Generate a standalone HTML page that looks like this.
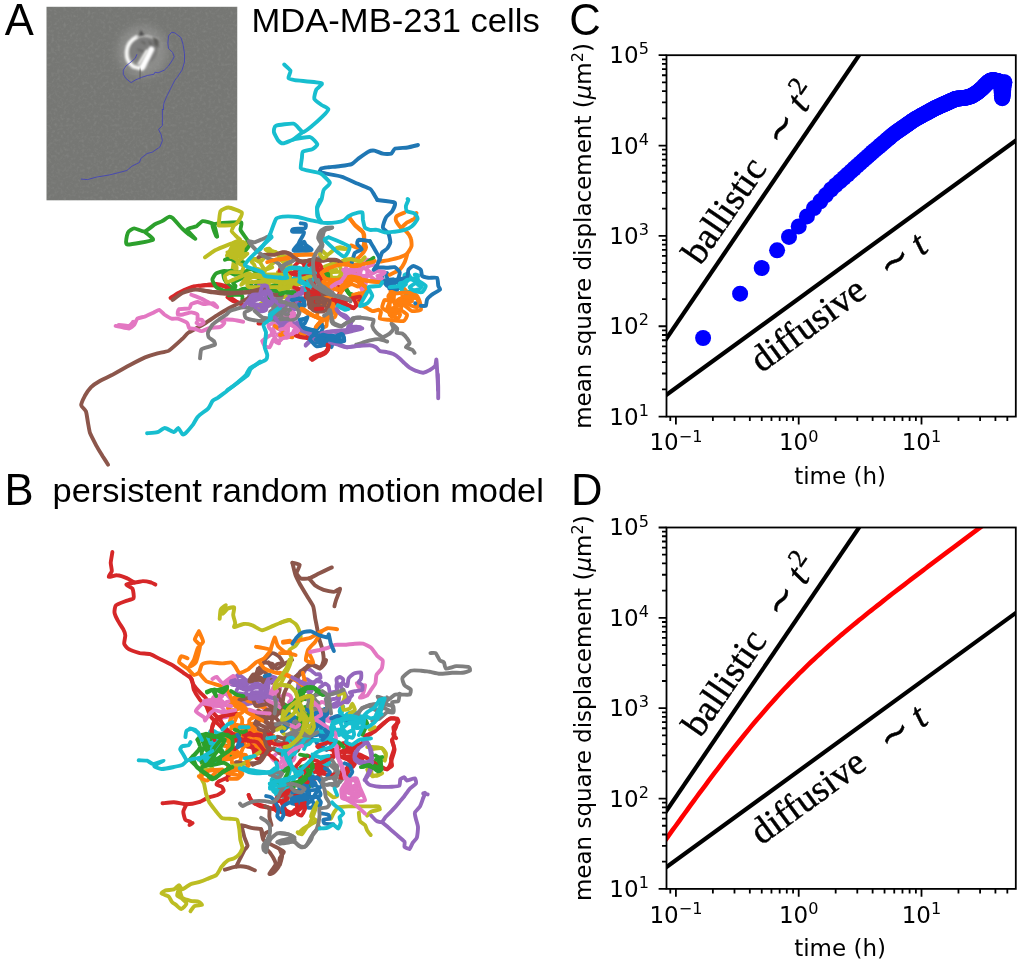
<!DOCTYPE html>
<html lang="en"><head><meta charset="utf-8"><title>Cell migration figure</title>
<style>
html,body{margin:0;padding:0;background:#fff;}
body{width:1025px;height:964px;overflow:hidden;}
svg{display:block;}
.hv{font-family:"Liberation Sans",Arial,Helvetica,sans-serif;fill:#000;}
.dj{font-family:"DejaVu Sans","Liberation Sans",sans-serif;fill:#000;font-size:23px;}
.sup{font-size:16.1px;}
.sr{font-family:"Liberation Serif","Times New Roman",serif;fill:#000;stroke:#000;stroke-width:0.45px;}
.trk{fill:none;stroke-width:3.9;stroke-linejoin:round;stroke-linecap:round;}
</style></head><body>
<svg width="1025" height="964" viewBox="0 0 1025 964">
<rect x="0" y="0" width="1025" height="964" fill="#ffffff"/>
<text class="hv" x="4.8" y="35.3" font-size="43.6">A</text>
<text class="hv" x="4.6" y="504.9" font-size="43.6">B</text>
<text class="hv" x="569.2" y="35.4" font-size="43.6">C</text>
<text class="hv" x="570.9" y="504.9" font-size="43.6">D</text>
<text class="hv" x="251.5" y="31.8" font-size="34" textLength="288.2" lengthAdjust="spacingAndGlyphs">MDA-MB-231 cells</text>
<text class="hv" x="52.6" y="501.8" font-size="34" textLength="491.3" lengthAdjust="spacingAndGlyphs">persistent random motion model</text>
<defs>
<filter id="nz" x="0" y="0" width="100%" height="100%"><feTurbulence type="fractalNoise" baseFrequency="0.33" numOctaves="2" seed="7" result="t"/><feColorMatrix in="t" type="matrix" values="0 0 0 0 0.46  0 0 0 0 0.465  0 0 0 0 0.45  0.9 0.9 0.9 0 -1.25"/></filter>
<filter id="bl1" x="-50%" y="-50%" width="200%" height="200%"><feGaussianBlur stdDeviation="0.9"/></filter>
<filter id="bl3" x="-50%" y="-50%" width="200%" height="200%"><feGaussianBlur stdDeviation="4"/></filter>
<clipPath id="mclip"><rect x="46.3" y="6.6" width="191.2" height="194"/></clipPath>
</defs>
<g id="micro" clip-path="url(#mclip)">
<rect x="46.3" y="6.6" width="191.2" height="194" fill="#767774"/>
<rect x="46.3" y="6.6" width="191.2" height="194" fill="#8c8d8a" filter="url(#nz)" opacity="0.24"/>
<ellipse cx="142.5" cy="51.5" rx="25" ry="26" fill="#a2a2a0" opacity="0.5" filter="url(#bl3)"/>
<ellipse cx="143.6" cy="49.9" rx="14" ry="14.5" fill="#7d7d7b" filter="url(#bl1)"/>
<path d="M141.5 41.1L145.6 44.2M137.3 49.4L143.6 51.5M148.8 41.1L151.9 45.3" stroke="#5c5c5a" stroke-width="1.5" fill="none" filter="url(#bl1)"/>
<path d="M136.3 37.2 C124.4 43.2 123.3 59.8 133.7 66.8 L141.5 68.6" stroke="#fbfbf9" stroke-width="3.8" fill="none" stroke-linecap="round" filter="url(#bl1)"/>
<path d="M135.8 37.5 C142.5 34.7 150.8 35.9 158.6 40.3" stroke="#cfcfcd" stroke-width="1.8" fill="none" filter="url(#bl1)"/>
<path d="M151.3 49.4 L142.5 66.8" stroke="#ffffff" stroke-width="6" fill="none" stroke-linecap="round" filter="url(#bl1)"/>
<path d="M146.7 51.0 L138.9 63.9" stroke="#ecece9" stroke-width="2.8" fill="none" stroke-linecap="round" filter="url(#bl1)"/>
<path d="M138.6 35.9 L140.7 29.9 L144.8 35.2 Z" fill="#4a4a48" filter="url(#bl1)"/>
<path d="M152.4 36.5 L158.6 39.6 L158.3 47.9 L154.5 44.8 Z" fill="#5b5b59" filter="url(#bl1)"/>
<path d="M140.7 68.6 L140.2 79.0" stroke="#5a5a58" stroke-width="1.8" fill="none" filter="url(#bl1)"/>
<polyline points="136.8,54.6 135.3,58.2 131.1,61.9 125.9,66.0 123.3,70.2 123.3,74.3 125.9,78.5 131.1,82.6 135.3,80.0 141.5,77.4 147.7,75.4 153.9,74.3 155.0,72.2 158.1,72.8 164.3,70.2 168.5,66.0 172.6,59.8 174.2,56.7 172.6,52.5 168.5,48.4 167.9,43.2 168.5,35.9 171.6,32.3 174.7,32.8 180.9,37.5 183.0,44.2 184.5,53.6 184.5,61.9 182.0,70.2 177.8,76.4 174.7,80.5 170.5,88.8 166.4,97.1 163.8,103.4 163.3,110.0 162.4,109.1 162.4,125.6 158.5,129.4 161.1,134.4 162.4,140.8 159.8,147.1 152.2,152.2 147.1,153.5 140.8,158.5 139.5,162.4 131.9,166.2 126.8,170.5 119.2,172.5 109.1,175.0 96.4,177.1 87.5,179.6 81.2,179.1" fill="none" stroke="#3b3cc0" stroke-width="1" stroke-linejoin="round" stroke-linecap="round" opacity="0.78"/>
</g>
<g id="tracksA">
<path class="trk" stroke="#bcbd22" d="M258.9 281.2C258.8 281.5 258.2 284.3 258.2 285.0C258.3 285.7 258.9 288.1 259.2 288.8C259.5 289.4 260.7 291.7 261.2 292.1C261.7 292.5 264.3 293.3 264.9 293.3C265.6 293.2 267.8 291.7 268.4 291.6C269.1 291.5 271.6 292.6 272.2 292.5C272.9 292.3 274.7 290.4 275.1 289.9C275.5 289.3 276.4 286.9 276.4 286.2C276.4 285.5 275.8 282.9 275.3 282.4C274.9 282.0 272.3 281.4 271.6 281.4C270.9 281.3 268.4 281.6 267.7 281.6C267.0 281.6 264.4 281.6 263.8 281.3C263.1 281.1 261.0 279.5 260.7 278.9C260.4 278.3 260.2 275.7 260.3 275.0C260.4 274.3 261.1 271.9 261.6 271.4C262.0 270.9 264.5 270.0 265.1 269.7C265.7 269.3 267.8 267.9 268.3 267.5C268.9 267.0 270.6 265.3 271.2 264.8C271.7 264.3 273.6 262.8 274.1 262.2C274.6 261.7 276.0 259.6 276.6 259.3C277.2 259.0 279.9 259.3 280.5 259.0C281.1 258.6 282.2 255.9 282.7 255.8C283.3 255.6 286.1 256.8 286.3 257.2C286.6 257.7 285.6 260.3 285.4 261.0C285.2 261.7 284.6 264.1 284.6 264.8C284.5 265.5 284.9 268.0 285.0 268.7C285.1 269.4 285.8 271.8 286.0 272.5C286.3 273.1 288.0 275.2 288.0 275.8C288.1 276.5 287.0 278.9 287.0 279.6C287.0 280.3 287.8 282.7 287.9 283.4C288.0 284.1 287.9 286.6 288.0 287.3C288.0 288.0 288.0 290.5 288.1 291.2C288.3 291.9 289.8 294.3 289.7 294.8C289.5 295.3 286.8 296.2 286.2 296.5C285.5 296.7 283.1 297.2 282.4 297.5C281.7 297.8 279.6 299.4 279.0 299.4C278.4 299.4 276.1 297.9 275.4 297.9C274.8 297.9 272.4 299.0 271.8 299.3C271.1 299.6 269.0 300.9 268.3 301.1C267.7 301.3 265.1 301.5 264.5 301.7C263.8 301.9 261.5 303.0 261.0 303.4C260.5 303.9 259.2 306.1 258.9 306.8C258.7 307.4 258.0 310.2 258.2 310.6C258.5 311.0 261.5 310.9 262.1 310.7C262.8 310.4 264.5 308.5 265.1 308.1C265.6 307.6 267.6 306.0 268.2 305.8C268.8 305.5 271.3 305.0 272.0 305.0C272.7 305.1 275.1 306.4 275.7 306.3C276.3 306.2 278.6 304.5 278.9 304.0C279.1 303.4 278.7 300.8 278.7 300.1C278.7 299.3 278.7 296.8 278.5 296.2C278.2 295.6 275.9 294.1 275.6 293.5C275.2 293.0 275.2 290.3 274.9 289.7C274.6 289.1 272.6 287.4 272.1 287.0C271.6 286.5 269.4 285.2 268.9 284.7C268.4 284.2 267.0 282.1 266.6 281.5C266.2 280.9 265.1 278.7 264.8 278.1C264.5 277.4 263.3 275.1 263.3 274.5C263.3 273.8 264.9 271.6 264.9 270.9C264.8 270.3 263.0 267.9 262.9 267.6"/>
<path class="trk" stroke="#bcbd22" d="M242.7 256.3C242.6 256.7 241.9 259.6 241.4 260.0C241.0 260.4 238.2 260.6 237.7 261.0C237.1 261.3 235.1 263.2 235.0 263.8C234.9 264.4 236.5 266.7 236.6 267.4C236.7 268.1 236.5 271.1 236.1 271.3C235.8 271.4 233.1 269.7 232.8 269.2C232.6 268.6 233.1 266.0 233.2 265.3C233.2 264.6 233.7 262.2 233.8 261.5C233.9 260.7 233.9 258.3 233.9 257.6C233.9 256.8 233.8 254.4 233.9 253.7C234.0 253.0 234.6 250.4 235.1 249.9C235.5 249.4 238.1 248.7 238.6 248.3C239.2 247.9 240.8 246.0 241.2 245.4C241.7 244.9 243.6 242.6 243.5 242.2C243.3 241.9 240.1 241.4 239.6 241.7C239.1 242.0 238.3 244.8 237.7 245.1C237.2 245.4 234.4 244.6 233.8 244.9C233.2 245.2 231.6 247.3 231.4 247.9C231.2 248.6 231.4 251.2 231.6 251.8C231.9 252.5 233.7 254.4 233.8 255.0C233.9 255.7 233.2 258.4 232.8 258.8C232.3 259.1 229.4 259.1 228.9 258.8C228.4 258.5 226.9 256.0 227.0 255.5C227.0 254.9 228.9 252.7 229.5 252.5C230.1 252.3 232.7 252.8 233.3 253.2C233.9 253.5 235.2 255.9 235.8 256.2C236.4 256.4 239.1 256.3 239.7 256.1C240.4 255.8 242.2 254.0 242.7 253.5C243.2 253.0 245.1 251.3 245.4 250.7C245.6 250.1 245.2 247.5 245.4 246.8C245.6 246.2 247.0 243.9 247.6 243.6C248.2 243.3 251.4 243.8 251.5 243.6C251.6 243.4 248.8 241.5 248.2 241.5C247.6 241.5 245.2 243.0 244.9 243.5C244.5 244.1 244.4 247.0 244.4 247.4"/>
<path class="trk" stroke="#bcbd22" d="M277.9 272.1C278.3 272.1 281.1 272.0 281.8 272.1C282.5 272.2 284.9 272.7 285.6 272.9C286.3 273.1 288.7 274.7 289.2 274.5C289.6 274.3 290.5 271.4 290.4 270.8C290.4 270.1 288.9 268.0 288.5 267.4C288.2 266.7 287.1 264.5 286.6 264.0C286.1 263.5 283.8 262.5 283.2 262.1C282.6 261.6 280.8 260.0 280.4 259.4C280.0 258.8 279.5 256.2 279.1 255.7C278.6 255.2 276.4 253.9 275.8 253.5C275.3 253.1 273.3 251.4 272.7 251.2C272.0 251.0 269.5 251.5 268.8 251.4C268.1 251.2 265.3 249.7 265.4 249.5C265.4 249.2 268.6 248.4 269.2 248.6C269.8 248.8 271.4 250.9 272.0 251.3C272.6 251.6 275.3 251.7 275.9 252.0C276.5 252.4 278.2 254.3 278.5 254.9C278.9 255.5 279.4 258.2 279.8 258.5C280.3 258.9 283.0 259.1 283.7 259.2C284.4 259.3 286.9 259.6 287.5 260.0C288.1 260.3 289.9 262.2 290.2 262.8C290.5 263.4 290.5 266.0 290.4 266.7C290.4 267.4 289.7 269.8 289.5 270.4C289.2 271.1 287.8 273.2 287.4 273.7C286.9 274.3 285.2 276.0 284.7 276.5C284.2 277.0 282.4 279.1 281.8 279.2C281.2 279.3 278.8 277.9 278.1 277.7C277.5 277.6 274.9 277.8 274.3 277.9C273.6 278.1 271.3 279.7 270.7 279.5C270.1 279.4 268.6 277.1 268.0 276.7C267.5 276.2 265.3 275.0 264.7 274.7C264.1 274.3 261.8 273.3 261.3 272.8C260.8 272.4 259.7 270.0 259.2 269.6C258.6 269.1 256.0 268.7 255.5 268.2C255.0 267.7 254.5 265.1 254.1 264.5C253.7 264.0 251.5 262.2 251.5 261.7C251.5 261.2 253.7 259.3 254.3 259.0C255.0 258.8 257.5 259.1 258.2 259.2C258.9 259.4 261.3 260.8 261.9 260.6C262.4 260.4 264.0 257.8 264.2 257.5"/>
<path class="trk" stroke="#2ca02c" d="M238.4 278.5C238.6 278.3 240.8 276.4 241.4 276.1C242.0 275.8 244.5 275.1 245.2 275.0C245.9 274.9 248.3 275.1 249.1 275.1C249.8 275.2 252.3 275.3 252.9 275.5C253.6 275.7 255.8 276.9 256.5 277.2C257.1 277.5 259.8 279.1 259.9 278.9C260.1 278.8 258.6 276.1 258.2 275.4C257.8 274.8 256.4 272.8 255.9 272.3C255.4 271.8 253.6 270.0 253.0 269.7C252.4 269.4 249.8 268.9 249.1 269.1C248.5 269.2 246.6 271.1 246.0 271.3C245.3 271.6 242.8 271.6 242.1 271.7C241.4 271.8 239.0 272.4 238.3 272.5C237.5 272.5 235.0 272.6 234.4 272.4C233.7 272.2 231.6 270.7 230.9 270.6C230.2 270.5 227.8 271.4 227.1 271.5C226.4 271.6 223.6 271.4 223.2 271.7C222.9 272.1 223.4 274.9 223.5 275.6C223.6 276.3 224.2 278.7 224.5 279.4C224.7 280.0 226.1 282.1 226.5 282.7C227.0 283.3 228.8 285.0 229.3 285.4C229.9 285.9 232.0 287.2 232.5 287.6C233.1 288.1 234.7 290.1 235.4 290.3C236.0 290.6 238.6 290.8 239.2 290.6C239.9 290.5 242.1 289.1 242.7 288.9C243.4 288.8 246.0 288.8 246.6 288.9C247.3 289.1 249.7 290.4 250.3 290.3C250.9 290.2 252.9 288.4 253.5 288.0C254.0 287.6 256.1 286.2 256.6 285.6C257.0 285.1 258.2 282.5 258.4 282.2"/>
<path class="trk" stroke="#2ca02c" d="M269.6 290.5C269.9 290.6 272.6 291.6 273.2 292.0C273.8 292.3 276.0 293.6 276.4 294.1C276.9 294.7 278.3 297.0 278.2 297.6C278.2 298.2 276.5 300.6 276.0 300.8C275.5 301.0 272.9 300.1 272.2 299.8C271.6 299.5 269.7 297.9 269.1 297.5C268.5 297.0 266.5 295.5 265.9 295.2C265.3 294.8 263.1 293.7 262.4 293.5C261.8 293.2 259.3 292.7 258.6 292.6C257.9 292.5 255.1 293.0 254.7 292.6C254.4 292.3 255.0 289.5 255.1 288.8C255.2 288.1 255.5 285.5 255.9 284.9C256.2 284.4 258.5 282.7 259.1 282.7C259.7 282.7 261.8 284.4 262.4 284.8C263.0 285.1 265.1 286.4 265.8 286.7C266.4 286.9 268.9 287.8 269.5 287.7C270.2 287.6 272.2 285.9 272.9 285.7C273.5 285.5 276.1 285.6 276.8 285.7C277.5 285.8 279.8 286.7 280.5 286.9C281.2 287.1 284.0 287.4 284.3 287.5"/>
<path class="trk" stroke="#d62728" d="M311.4 286.7C311.1 286.5 309.3 284.2 308.8 283.8C308.2 283.4 306.0 282.0 305.4 282.0C304.7 281.9 302.3 282.9 301.7 283.2C301.0 283.4 298.7 284.5 298.1 284.7C297.4 284.9 295.0 285.5 294.3 285.7C293.6 285.9 290.9 287.1 290.6 286.8C290.2 286.6 290.2 283.5 290.6 282.9C290.9 282.4 293.3 281.2 294.0 281.1C294.7 281.0 297.2 282.1 297.8 281.9C298.4 281.7 299.8 279.2 300.4 279.0C301.0 278.8 303.8 278.9 304.3 279.3C304.8 279.6 305.5 282.6 306.0 282.8C306.5 282.9 308.9 281.4 309.4 281.0C310.0 280.6 311.7 278.7 312.2 278.3C312.8 277.8 315.0 276.7 315.6 276.3C316.2 276.0 318.3 274.0 318.8 274.1C319.3 274.2 320.5 276.8 320.7 277.5C320.9 278.2 321.0 280.7 320.9 281.4C320.8 282.1 320.1 284.5 319.7 285.1C319.3 285.6 317.2 287.4 316.6 287.5C316.0 287.6 313.5 286.9 312.8 286.5C312.2 286.2 310.5 284.4 309.9 284.0C309.3 283.6 307.0 282.6 306.4 282.4C305.7 282.1 303.3 281.3 302.7 281.0C302.0 280.8 299.6 279.8 299.2 279.3C298.7 278.8 297.6 276.3 297.7 275.7C297.8 275.1 299.9 273.4 300.5 273.0C301.2 272.7 303.8 272.2 304.4 272.3C305.0 272.5 306.9 274.3 307.3 274.9C307.8 275.4 309.0 277.6 309.2 278.3C309.4 279.0 309.3 281.5 309.2 282.2C309.1 282.9 308.5 285.3 308.2 286.0C308.0 286.6 306.6 288.7 306.3 289.4C306.0 290.0 305.4 292.5 305.4 293.2C305.3 293.9 306.0 296.5 305.8 297.0C305.6 297.6 303.3 299.0 302.7 299.5C302.2 299.9 300.1 301.3 299.5 301.6C298.8 301.9 296.3 302.9 295.7 302.7C295.2 302.5 293.5 300.1 293.5 299.5C293.5 298.9 295.3 296.8 295.6 296.2C295.9 295.6 297.0 293.2 296.9 292.5C296.9 291.9 295.1 289.9 294.9 289.2C294.7 288.6 294.5 286.1 294.5 285.3C294.5 284.6 294.7 282.1 295.0 281.5C295.2 280.8 297.2 278.8 297.5 278.5"/>
<path class="trk" stroke="#d62728" d="M330.9 303.0C330.6 303.2 328.5 305.3 327.9 305.5C327.3 305.8 324.7 305.8 324.0 305.9C323.3 306.0 320.7 307.0 320.2 306.7C319.7 306.5 318.2 304.1 318.1 303.4C318.0 302.8 318.8 300.3 319.1 299.7C319.4 299.1 321.3 297.3 321.9 296.9C322.5 296.6 324.8 295.6 325.5 295.5C326.2 295.3 328.7 294.9 329.4 295.1C330.0 295.3 332.0 296.9 332.6 297.3C333.2 297.7 335.6 299.1 336.1 299.0C336.7 298.9 338.3 296.6 338.6 296.0C338.9 295.4 339.3 292.8 339.7 292.2C340.1 291.7 342.8 290.4 342.9 289.9C342.9 289.4 341.1 287.1 340.5 286.8C339.9 286.5 337.3 286.7 336.6 286.7C335.9 286.7 333.3 286.4 332.7 286.7C332.1 287.0 331.1 289.7 330.5 289.9C330.0 290.1 327.3 289.4 326.7 289.1C326.1 288.7 324.5 286.2 324.0 286.2C323.6 286.2 321.5 288.4 321.3 289.0C321.1 289.6 321.8 292.3 322.2 292.8C322.5 293.4 324.8 294.9 325.4 294.9C326.0 295.0 328.4 293.8 329.0 293.4C329.6 293.0 331.3 291.2 331.8 290.7C332.3 290.2 334.5 288.4 334.8 288.2"/>
<path class="trk" stroke="#d62728" d="M296.6 269.9C296.4 269.6 294.1 267.5 294.1 266.9C294.1 266.4 296.0 264.3 296.5 263.9C297.0 263.4 299.2 261.9 299.9 261.9C300.5 261.9 302.9 263.1 303.4 263.6C303.8 264.1 304.7 266.8 304.5 267.3C304.3 267.9 301.7 268.9 301.1 269.1C300.4 269.4 298.0 269.9 297.3 270.2C296.7 270.5 294.4 271.6 293.9 272.0C293.3 272.4 291.4 274.1 291.0 274.6C290.6 275.2 289.0 277.7 289.2 278.1C289.4 278.5 292.3 278.8 293.0 278.9C293.7 279.0 296.2 279.1 296.9 279.3C297.6 279.5 299.9 280.6 300.5 280.7C301.2 280.7 303.8 280.3 304.4 279.9C304.9 279.5 306.3 277.3 306.6 276.7C306.8 276.0 307.0 273.5 306.9 272.8C306.8 272.1 306.0 269.7 305.8 269.1C305.5 268.4 304.6 266.0 304.6 265.3C304.7 264.6 305.7 261.8 306.1 261.7C306.4 261.6 308.5 264.2 308.8 264.5"/>
<path class="trk" stroke="#8c564b" d="M318.7 301.2C319.0 301.4 321.1 303.5 321.7 303.7C322.3 303.9 325.0 303.8 325.6 303.5C326.2 303.2 328.0 301.1 328.0 300.5C328.1 299.9 326.6 297.6 326.1 297.1C325.6 296.6 323.3 295.5 322.6 295.2C322.0 295.0 319.5 294.8 318.8 294.7C318.1 294.7 315.5 294.3 314.9 294.5C314.3 294.8 312.3 296.8 312.2 297.4C312.2 298.0 313.7 300.3 314.0 300.9C314.4 301.5 315.4 303.8 315.9 304.3C316.4 304.7 318.8 305.7 319.5 305.9C320.2 306.0 322.7 305.8 323.4 305.6C324.1 305.4 326.5 304.4 326.9 303.9C327.2 303.4 327.4 300.7 327.3 300.0C327.1 299.3 325.9 297.1 325.5 296.5C325.1 295.9 323.6 293.8 323.0 293.5C322.5 293.2 319.7 293.3 319.2 293.0C318.6 292.7 317.2 290.2 316.7 290.0C316.1 289.8 313.5 290.4 312.8 290.7C312.2 290.9 310.0 292.3 309.5 292.7C309.0 293.2 307.0 295.0 306.9 295.6C306.8 296.2 307.7 298.8 308.0 299.4C308.4 300.0 310.2 301.9 310.8 302.1C311.4 302.3 314.0 301.9 314.7 302.0C315.4 302.1 317.7 303.1 318.4 303.3C319.1 303.4 321.6 303.6 322.3 303.7C323.0 303.8 325.7 304.5 326.1 304.2C326.6 303.9 327.5 301.1 327.4 300.5C327.3 299.9 325.3 297.9 325.2 297.3C325.1 296.6 326.1 293.8 326.2 293.5"/>
<path class="trk" stroke="#9467bd" d="M260.0 297.5C259.8 297.2 257.8 295.1 257.5 294.4C257.3 293.8 257.5 291.2 257.7 290.5C257.8 289.8 258.6 287.5 258.7 286.8C258.9 286.1 259.2 283.4 259.7 283.0C260.1 282.6 263.1 282.6 263.6 282.9C264.0 283.2 264.6 285.9 264.6 286.6C264.7 287.3 264.6 289.8 264.6 290.5C264.5 291.3 264.1 293.8 263.7 294.4C263.4 294.9 260.6 296.0 260.5 296.5C260.4 297.0 262.1 299.2 262.5 299.8C262.9 300.4 264.7 302.2 265.1 302.8C265.4 303.4 266.3 305.7 266.4 306.4C266.5 307.1 266.1 309.8 265.7 310.3C265.2 310.7 262.6 311.3 261.9 311.3C261.2 311.3 258.7 310.6 258.1 310.3C257.5 310.0 255.6 308.3 255.1 307.9C254.5 307.4 252.5 306.0 252.0 305.6C251.4 305.1 249.1 303.5 249.1 302.9C249.0 302.4 251.0 300.4 251.3 299.8C251.7 299.1 252.4 296.7 252.8 296.2C253.2 295.6 255.6 294.3 255.9 293.7C256.1 293.1 255.7 290.5 255.5 289.8C255.3 289.2 254.1 286.5 253.7 286.4C253.3 286.3 251.1 288.5 250.8 289.1C250.6 289.7 251.0 292.3 250.8 293.0C250.6 293.6 249.2 295.7 248.9 296.4C248.7 297.1 248.0 299.7 248.2 300.2C248.4 300.8 251.2 301.8 251.4 302.4C251.7 302.9 251.4 306.2 251.1 306.3C250.8 306.4 248.7 303.9 248.6 303.3C248.4 302.7 249.1 299.9 249.5 299.5C249.9 299.0 252.6 298.7 253.2 298.3C253.8 298.0 255.5 296.1 256.0 295.6C256.5 295.1 258.5 293.6 259.1 293.2C259.7 292.8 261.9 291.5 262.6 291.5C263.3 291.5 265.6 292.8 266.3 292.8C266.9 292.8 269.2 291.4 269.9 291.3C270.6 291.2 273.2 291.2 273.8 291.5C274.3 291.8 275.8 294.1 276.0 294.7C276.3 295.3 276.7 298.1 276.4 298.6C276.2 299.1 273.5 299.9 273.0 300.4C272.6 300.9 272.0 303.6 271.6 304.1C271.1 304.6 268.7 305.5 268.1 305.9C267.5 306.2 265.6 308.0 265.0 308.2C264.3 308.3 261.5 307.4 261.2 307.3"/>
<path class="trk" stroke="#9467bd" d="M289.4 303.5C289.5 303.8 290.4 306.5 290.8 307.1C291.1 307.7 292.9 309.9 293.5 309.9C294.0 310.0 296.3 308.4 296.8 308.0C297.3 307.5 299.0 305.3 299.0 304.7C298.9 304.1 296.5 302.4 296.4 301.8C296.2 301.1 297.2 298.7 297.4 298.0C297.5 297.3 298.2 294.8 298.0 294.1C297.9 293.5 296.4 291.2 295.8 290.9C295.2 290.7 292.5 291.2 291.9 291.4C291.3 291.7 289.1 293.5 289.0 294.0C288.9 294.6 291.0 297.0 290.8 297.5C290.7 297.9 287.5 298.7 287.3 299.1C287.1 299.6 288.7 302.2 288.6 302.8C288.5 303.4 286.7 305.3 286.2 305.9C285.8 306.4 284.0 308.2 283.5 308.7C283.1 309.3 281.1 311.5 281.2 311.8C281.4 312.2 284.4 312.4 285.1 312.4C285.8 312.4 288.2 311.7 288.8 311.4C289.5 311.1 291.5 309.6 292.0 309.0C292.4 308.5 293.9 306.1 294.1 305.8"/>
<path class="trk" stroke="#7f7f7f" d="M284.2 311.1C283.8 311.1 281.0 311.3 280.3 311.3C279.6 311.2 276.9 310.6 276.4 310.9C275.9 311.2 275.0 313.9 274.5 314.3C274.0 314.7 271.1 315.7 270.8 315.4C270.5 315.2 271.0 311.9 271.4 311.6C271.8 311.3 274.6 312.2 275.3 312.2C276.0 312.2 278.4 311.6 279.1 311.6C279.8 311.5 282.3 311.9 283.0 311.7C283.7 311.6 285.8 310.1 286.5 310.0C287.2 309.9 289.7 310.7 290.3 311.0C290.9 311.4 292.4 313.4 292.8 314.0C293.2 314.5 295.0 316.6 295.0 317.2C295.0 317.8 293.3 320.1 292.8 320.5C292.2 320.9 289.7 321.3 289.0 321.4C288.3 321.5 285.8 321.7 285.1 321.5C284.4 321.4 282.1 320.4 281.5 320.2C280.8 320.0 278.1 319.8 277.6 319.4C277.2 319.0 276.9 316.1 276.5 315.7C276.0 315.3 273.2 315.2 272.6 314.9C272.1 314.5 270.0 312.5 270.0 312.0C270.0 311.5 272.7 310.1 273.0 309.5C273.3 308.9 273.1 306.2 273.4 305.6C273.7 305.0 275.9 303.6 276.3 303.1C276.8 302.6 278.0 300.4 278.5 299.9C279.0 299.4 281.8 297.9 281.7 297.7C281.7 297.5 278.3 297.4 277.8 297.7C277.4 298.1 276.8 300.7 276.6 301.4C276.4 302.1 275.5 304.6 275.6 305.2C275.7 305.9 277.2 308.0 277.6 308.6C277.9 309.2 279.4 311.2 279.8 311.8C280.2 312.4 281.4 314.6 281.7 315.2C281.9 315.9 282.6 318.3 282.6 319.0C282.7 319.7 282.4 322.3 282.1 322.9C281.7 323.4 279.3 325.0 278.8 324.9C278.3 324.8 276.7 322.1 276.5 321.8"/>
<path class="trk" stroke="#7f7f7f" d="M317.7 266.2C317.4 266.4 314.7 268.0 314.5 268.5C314.4 269.0 315.8 271.6 316.3 272.0C316.8 272.3 319.5 272.4 320.2 272.4C320.9 272.4 323.4 272.4 324.1 272.3C324.8 272.2 327.5 271.9 327.9 271.5C328.3 271.1 328.3 268.3 328.5 267.7C328.8 267.0 330.1 264.9 330.5 264.3C330.9 263.7 332.5 261.0 332.8 261.1C333.0 261.2 332.9 264.3 332.8 265.0C332.6 265.7 331.3 267.8 331.0 268.5C330.6 269.1 329.9 271.7 329.4 272.0C328.9 272.4 326.2 272.6 325.5 272.6C324.8 272.6 322.3 272.3 321.7 272.0C321.0 271.8 319.2 270.0 318.6 269.7C318.0 269.4 315.5 269.0 314.8 268.7C314.1 268.5 311.4 267.7 311.2 267.2C311.0 266.7 311.8 263.9 312.2 263.5C312.6 263.1 315.4 263.1 316.1 262.8C316.7 262.6 319.0 261.5 319.5 261.0C320.0 260.6 322.0 258.2 321.9 257.9C321.7 257.7 318.3 257.8 318.0 258.2C317.7 258.5 318.6 261.3 318.6 262.0C318.5 262.7 317.6 265.1 317.4 265.7C317.1 266.4 316.0 268.7 315.5 269.2C315.0 269.6 312.1 270.2 311.8 270.3"/>
<path class="trk" stroke="#ff7f0e" d="M345.2 280.3C345.1 280.6 344.2 283.3 343.8 283.9C343.5 284.5 342.1 286.6 341.9 287.3C341.7 287.9 341.9 290.5 341.7 291.2C341.5 291.8 340.0 293.9 339.8 294.6C339.7 295.2 339.9 297.8 340.0 298.5C340.1 299.2 341.5 302.0 341.2 302.2C341.0 302.4 338.2 301.2 337.6 300.8C336.9 300.5 334.9 299.1 334.4 298.5C334.0 298.0 333.3 295.5 332.9 294.9C332.6 294.3 330.8 292.4 330.7 291.7C330.6 291.1 331.3 288.6 331.4 287.9C331.5 287.2 332.0 284.7 331.8 284.0C331.7 283.3 330.4 281.1 329.9 280.6C329.5 280.1 327.3 278.3 326.8 278.4C326.2 278.4 324.2 280.6 324.1 281.2C323.9 281.8 324.6 284.4 325.0 285.0C325.3 285.6 327.4 287.1 327.8 287.6C328.2 288.2 329.4 290.4 329.6 291.1C329.8 291.8 329.3 294.4 329.6 295.0C329.9 295.6 332.1 297.2 332.7 297.4C333.3 297.6 336.0 297.0 336.6 297.2C337.3 297.4 339.3 298.9 339.8 299.4C340.3 299.9 341.1 302.7 341.6 302.9C342.1 303.1 344.6 301.8 345.2 301.5C345.9 301.2 347.8 299.7 348.4 299.2C349.0 298.8 351.1 297.5 351.7 297.1C352.3 296.7 354.4 295.4 355.0 295.0C355.6 294.7 357.8 293.4 358.5 293.4C359.2 293.3 361.8 294.9 362.2 294.7C362.5 294.5 362.6 291.5 362.5 290.8C362.4 290.1 361.5 287.8 361.4 287.1C361.4 286.4 361.4 283.7 361.7 283.2C362.1 282.6 364.8 281.7 365.1 281.2C365.3 280.6 364.6 277.8 364.2 277.4C363.8 276.9 361.1 276.7 360.4 276.4C359.8 276.1 357.6 274.9 357.0 274.5C356.5 274.0 355.3 271.8 354.9 271.2C354.4 270.7 353.0 268.7 352.5 268.1C352.1 267.6 350.4 265.7 349.9 265.2C349.5 264.7 347.7 262.8 347.1 262.5C346.5 262.1 344.1 261.2 343.4 261.3C342.8 261.3 340.4 262.4 339.8 262.8C339.2 263.1 337.5 265.0 336.9 265.4C336.3 265.7 333.5 265.7 333.1 266.1C332.7 266.6 332.7 269.4 332.4 270.0C332.1 270.6 330.1 272.2 329.7 272.8C329.2 273.3 327.7 275.3 327.2 275.8C326.7 276.3 324.8 278.0 324.4 278.6C324.0 279.1 322.7 281.7 322.9 282.1C323.1 282.6 326.2 283.5 326.5 283.7"/>
<path class="trk" stroke="#ff7f0e" d="M328.6 315.3C328.8 315.6 330.6 318.1 331.1 318.3C331.7 318.4 334.4 317.5 334.8 317.0C335.3 316.6 336.2 313.9 336.1 313.3C336.0 312.7 334.2 310.7 333.7 310.3C333.1 309.9 330.4 309.5 329.9 309.1C329.4 308.7 328.2 306.3 328.2 305.6C328.2 305.0 329.6 302.8 329.8 302.1C330.0 301.4 330.9 298.7 330.7 298.3C330.4 297.9 327.5 297.6 326.8 297.7C326.1 297.8 323.8 299.0 323.4 299.5C323.0 300.0 322.7 302.7 322.3 303.3C322.0 303.9 319.8 305.3 319.5 305.9C319.2 306.5 319.2 309.1 319.0 309.8C318.8 310.5 317.4 312.6 317.3 313.3C317.2 314.0 317.5 316.6 317.8 317.2C318.1 317.8 320.2 319.3 320.6 319.9C320.9 320.5 321.7 322.9 321.9 323.6C322.1 324.3 322.4 327.2 322.8 327.4C323.2 327.6 326.1 326.5 326.4 326.0C326.8 325.5 326.7 322.8 326.7 322.1C326.8 321.4 327.4 319.0 327.5 318.3C327.5 317.6 327.5 315.1 327.5 314.4C327.6 313.7 327.6 311.1 327.9 310.5C328.2 309.9 330.2 308.3 330.8 307.8C331.3 307.3 333.3 305.4 333.6 305.2"/>
<path class="trk" stroke="#ff7f0e" d="M403.0 301.9C402.9 302.3 401.8 304.9 401.6 305.6C401.4 306.3 401.2 308.8 400.9 309.4C400.5 310.0 398.4 311.5 397.9 312.0C397.4 312.5 395.6 314.2 395.1 314.7C394.6 315.2 392.6 317.3 392.1 317.2C391.6 317.1 389.9 314.7 389.8 314.1C389.7 313.4 390.8 311.0 391.2 310.4C391.6 309.8 393.2 307.9 393.8 307.5C394.4 307.1 396.7 306.2 397.4 305.9C398.0 305.6 400.3 304.6 400.9 304.3C401.6 304.0 403.9 303.1 404.5 302.7C405.1 302.3 406.5 300.1 407.1 299.8C407.7 299.5 410.3 299.5 411.0 299.3C411.6 299.1 414.4 298.0 414.5 297.6C414.6 297.2 412.6 294.9 412.0 294.6C411.4 294.2 408.7 294.2 408.2 293.8C407.6 293.4 406.4 291.2 405.9 290.6C405.5 290.1 403.9 288.0 403.3 287.8C402.7 287.5 400.1 288.0 399.4 288.1C398.7 288.2 396.1 288.7 395.6 289.1C395.1 289.6 394.5 292.1 394.3 292.8C394.1 293.5 394.0 296.0 393.9 296.7C393.9 297.4 393.7 299.9 393.8 300.6C393.9 301.3 394.7 303.6 394.9 304.3C395.2 305.0 396.1 307.3 396.4 307.9C396.8 308.5 398.3 310.5 398.6 311.2C398.9 311.8 400.1 314.1 400.1 314.8C400.0 315.4 398.7 317.9 398.1 318.2C397.6 318.4 394.9 317.6 394.4 317.2C393.9 316.8 393.2 314.1 392.7 313.7C392.2 313.3 389.4 313.1 388.9 312.7C388.4 312.4 386.9 310.1 386.8 309.4C386.7 308.8 387.9 306.5 388.2 305.8C388.4 305.1 389.4 302.9 389.7 302.2C389.9 301.5 390.8 299.2 391.1 298.6C391.3 297.9 392.2 295.6 392.5 294.9C392.7 294.2 393.5 291.9 393.7 291.2C394.0 290.6 395.2 287.7 395.0 287.5C394.8 287.3 391.7 288.5 391.3 288.9C390.9 289.4 390.5 292.1 390.5 292.7C390.5 293.4 391.3 295.9 391.3 296.6C391.4 297.3 390.9 299.7 390.7 300.4C390.5 301.1 389.7 303.5 389.6 304.2C389.6 304.9 389.8 307.4 390.1 308.0C390.4 308.6 392.5 310.1 393.0 310.7C393.4 311.2 395.4 313.2 395.4 313.7C395.4 314.3 393.7 316.8 393.1 316.9C392.6 317.0 390.1 315.5 389.8 314.9C389.5 314.4 389.3 311.6 389.6 311.0C389.9 310.5 392.2 309.2 392.8 308.8C393.3 308.3 395.2 306.7 395.8 306.2C396.3 305.8 398.3 304.3 398.8 303.7C399.2 303.2 400.5 300.9 401.0 300.6C401.6 300.2 404.5 300.3 404.9 299.9C405.2 299.4 404.9 296.7 405.1 296.0C405.3 295.3 406.1 292.7 406.6 292.4C407.1 292.0 410.1 291.9 410.5 292.3C410.9 292.6 411.4 295.4 411.3 296.1C411.3 296.7 409.8 298.9 409.6 299.6C409.4 300.2 409.0 303.0 408.9 303.4"/>
<path class="trk" stroke="#e377c2" d="M288.0 331.4C288.0 331.0 288.0 328.2 288.0 327.5C287.9 326.8 287.6 324.3 287.4 323.6C287.2 323.0 285.2 320.8 285.3 320.3C285.4 319.9 288.7 318.8 288.7 318.4C288.7 318.0 286.0 316.1 285.5 316.1C285.0 316.2 283.7 319.0 283.1 319.2C282.5 319.4 279.9 318.7 279.2 318.8C278.6 319.0 276.1 320.3 275.9 320.8C275.6 321.4 276.2 324.0 276.3 324.7C276.5 325.4 276.7 328.1 277.2 328.5C277.6 328.9 280.6 328.6 281.0 329.0C281.5 329.4 281.7 332.2 282.0 332.8C282.4 333.4 284.2 335.3 284.8 335.5C285.5 335.7 288.0 335.4 288.7 335.2C289.4 335.1 291.8 334.2 292.3 333.7C292.8 333.3 293.7 330.8 294.1 330.3C294.5 329.7 296.9 328.1 296.9 327.6C296.9 327.1 294.8 325.2 294.2 324.8C293.6 324.4 291.4 323.2 290.8 322.9C290.1 322.7 287.8 321.7 287.1 321.6C286.4 321.5 283.9 321.5 283.2 321.5C282.5 321.6 280.0 321.7 279.3 322.0C278.7 322.2 276.7 323.9 276.3 324.4C275.8 324.9 274.6 327.1 274.2 327.7C273.8 328.3 272.0 330.2 271.9 330.8C271.8 331.5 272.4 334.0 272.7 334.7C272.9 335.3 274.9 337.0 275.1 337.7C275.4 338.3 275.3 341.0 275.6 341.5C276.0 342.0 279.1 343.2 279.1 343.3C279.1 343.3 275.9 342.2 275.6 341.7C275.2 341.2 275.5 338.5 275.2 337.8C275.0 337.2 273.5 335.2 273.1 334.6C272.8 333.9 271.4 331.6 271.5 331.0C271.6 330.4 273.6 328.6 273.9 328.0C274.2 327.4 274.8 324.5 274.9 324.2"/>
<path class="trk" stroke="#e377c2" d="M358.8 272.1C358.6 271.7 357.3 269.3 356.9 268.6C356.5 268.0 355.3 265.8 354.8 265.4C354.3 264.9 351.9 264.0 351.3 263.7C350.7 263.3 348.6 261.2 348.2 261.3C347.7 261.5 347.1 264.3 346.8 265.0C346.6 265.7 345.9 268.1 345.7 268.7C345.5 269.4 344.9 272.0 345.1 272.6C345.3 273.2 347.2 275.3 347.8 275.4C348.4 275.6 350.8 274.3 351.5 274.3C352.2 274.4 354.6 275.2 355.2 275.6C355.8 276.0 357.3 278.0 357.6 278.6C357.9 279.3 358.3 281.8 358.5 282.4C358.8 283.1 360.0 285.3 360.3 285.9C360.6 286.6 361.5 289.4 361.9 289.5C362.4 289.6 364.5 287.5 364.9 286.9C365.3 286.4 365.7 283.8 365.8 283.1C365.9 282.4 365.9 279.9 366.0 279.2C366.1 278.5 366.9 276.2 367.0 275.5C367.1 274.8 367.4 272.3 367.4 271.6C367.3 270.9 366.4 268.3 366.6 267.8C366.8 267.2 369.3 266.0 369.9 265.7C370.6 265.4 373.5 265.0 373.7 264.6C373.8 264.2 372.1 261.8 371.5 261.4C371.0 260.9 368.7 259.8 368.0 259.8C367.3 259.7 364.7 260.6 364.3 261.1C363.9 261.5 363.8 264.2 363.6 264.9C363.3 265.6 361.9 267.7 361.7 268.3C361.4 269.0 360.6 271.3 360.4 272.0C360.3 272.7 360.5 275.2 360.4 275.9C360.4 276.6 360.0 279.4 360.0 279.8"/>
<path class="trk" stroke="#1f77b4" d="M318.4 338.6C318.4 338.2 318.7 335.3 318.9 334.7C319.2 334.0 320.9 332.2 321.2 331.5C321.6 330.9 322.7 328.6 322.7 327.9C322.7 327.3 322.0 324.3 321.6 324.2C321.2 324.1 319.2 326.3 318.7 326.8C318.3 327.4 316.9 329.4 316.5 330.1C316.2 330.7 315.4 333.0 315.0 333.6C314.6 334.2 312.5 335.9 312.3 336.5C312.2 337.1 312.5 339.8 312.9 340.4C313.3 340.9 315.7 341.9 316.4 342.1C317.1 342.3 319.6 342.8 320.3 342.6C320.9 342.4 322.8 340.6 323.3 340.1C323.7 339.6 324.8 337.2 325.3 336.8C325.8 336.3 328.1 335.1 328.8 335.0C329.4 334.9 332.3 335.2 332.6 335.6C333.0 336.0 332.4 338.7 332.4 339.5C332.4 340.2 333.1 342.8 332.8 343.3C332.5 343.9 330.0 345.0 329.3 345.1C328.7 345.3 326.2 344.9 325.5 344.8C324.7 344.8 322.1 345.1 321.6 344.8C321.0 344.5 319.5 342.3 319.0 341.8C318.5 341.3 316.7 339.7 316.2 339.2C315.7 338.7 314.1 336.6 313.5 336.3C312.9 336.1 309.9 336.9 309.6 336.6C309.3 336.2 310.2 333.1 310.6 332.8C311.1 332.5 313.8 332.9 314.5 332.9C315.2 332.9 317.8 332.7 318.4 332.9C319.0 333.1 321.0 334.7 321.6 335.2C322.1 335.7 323.9 337.4 324.3 337.9C324.8 338.5 326.2 340.5 326.7 341.1C327.1 341.6 328.7 343.5 329.2 344.0C329.6 344.6 331.2 347.2 331.5 347.2C331.8 347.1 332.5 344.2 332.7 343.5C332.9 342.8 333.3 340.3 333.3 339.6C333.3 338.9 333.0 336.1 333.0 335.7"/>
<path class="trk" stroke="#1f77b4" d="M391.1 280.7C391.4 280.6 394.3 280.0 395.0 280.2C395.6 280.3 397.8 281.7 398.3 282.2C398.8 282.7 400.4 285.1 400.3 285.6C400.2 286.0 397.5 287.2 396.8 287.4C396.2 287.6 393.7 287.7 393.0 287.8C392.3 287.9 389.4 288.6 389.1 288.3C388.8 288.0 389.4 285.1 389.3 284.4C389.2 283.7 388.0 281.5 387.8 280.8C387.6 280.1 387.0 277.7 386.9 277.0C386.8 276.3 387.4 273.4 387.1 273.1C386.8 272.8 383.7 273.6 383.3 274.1C382.9 274.5 382.5 277.2 382.5 277.9C382.6 278.6 383.2 281.1 383.6 281.7C383.9 282.3 385.8 283.9 386.4 284.3C387.0 284.7 389.3 285.7 390.0 286.0C390.6 286.2 393.1 286.7 393.7 286.9C394.4 287.1 397.0 288.2 397.5 288.0C398.0 287.8 399.3 285.1 399.2 284.5C399.1 284.0 397.1 282.2 396.5 281.7C396.0 281.3 393.5 279.8 393.3 279.6"/>
<path class="trk" stroke="#17becf" d="M297.9 276.4C298.2 276.2 300.1 274.1 300.5 273.5C301.0 273.0 302.7 271.2 303.2 270.7C303.7 270.2 305.5 268.5 305.9 267.9C306.4 267.3 307.5 265.1 307.9 264.5C308.3 263.9 309.7 261.3 310.0 261.3C310.4 261.3 311.7 264.0 311.9 264.7C312.1 265.4 312.5 267.8 312.7 268.5C312.8 269.2 313.5 271.6 313.5 272.3C313.5 273.0 313.0 275.5 313.0 276.2C313.1 276.9 313.9 279.5 313.7 280.1C313.4 280.6 310.6 281.4 310.3 281.9C309.9 282.5 310.4 285.2 310.2 285.8C309.9 286.4 307.9 288.4 307.3 288.5C306.7 288.7 304.2 287.4 303.6 287.4C302.9 287.5 300.1 289.0 300.1 289.3C300.2 289.5 303.2 290.1 303.9 290.1C304.6 290.1 307.4 290.1 307.8 289.7C308.2 289.3 308.3 286.6 308.3 285.8C308.4 285.1 308.6 282.6 308.4 281.9C308.3 281.3 307.3 278.9 306.9 278.4C306.5 277.8 304.5 276.3 303.8 275.9C303.2 275.6 300.7 275.0 300.0 275.0C299.3 275.0 296.8 275.5 296.2 275.9C295.6 276.2 294.0 278.2 293.4 278.6C292.8 279.0 290.2 280.0 289.9 280.1"/>
<path class="trk" stroke="#17becf" d="M405.9 284.3C405.6 284.5 403.1 285.9 402.5 286.2C401.8 286.6 399.4 288.5 399.1 288.3C398.9 288.1 399.1 285.0 399.4 284.4C399.6 283.7 401.1 281.7 401.6 281.2C402.1 280.7 404.5 279.5 404.8 279.0C405.1 278.4 404.2 275.6 404.5 275.1C404.8 274.6 407.6 273.5 408.1 273.7C408.7 273.9 409.7 276.5 410.2 277.0C410.6 277.6 412.3 279.4 412.8 279.9C413.4 280.3 415.7 281.4 416.2 281.9C416.7 282.3 417.9 284.6 418.4 285.1C418.9 285.5 421.9 286.4 421.9 286.8C421.9 287.2 419.5 289.0 418.9 289.3C418.3 289.6 415.8 290.0 415.1 290.1C414.4 290.3 412.0 290.9 411.3 291.1C410.6 291.3 408.3 292.1 407.6 292.3C406.9 292.4 404.2 292.7 403.7 292.4C403.1 292.1 401.6 289.8 401.5 289.2C401.5 288.6 402.9 286.3 403.3 285.7C403.7 285.1 405.4 283.3 405.8 282.7C406.3 282.2 408.0 280.4 408.6 280.0C409.2 279.6 411.5 278.7 412.2 278.5C412.9 278.4 415.6 279.0 416.1 278.7C416.7 278.4 418.6 275.9 418.4 275.6C418.3 275.2 415.0 274.7 414.7 274.7"/>
<path class="trk" stroke="#d62728" d="M170.5 297.9C171.3 297.4 176.7 293.7 178.8 292.7C180.9 291.7 190.7 287.1 193.4 286.5C196.0 285.8 205.0 285.4 207.9 285.4C210.7 285.4 222.2 285.7 224.5 286.5C226.8 287.2 232.4 292.9 232.8 293.7C233.2 294.6 228.3 295.0 228.6 295.8C229.0 296.6 235.4 301.1 236.9 302.0C238.5 303.0 244.5 305.8 245.2 306.2"/>
<path class="trk" stroke="#d62728" d="M200.0 285.9C200.7 285.8 206.0 284.8 207.5 284.7C209.0 284.5 214.6 283.9 216.2 284.0C217.8 284.1 223.6 285.4 224.9 285.9C226.2 286.4 229.4 289.3 229.9 289.6"/>
<path class="trk" stroke="#d62728" d="M227.4 297.1C227.8 297.4 231.1 300.3 232.4 300.8C233.6 301.4 240.3 303.1 241.1 303.3"/>
<path class="trk" stroke="#d62728" d="M279.7 269.7C279.7 270.2 279.0 274.3 279.7 274.7C280.4 275.0 285.0 273.4 287.1 273.4C289.3 273.4 301.0 274.6 303.3 274.7C305.6 274.8 311.2 274.7 312.0 274.7"/>
<path class="trk" stroke="#d62728" d="M318.3 262.2C318.1 262.9 316.9 268.6 317.0 269.7C317.2 270.9 320.0 273.7 320.0 274.7C320.0 275.7 317.7 279.8 317.0 280.9C316.3 282.1 311.8 286.3 312.0 287.1C312.3 287.9 318.8 289.4 319.5 289.6"/>
<path class="trk" stroke="#d62728" d="M320.0 264.7C320.2 265.2 322.5 268.6 322.5 269.7C322.5 270.9 320.2 276.5 320.0 277.2"/>
<path class="trk" stroke="#d62728" stroke-width="5" d="M332.4 299.6C333.6 299.7 342.8 300.9 344.9 300.8C347.0 300.7 353.4 298.7 354.9 298.3C356.3 298.0 360.9 296.6 361.1 297.1C361.3 297.6 358.0 302.3 357.3 303.3C356.7 304.4 354.8 308.1 353.6 308.3C352.5 308.5 346.6 306.3 344.9 305.8C343.2 305.4 336.1 303.9 334.9 303.3C333.8 302.8 332.7 299.9 332.4 299.6"/>
<path class="trk" stroke="#d62728" d="M258.5 323.5 L261.0 323.5"/>
<path class="trk" stroke="#d62728" d="M299.6 334.7 L307.1 337.2"/>
<path class="trk" stroke="#d62728" d="M320.0 355.9C320.5 355.7 324.2 354.0 325.0 353.4C325.7 352.8 327.7 350.4 328.1 349.7C328.4 348.9 328.7 345.7 328.7 345.3"/>
<path class="trk" stroke="#d62728" d="M312.2 360.0C312.8 359.6 317.3 356.5 318.5 355.8C319.6 355.1 323.8 353.5 324.7 352.7C325.6 351.9 328.2 348.3 328.4 347.5C328.7 346.7 327.3 344.7 327.2 344.4"/>
<path class="trk" stroke="#d62728" stroke-width="6" d="M307.1 287.1C307.5 287.8 310.9 293.5 312.0 294.6C313.2 295.8 319.5 298.8 319.5 299.6C319.5 300.4 312.0 302.6 312.0 303.3C312.1 304.0 319.3 306.7 320.0 307.1"/>
<path class="trk" stroke="#2ca02c" d="M217.2 236.7C216.9 235.5 215.0 225.7 213.7 224.2C212.4 222.8 204.3 220.9 202.7 221.1C201.1 221.3 197.9 225.5 196.5 226.3C195.0 227.1 187.2 228.3 187.1 229.4C187.0 230.6 195.2 238.3 195.4 238.8C195.6 239.2 190.4 235.6 189.2 234.6C188.0 233.7 183.5 229.9 182.0 228.4C180.4 226.9 173.9 219.1 172.6 218.0C171.4 217.0 169.4 216.7 168.5 217.0C167.5 217.3 163.5 220.5 162.2 221.1C161.0 221.8 156.6 223.3 155.0 224.2C153.4 225.2 146.5 231.1 144.6 231.5C142.7 231.9 135.8 228.3 134.2 228.4C132.7 228.5 128.7 231.1 128.0 232.5C127.3 234.0 124.7 243.7 127.0 244.4C129.3 245.0 151.3 240.9 152.9 239.8C154.5 238.7 145.4 232.6 144.6 231.9"/>
<path class="trk" stroke="#2ca02c" d="M216.2 236.1C215.8 235.1 211.9 226.1 212.4 224.9C213.0 223.7 219.8 223.3 222.4 223.0C225.0 222.8 239.4 221.8 241.1 222.4C242.7 223.0 239.9 228.3 240.5 229.9C241.0 231.5 246.4 238.5 247.3 239.8C248.2 241.2 249.9 243.9 249.8 244.8C249.7 245.7 246.6 249.1 246.1 249.8C245.5 250.5 243.8 252.1 243.6 252.3"/>
<path class="trk" stroke="#2ca02c" stroke-width="5" d="M224.9 259.8C225.4 259.6 228.7 258.3 229.9 258.5C231.0 258.7 236.1 261.9 237.3 262.2C238.6 262.6 243.0 262.2 243.6 262.2"/>
<path class="trk" stroke="#2ca02c" d="M243.6 272.2C242.8 272.4 236.6 274.8 234.9 274.7C233.1 274.6 226.6 271.1 224.9 271.0C223.2 270.8 217.3 272.6 216.2 273.4C215.0 274.2 212.4 278.4 212.4 279.7C212.4 280.9 215.0 286.1 216.2 287.1C217.3 288.2 223.3 290.6 224.9 290.9C226.5 291.1 232.6 290.1 233.6 289.6C234.6 289.2 235.5 286.5 235.5 285.9C235.4 285.3 232.7 283.4 233.0 282.8C233.3 282.2 237.5 280.2 238.6 279.7C239.7 279.2 244.2 277.4 244.8 277.2"/>
<path class="trk" stroke="#2ca02c" d="M228.6 295.2C229.4 295.2 236.1 294.6 237.3 294.6C238.6 294.7 241.9 295.4 242.3 295.9C242.8 296.3 242.3 299.2 242.3 299.6"/>
<path class="trk" stroke="#2ca02c" stroke-width="6" d="M247.3 280.9C248.0 281.7 254.5 289.1 254.8 289.6C255.0 290.2 250.0 287.8 249.8 287.1C249.6 286.5 252.1 282.6 252.3 282.2"/>
<path class="trk" stroke="#2ca02c" d="M269.7 289.6C270.9 289.9 279.9 291.9 282.2 292.1C284.4 292.3 293.5 292.1 294.6 292.1"/>
<path class="trk" stroke="#2ca02c" stroke-width="5" d="M367.3 262.2 L373.5 257.9"/>
<path class="trk" stroke="#2ca02c" stroke-width="5" d="M346.1 289.6 L349.9 294.6"/>
<path class="trk" stroke="#bcbd22" d="M218.7 225.5C218.8 224.2 219.6 212.9 220.5 211.2C221.5 209.5 226.7 207.4 228.6 207.5C230.6 207.6 240.7 211.4 241.7 212.4C242.7 213.5 240.5 217.5 239.8 218.7C239.2 219.8 236.2 224.3 234.2 224.9C232.3 225.5 220.1 225.5 218.7 225.5"/>
<path class="trk" stroke="#bcbd22" d="M234.2 224.9C234.0 225.5 231.5 230.0 231.7 231.1C232.0 232.3 236.6 236.5 237.3 237.3C238.1 238.1 240.4 239.3 239.8 239.8C239.3 240.4 233.3 242.7 231.1 243.6C229.0 244.5 218.6 248.5 216.2 249.8C213.8 251.0 206.0 256.6 205.0 257.3"/>
<path class="trk" stroke="#bcbd22" stroke-width="5" d="M239.8 239.8C238.9 240.7 229.6 249.1 229.9 249.8C230.1 250.5 241.3 246.8 242.3 247.3C243.4 247.8 242.3 254.1 241.1 254.8C239.8 255.5 229.0 254.3 228.6 254.8C228.3 255.2 237.5 260.0 237.3 259.8C237.2 259.5 226.9 253.2 227.4 252.3C227.8 251.4 242.0 249.3 242.3 249.8C242.7 250.3 230.7 256.9 231.1 257.3C231.6 257.6 246.7 253.1 247.3 253.5C247.9 254.0 237.7 261.1 237.3 262.2C237.0 263.4 243.2 265.1 243.6 266.0C243.9 266.9 242.2 271.6 241.1 272.2C239.9 272.8 232.6 271.9 231.1 272.2C229.6 272.5 225.3 275.0 224.9 275.9C224.5 276.8 226.0 281.8 226.8 282.2C227.6 282.5 232.2 280.2 233.6 279.7C235.0 279.1 240.8 276.5 242.3 275.9C243.8 275.4 249.9 272.6 249.8 273.4C249.7 274.2 240.9 284.3 241.1 284.7C241.3 285.0 250.1 277.8 252.3 277.2C254.5 276.6 262.2 278.0 264.7 278.4C267.2 278.9 276.9 281.8 279.7 282.2C282.4 282.5 292.1 282.6 294.6 282.2C297.1 281.7 305.9 277.6 307.1 277.2"/>
<path class="trk" stroke="#bcbd22" stroke-width="5" d="M252.3 258.5C253.0 258.9 258.6 261.2 259.8 262.2C260.9 263.3 263.6 269.3 264.7 269.7C265.9 270.2 271.5 267.5 272.2 267.2"/>
<path class="trk" stroke="#bcbd22" stroke-width="9" d="M247.3 274.7C251.0 274.7 283.5 274.1 287.1 274.7C290.8 275.3 290.6 280.2 287.1 280.9C283.7 281.6 253.2 281.6 249.8 282.2C246.4 282.7 246.4 286.7 249.8 287.1C253.2 287.6 284.4 286.9 287.1 287.1C289.9 287.4 280.4 289.4 279.7 289.6"/>
<path class="trk" stroke="#bcbd22" stroke-width="5" d="M322.5 251.0C322.9 251.4 326.4 254.9 327.5 254.8C328.5 254.7 332.6 250.5 333.7 249.8C334.8 249.1 338.7 247.4 339.9 247.3C341.2 247.2 346.7 249.0 347.4 249.2"/>
<path class="trk" stroke="#bcbd22" stroke-width="6" d="M342.4 261.0C343.3 260.9 350.7 259.8 352.4 259.8C354.1 259.8 359.9 261.2 361.1 261.0C362.2 260.8 364.5 257.6 364.8 257.3"/>
<path class="trk" stroke="#bcbd22" stroke-width="8" d="M331.2 272.2C332.1 272.2 340.2 271.6 341.2 272.2C342.1 272.8 342.0 277.9 341.2 278.4C340.4 279.0 333.2 278.4 332.4 278.4"/>
<path class="trk" stroke="#8c564b" d="M258.5 257.3C259.1 257.0 263.2 255.0 264.7 254.8C266.2 254.5 273.1 255.0 274.7 254.8C276.3 254.5 280.8 252.4 282.2 252.3C283.5 252.2 288.5 253.1 289.6 253.5C290.8 254.0 293.7 256.6 294.6 257.3C295.5 257.9 298.4 260.7 299.6 261.0C300.7 261.3 305.6 261.2 307.1 261.0C308.5 260.8 315.0 258.7 315.8 258.5"/>
<path class="trk" stroke="#8c564b" d="M172.6 300.0C173.6 299.3 180.9 293.6 183.0 292.7C185.1 291.7 192.8 289.7 195.4 289.6C198.1 289.5 209.0 291.4 212.0 291.7C215.1 291.9 225.2 292.7 228.6 292.7C232.1 292.7 246.0 292.1 249.4 291.7C252.8 291.2 264.5 287.9 266.0 287.5"/>
<path class="trk" stroke="#8c564b" d="M200.0 289.9C201.1 290.1 210.2 292.1 212.4 292.4C214.7 292.7 222.6 293.6 224.9 293.7C227.2 293.7 235.1 293.1 237.3 293.0C239.6 292.9 247.7 292.6 249.8 292.4C251.8 292.2 257.5 290.9 259.8 291.2C262.0 291.4 272.6 294.6 274.7 294.9C276.7 295.2 281.5 294.9 282.2 294.9"/>
<path class="trk" stroke="#8c564b" d="M249.8 297.3C249.0 297.7 242.5 301.4 240.5 302.4C238.5 303.5 230.1 307.5 228.0 308.7C226.0 309.8 219.8 313.6 217.7 314.9C215.6 316.2 207.9 321.6 205.2 323.2C202.6 324.8 190.7 331.1 188.6 332.5C186.5 334.0 184.2 337.1 182.4 338.8C180.6 340.4 171.2 349.2 168.9 350.6C166.6 351.9 159.7 352.7 157.5 353.3C155.3 353.9 147.5 356.4 145.1 357.4C142.6 358.5 133.6 363.1 130.5 364.7C127.5 366.3 114.7 373.5 111.9 375.1C109.0 376.6 101.3 380.2 99.4 381.3C97.5 382.4 92.5 385.8 91.1 387.1C89.8 388.4 85.8 394.2 84.9 395.8C84.0 397.5 81.1 403.7 81.2 405.1C81.3 406.6 85.3 409.8 85.9 411.4C86.6 413.0 87.6 420.8 88.0 422.8C88.4 424.8 89.3 431.1 90.1 433.2C90.8 435.2 95.2 443.5 96.3 445.6C97.4 447.7 101.4 454.2 102.5 456.0C103.6 457.7 107.6 463.9 108.1 464.7"/>
<path class="trk" stroke="#8c564b" d="M320.0 261.0C320.7 260.9 326.1 259.8 327.5 259.8C328.8 259.8 333.9 260.8 334.9 261.0C336.0 261.2 338.3 262.1 338.7 262.2"/>
<path class="trk" stroke="#8c564b" stroke-width="10" d="M309.5 294.9C310.3 294.9 317.5 293.8 318.3 294.9C319.1 296.0 319.1 306.2 318.3 307.3C317.5 308.5 310.1 307.9 309.5 307.3C309.0 306.8 311.8 301.7 312.0 301.1"/>
<path class="trk" stroke="#e377c2" d="M115.6 325.9C116.0 326.0 119.5 326.7 120.7 326.9C122.0 327.2 127.8 328.8 129.0 328.6C130.3 328.4 133.5 325.8 134.2 324.9C135.0 323.9 136.4 319.4 137.3 318.6C138.3 317.9 143.1 317.1 144.6 316.6C146.1 316.0 152.6 313.0 153.9 312.4C155.3 311.8 158.2 309.7 159.1 309.9C160.1 310.1 163.2 313.7 164.3 314.5C165.5 315.3 170.3 318.3 171.6 318.6C172.8 319.0 176.4 318.3 177.8 318.6C179.2 319.0 186.1 321.9 187.1 322.8C188.2 323.6 188.5 327.4 189.2 328.0C190.0 328.5 194.3 328.7 195.4 329.0C196.6 329.3 200.3 331.2 201.7 331.1C203.0 331.0 208.2 328.3 210.0 328.0C211.7 327.6 219.0 327.4 220.3 326.9C221.7 326.5 224.5 323.4 224.5 322.8C224.5 322.1 219.6 320.0 220.3 319.7C221.1 319.4 230.7 319.5 232.8 319.7C234.9 319.9 242.2 321.6 243.2 321.7"/>
<path class="trk" stroke="#e377c2" stroke-width="5" d="M118.7 324.9C119.6 324.9 127.7 326.2 129.0 325.9C130.4 325.6 132.8 322.1 133.2 321.7"/>
<path class="trk" stroke="#e377c2" d="M191.3 294.8C192.0 295.1 198.1 297.2 199.6 297.9C201.1 298.5 206.3 301.2 207.9 302.0C209.5 302.9 216.7 307.1 217.2 307.2C217.7 307.3 214.3 303.4 213.1 303.1C211.8 302.8 205.2 304.2 203.7 304.1C202.3 304.0 198.7 302.0 197.5 302.0C196.4 302.0 192.0 303.5 191.3 304.1C190.5 304.7 190.4 307.8 189.2 308.3C188.1 308.7 179.9 308.7 178.8 309.3C177.8 309.9 177.4 314.0 177.8 314.5C178.2 315.0 181.8 314.7 183.0 314.5C184.2 314.3 190.0 312.4 191.3 312.4C192.6 312.4 196.9 313.8 197.5 314.5C198.1 315.1 197.1 319.2 197.5 319.7C197.9 320.1 201.1 319.4 201.7 319.7C202.2 320.0 203.9 322.3 203.7 322.8C203.5 323.3 200.3 324.9 199.6 324.9C198.9 324.9 196.8 323.0 196.5 322.8"/>
<path class="trk" stroke="#e377c2" d="M262.2 341.0C262.5 341.4 264.0 345.4 264.7 345.9C265.4 346.5 268.9 347.8 269.7 347.2C270.5 346.6 272.5 340.3 273.4 339.7C274.4 339.1 278.9 341.2 279.7 341.0C280.5 340.7 282.4 337.8 282.2 337.2C281.9 336.7 277.0 335.2 277.2 334.7C277.4 334.3 283.7 332.0 284.7 332.2C285.6 332.5 286.5 337.0 287.1 337.2C287.8 337.5 291.1 335.3 292.1 334.7C293.1 334.2 298.1 331.7 298.3 331.0C298.6 330.3 295.4 327.8 294.6 327.3C293.8 326.7 290.4 324.7 289.6 324.8C288.8 324.9 286.8 328.4 285.9 328.5C285.0 328.6 280.7 326.5 279.7 326.0C278.6 325.6 275.7 323.6 274.7 323.5C273.7 323.4 268.9 324.3 268.5 324.8C268.0 325.2 269.1 327.8 269.7 328.5C270.3 329.2 274.9 331.4 274.7 332.2C274.5 333.0 268.4 336.4 267.2 337.2C266.1 338.0 262.7 340.6 262.2 341.0"/>
<path class="trk" stroke="#e377c2" d="M289.6 311.1C290.1 311.3 294.4 313.1 294.6 313.6C294.8 314.0 292.3 315.8 292.1 316.1"/>
<path class="trk" stroke="#e377c2" d="M343.7 272.2C344.1 272.0 347.4 269.9 348.6 269.7C349.9 269.5 355.9 269.8 357.3 269.7C358.8 269.6 363.4 268.1 364.8 268.5C366.2 268.8 371.1 273.2 372.3 273.4C373.4 273.7 376.1 271.1 377.3 271.0C378.4 270.8 384.3 271.9 384.7 272.2C385.2 272.5 382.9 274.3 382.2 274.7C381.6 275.0 377.3 275.5 377.3 275.9C377.3 276.3 382.5 278.7 382.2 279.0C382.0 279.4 375.9 280.0 374.8 279.7C373.6 279.4 371.0 276.3 369.8 275.9C368.5 275.6 362.6 276.2 361.1 275.9C359.6 275.7 355.0 273.6 353.6 273.4C352.2 273.3 347.1 274.1 346.1 274.7C345.2 275.3 344.6 278.9 343.7 279.7C342.7 280.5 337.2 282.7 336.2 283.4C335.2 284.1 332.8 286.8 332.4 287.1"/>
<path class="trk" stroke="#7f7f7f" d="M267.2 236.7C266.8 237.0 263.4 238.7 262.2 239.2C261.1 239.7 256.0 242.2 254.8 242.3C253.5 242.5 248.8 240.7 248.5 241.1C248.3 241.4 251.4 245.0 252.3 246.1C253.2 247.1 257.3 251.3 258.5 252.3C259.8 253.3 264.5 256.5 266.0 257.3C267.5 258.1 273.3 260.2 274.7 261.0C276.1 261.8 280.2 265.2 280.9 266.0C281.6 266.8 281.8 269.8 282.2 269.7C282.5 269.6 284.0 265.4 284.7 264.7C285.3 264.0 288.7 262.7 289.6 262.2C290.5 261.8 294.2 260.0 294.6 259.8"/>
<path class="trk" stroke="#7f7f7f" stroke-width="7" d="M331.2 228.0C330.6 228.2 325.8 229.0 325.0 229.9C324.2 230.7 322.8 235.7 322.5 237.3C322.1 238.9 321.5 245.7 321.2 247.3C321.0 248.9 320.1 254.1 320.0 254.8"/>
<path class="trk" stroke="#7f7f7f" stroke-width="5" d="M330.9 228.0C330.2 228.2 324.7 229.6 323.7 230.5C322.6 231.4 319.6 236.4 319.5 237.8C319.4 239.1 322.5 243.9 322.6 245.0C322.7 246.1 320.7 249.5 320.5 250.0"/>
<path class="trk" stroke="#7f7f7f" stroke-width="4.5" d="M200.0 358.4C200.1 357.6 200.6 350.7 201.2 349.7C201.9 348.6 206.2 347.6 207.5 347.2C208.7 346.7 214.4 345.3 214.9 344.7C215.5 344.1 214.3 341.6 213.7 341.0C213.1 340.3 209.2 338.0 208.7 337.2C208.2 336.4 207.7 333.4 208.1 332.2C208.4 331.1 211.5 325.9 212.4 324.8C213.4 323.6 217.4 320.7 218.7 319.8C219.9 318.9 225.1 315.6 226.1 314.8C227.2 314.0 228.8 311.7 229.9 311.1C230.9 310.5 236.1 308.9 237.3 308.6C238.6 308.2 242.2 307.3 243.6 307.3C244.9 307.3 252.2 308.1 252.3 308.6C252.4 309.0 245.4 311.5 244.8 312.3C244.2 313.1 244.8 316.6 245.4 317.3C246.1 318.0 250.7 319.5 252.3 319.8C253.8 320.1 260.6 321.0 262.2 321.0C263.8 321.0 268.3 319.9 269.7 319.8C271.1 319.7 275.6 319.8 277.2 319.8C278.8 319.8 285.4 319.9 287.1 319.8C288.9 319.7 294.7 319.2 295.9 318.5C297.0 317.9 299.4 313.4 299.6 312.3C299.8 311.3 299.0 308.1 298.3 307.3C297.7 306.5 293.3 303.8 292.1 303.6C291.0 303.4 286.9 304.3 285.9 304.9C284.9 305.4 281.7 308.9 280.9 309.8C280.1 310.7 278.0 313.9 277.2 314.8C276.4 315.7 272.7 319.3 272.2 319.8"/>
<path class="trk" stroke="#7f7f7f" stroke-width="5" d="M254.8 311.1C255.5 311.7 260.9 316.6 262.2 317.3C263.6 318.0 269.0 318.4 269.7 318.5"/>
<path class="trk" stroke="#7f7f7f" stroke-width="6" d="M320.0 287.1C320.7 287.6 326.0 291.3 327.5 292.1C329.0 292.9 334.1 295.2 336.2 295.9C338.2 296.5 348.6 299.2 349.9 299.6"/>
<path class="trk" stroke="#7f7f7f" stroke-width="6" d="M320.0 279.7 L325.0 287.1"/>
<path class="trk" stroke="#7f7f7f" stroke-width="4.5" d="M356.1 344.7C356.7 344.5 361.1 343.2 362.3 342.8C363.6 342.4 368.3 340.7 369.8 340.3C371.3 340.0 376.9 339.0 378.5 339.1C380.1 339.2 386.9 341.5 387.2 341.6C387.6 341.6 382.6 340.1 382.2 339.7C381.9 339.3 382.8 337.8 383.5 337.2C384.2 336.7 388.8 334.3 389.7 333.5C390.6 332.7 393.3 329.4 393.4 328.5C393.6 327.6 391.2 323.5 391.6 323.5C391.9 323.5 396.7 327.7 397.2 328.5C397.6 329.4 396.1 332.4 396.6 332.9C397.0 333.3 401.2 333.0 402.2 333.5C403.1 334.0 406.5 337.6 407.1 338.5C407.8 339.4 409.7 342.6 409.6 343.4C409.5 344.2 405.7 346.6 405.9 347.2C406.1 347.8 411.3 349.2 412.1 349.7C412.9 350.2 414.4 352.5 414.6 352.8"/>
<path class="trk" stroke="#7f7f7f" stroke-width="4.5" d="M327.5 313.6C327.8 313.9 330.6 316.4 331.2 317.3C331.8 318.2 332.8 322.1 333.7 322.9C334.6 323.7 339.9 326.1 341.2 326.0C342.4 326.0 346.4 322.7 347.4 322.3C348.4 321.8 351.7 321.4 352.4 321.0C353.1 320.6 353.9 318.2 354.9 317.9C355.8 317.6 360.6 317.8 362.3 317.9C364.0 318.1 372.6 319.1 373.5 319.8C374.4 320.5 372.1 324.9 372.3 326.0C372.5 327.2 375.1 331.2 376.0 332.2C376.9 333.3 381.7 336.8 382.2 337.2"/>
<path class="trk" stroke="#9467bd" stroke-width="5" d="M243.6 306.1C244.1 305.4 249.0 299.7 249.8 298.6C250.6 297.6 251.4 295.4 252.3 294.9C253.2 294.4 258.8 294.5 259.8 293.7C260.7 292.9 261.6 286.9 262.2 286.2C262.9 285.5 266.7 285.5 267.2 286.2C267.8 286.9 268.0 292.5 268.5 293.7C268.9 294.8 271.4 297.8 272.2 298.6C273.0 299.4 276.3 301.7 277.2 302.4C278.1 303.1 281.2 306.3 282.2 306.1C283.1 305.9 286.0 300.8 287.1 299.9C288.3 299.0 293.2 296.7 294.6 296.1C296.0 295.6 301.4 294.2 302.1 293.7C302.8 293.1 302.1 290.3 302.1 289.9"/>
<path class="trk" stroke="#9467bd" stroke-width="10" d="M252.3 297.4C253.9 296.8 267.9 290.7 269.7 291.2C271.5 291.6 272.4 301.0 272.2 302.4C272.0 303.7 269.2 305.9 267.2 306.1C265.3 306.3 252.1 305.4 251.0 304.9C250.0 304.3 254.6 300.4 256.0 299.9C257.4 299.3 265.1 298.7 266.0 298.6"/>
<path class="trk" stroke="#9467bd" stroke-width="13" d="M252.3 301.1C252.9 300.9 257.4 299.5 258.5 298.6C259.6 297.7 264.0 291.0 264.7 291.2C265.4 291.3 265.4 298.8 266.0 299.9C266.5 300.9 271.1 301.9 271.0 302.4C270.8 302.8 266.2 304.7 264.7 304.9C263.2 305.0 256.1 304.3 254.8 304.2C253.4 304.1 250.3 303.7 249.8 303.6"/>
<path class="trk" stroke="#9467bd" d="M274.7 317.3C275.1 317.9 278.5 323.1 279.7 323.5C280.8 324.0 286.5 322.4 287.1 322.3"/>
<path class="trk" stroke="#9467bd" d="M297.1 322.3C297.3 322.7 298.7 326.4 299.6 327.3C300.5 328.2 305.9 331.6 307.1 332.2C308.2 332.9 311.6 334.5 312.0 334.7"/>
<path class="trk" stroke="#9467bd" d="M305.8 344.7 L309.5 341.0"/>
<path class="trk" stroke="#9467bd" d="M336.2 309.2C336.6 309.7 340.0 313.8 341.2 314.8C342.3 315.8 347.7 319.0 348.6 319.8C349.5 320.6 351.2 322.8 351.1 323.5C351.1 324.2 347.6 327.0 348.0 327.3C348.5 327.5 354.8 326.5 356.1 326.6C357.4 326.8 362.7 328.1 362.3 328.5C362.0 328.9 354.2 330.6 352.4 331.0C350.5 331.4 344.2 332.8 342.4 332.9C340.6 332.9 334.0 331.6 332.4 331.6C330.9 331.7 326.1 333.2 325.0 333.5C323.8 333.8 320.5 334.6 320.0 334.7"/>
<path class="trk" stroke="#9467bd" d="M330.0 342.2C330.9 342.4 338.3 344.2 339.9 344.7C341.5 345.1 345.8 347.1 347.4 347.2C349.0 347.3 355.3 346.1 357.3 345.9C359.4 345.8 368.1 345.2 369.8 345.3C371.5 345.4 375.1 346.7 376.0 347.2C376.9 347.7 378.7 350.5 379.8 350.9C380.8 351.4 386.0 351.9 387.2 352.2C388.5 352.4 392.3 353.5 393.4 354.0C394.6 354.6 398.6 357.5 399.7 358.4C400.7 359.2 403.7 362.5 404.7 363.4C405.6 364.2 408.6 367.0 409.6 367.7C410.7 368.4 414.6 370.4 415.9 370.8C417.1 371.3 422.1 372.8 423.3 372.7C424.6 372.6 428.5 370.8 429.5 370.2C430.6 369.6 434.5 366.8 435.2 365.9C435.8 364.9 436.2 359.4 436.4 359.6C436.6 359.9 436.9 366.6 437.0 368.3C437.1 370.1 437.5 376.3 437.6 378.3C437.7 380.3 438.0 388.9 438.0 390.0"/>
<path class="trk" stroke="#9467bd" d="M437.8 374.5C437.8 375.6 438.1 384.7 438.2 386.9C438.2 389.1 438.2 397.3 438.2 398.3"/>
<path class="trk" stroke="#ff7f0e" d="M294.6 254.8C295.6 254.7 303.9 254.2 305.8 254.2C307.8 254.2 314.9 254.7 315.8 254.8"/>
<path class="trk" stroke="#ff7f0e" d="M267.2 262.2C267.9 262.0 272.9 260.1 274.7 259.8C276.5 259.4 285.5 258.7 287.1 258.5C288.7 258.3 291.7 257.4 292.1 257.3"/>
<path class="trk" stroke="#ff7f0e" d="M299.6 308.3C300.5 308.9 307.7 313.6 309.5 314.5C311.4 315.4 319.0 317.9 320.0 318.3"/>
<path class="trk" stroke="#ff7f0e" d="M349.9 218.7C350.3 219.2 353.8 223.9 354.9 224.9C355.9 225.9 360.2 229.0 361.1 229.9C361.9 230.8 363.9 233.8 364.2 234.9C364.5 235.9 364.0 239.9 364.2 241.1C364.4 242.2 366.1 246.3 366.1 247.3C366.0 248.3 364.4 251.3 363.6 252.3C362.8 253.3 358.7 257.6 357.3 258.5C356.0 259.4 349.4 261.9 348.6 262.2"/>
<path class="trk" stroke="#ff7f0e" d="M404.7 212.4C403.9 212.8 397.4 215.4 396.6 216.2C395.8 216.9 395.5 219.5 395.9 220.5C396.3 221.6 399.9 227.2 400.9 227.4C401.9 227.6 405.9 223.2 407.1 222.4C408.4 221.6 413.8 219.5 414.6 218.7C415.5 217.8 416.3 213.6 416.5 213.1"/>
<path class="trk" stroke="#ff7f0e" d="M400.9 227.4C401.5 227.8 406.2 231.3 407.1 232.4C408.1 233.4 410.5 237.3 410.9 238.6C411.3 239.8 411.8 244.7 411.5 246.1C411.2 247.4 408.2 252.5 407.1 253.5C406.1 254.6 401.3 256.7 399.7 257.3C398.1 257.8 391.5 259.4 389.7 259.8C387.9 260.2 380.7 261.4 379.8 261.6"/>
<path class="trk" stroke="#ff7f0e" d="M407.1 254.8C406.9 255.5 405.3 260.9 404.7 262.2C404.0 263.6 401.0 268.6 399.7 269.7C398.3 270.9 390.6 274.2 389.7 274.7"/>
<path class="trk" stroke="#ff7f0e" d="M351.1 245.4 L357.3 247.9"/>
<path class="trk" stroke="#ff7f0e" stroke-width="5" d="M322.5 274.7C323.2 274.0 328.4 268.2 330.0 267.2C331.6 266.2 337.4 263.7 339.9 263.5C342.4 263.3 354.4 264.8 357.3 264.7C360.3 264.6 370.7 262.6 372.3 262.2C373.9 261.9 374.5 261.1 374.8 261.0"/>
<path class="trk" stroke="#ff7f0e" stroke-width="5" d="M322.5 274.7C322.9 275.1 325.9 279.0 327.5 279.7C329.1 280.4 337.9 282.4 339.9 282.2C342.0 281.9 348.3 277.4 349.9 277.2C351.5 277.0 355.7 279.3 357.3 279.7C358.9 280.0 365.3 280.7 367.3 280.9C369.4 281.1 378.6 282.0 379.8 282.2"/>
<path class="trk" stroke="#ff7f0e" d="M357.3 280.9C358.3 281.6 366.8 287.1 367.3 288.4C367.8 289.6 363.6 293.8 362.3 294.6C361.1 295.4 354.4 296.9 353.6 297.1"/>
<path class="trk" stroke="#ff7f0e" d="M344.9 287.1 L337.4 289.6"/>
<path class="trk" stroke="#ff7f0e" d="M357.3 303.0C358.0 303.3 363.4 306.0 364.8 306.7C366.2 307.5 371.0 310.8 372.3 311.1C373.5 311.4 377.7 309.7 378.5 309.8C379.3 309.9 380.9 311.5 381.0 312.3C381.1 313.1 379.1 317.9 379.8 318.5C380.4 319.2 386.3 319.6 388.5 319.8C390.6 320.0 401.7 321.5 403.4 321.0C405.1 320.6 407.5 315.8 407.1 314.8C406.8 313.8 401.5 310.2 399.7 309.8C397.8 309.5 388.8 311.3 387.2 311.1C385.6 310.9 382.5 308.4 382.2 307.3C382.0 306.3 384.0 300.4 384.7 299.9C385.4 299.3 388.3 300.9 389.7 301.1C391.1 301.3 398.1 301.8 399.7 302.4C401.3 302.9 406.0 306.5 407.1 307.3C408.3 308.1 410.9 310.9 412.1 311.1C413.4 311.3 420.1 310.7 420.8 309.8C421.5 308.9 420.0 302.5 419.6 301.1C419.1 299.8 417.0 295.7 415.9 294.9C414.7 294.1 408.6 292.6 407.1 292.4C405.7 292.2 401.3 292.9 399.7 293.0C398.1 293.2 390.7 293.9 389.7 294.3C388.7 294.7 388.0 296.6 388.5 297.4C388.9 298.1 393.7 302.3 394.7 302.4C395.7 302.5 398.5 298.9 399.7 298.6C400.8 298.4 406.5 299.8 407.1 299.9"/>
<path class="trk" stroke="#ff7f0e" stroke-width="9" d="M402.2 296.1C403.5 296.4 415.7 297.6 417.1 298.6C418.5 299.7 418.2 307.0 417.1 307.3C416.0 307.7 405.1 302.9 404.7 302.4C404.2 301.8 411.4 301.2 412.1 301.1"/>
<path class="trk" stroke="#ff7f0e" stroke-width="6" d="M320.0 322.3C320.7 321.8 326.2 318.7 327.5 317.3C328.7 315.9 333.2 308.7 333.7 307.3C334.1 306.0 332.6 302.8 332.4 302.4"/>
<path class="trk" stroke="#ff7f0e" d="M341.2 286.2C342.0 285.6 348.4 280.4 349.9 280.0C351.4 279.5 355.7 280.4 357.3 281.2C358.9 282.0 366.8 287.4 367.3 288.7C367.8 289.9 363.5 294.0 362.3 294.9C361.2 295.8 355.5 298.3 354.9 298.6"/>
<path class="trk" stroke="#ff7f0e" d="M344.9 277.5C346.0 277.6 355.1 278.4 357.3 278.7C359.6 279.1 367.7 280.9 369.8 281.2C371.8 281.5 378.8 282.3 379.8 282.4"/>
<path class="trk" stroke="#ff7f0e" d="M302.1 308.6C302.8 309.0 308.2 312.8 309.5 313.6C310.9 314.4 316.1 316.8 317.0 317.3C318.0 317.8 319.7 318.4 320.0 318.5"/>
<path class="trk" stroke="#ff7f0e" d="M274.7 326.0C275.4 326.5 281.2 330.1 282.2 331.0C283.1 331.9 284.8 335.6 284.7 336.0C284.5 336.3 281.3 334.8 280.9 334.7"/>
<path class="trk" stroke="#ff7f0e" d="M315.8 327.3 L320.0 322.3"/>
<path class="trk" stroke="#ff7f0e" d="M349.6 218.0C350.2 218.8 354.6 225.0 355.8 226.3C357.0 227.7 362.3 231.1 363.1 232.6C363.8 234.1 364.2 241.3 364.1 242.9C364.0 244.5 362.2 249.4 362.0 250.0"/>
<path class="trk" stroke="#1f77b4" d="M418.0 145.0C417.1 145.2 409.8 147.2 407.7 147.5C405.6 147.8 396.7 148.0 395.2 148.5C393.7 149.1 392.2 153.3 391.1 153.7C389.9 154.2 384.3 154.0 382.8 153.7C381.3 153.4 375.8 150.8 374.5 150.6C373.2 150.4 369.8 150.9 368.3 151.7C366.7 152.4 359.4 157.8 357.9 158.9C356.4 160.1 353.4 163.4 351.7 164.1C349.9 164.8 341.3 165.9 339.2 166.2C337.1 166.5 330.5 167.0 328.8 167.2C327.2 167.4 322.3 167.8 321.6 168.3C320.8 168.7 318.7 171.6 320.5 172.4C322.3 173.2 337.9 175.5 341.3 176.6C344.7 177.6 355.2 182.7 357.9 183.8C360.5 185.0 368.8 188.0 370.3 189.0C371.9 190.1 373.8 194.2 374.5 195.2C375.1 196.2 377.1 199.4 377.4 199.8"/>
<path class="trk" stroke="#1f77b4" stroke-width="6" d="M292.1 299.6C293.0 299.5 300.9 297.8 302.1 298.3C303.2 298.9 304.3 305.1 304.6 305.8"/>
<path class="trk" stroke="#1f77b4" d="M377.3 200.0C378.9 200.2 393.3 201.5 394.7 202.5C396.1 203.5 393.0 209.8 392.2 211.2C391.4 212.6 386.8 215.9 386.0 217.4C385.1 218.9 382.6 225.9 382.9 227.4C383.1 228.9 387.8 232.2 388.5 233.6C389.2 235.0 390.4 241.0 390.3 242.3C390.2 243.7 388.0 247.6 387.2 248.5C386.5 249.5 382.9 251.4 382.2 252.3C381.6 253.2 380.2 257.4 379.8 258.5C379.3 259.6 377.8 263.7 377.3 264.7C376.7 265.8 373.4 269.5 373.5 269.7C373.6 269.9 377.3 267.4 378.5 267.2C379.8 267.1 385.7 267.8 387.2 267.8C388.7 267.8 393.6 266.8 394.7 267.2C395.8 267.6 399.4 271.1 399.7 272.2C399.9 273.3 398.6 278.9 397.2 279.7C395.8 280.5 385.6 280.3 384.7 280.9C383.8 281.5 386.1 285.1 387.2 285.9C388.4 286.7 396.3 289.3 397.2 289.6"/>
<path class="trk" stroke="#1f77b4" stroke-width="7" d="M387.2 279.7C388.0 279.7 395.3 279.3 395.9 279.7C396.6 280.0 395.4 283.1 394.7 283.4C394.0 283.7 389.0 283.4 388.5 283.4"/>
<path class="trk" stroke="#1f77b4" d="M369.8 241.1C368.8 241.0 359.7 239.6 358.6 239.8C357.4 240.1 357.1 243.3 357.3 244.2C357.6 245.0 361.9 248.4 361.7 249.2C361.5 250.0 355.7 252.1 354.9 252.9C354.1 253.8 353.3 257.4 353.0 258.5C352.6 259.6 351.3 264.2 351.1 264.7"/>
<path class="trk" stroke="#1f77b4" d="M369.8 241.1C370.1 241.7 372.7 245.9 373.5 247.3C374.3 248.7 377.9 254.9 378.5 256.0C379.1 257.2 379.6 259.4 379.8 259.8"/>
<path class="trk" stroke="#1f77b4" d="M397.2 279.7C398.1 279.4 406.1 278.1 407.1 277.2C408.2 276.3 407.8 270.7 408.4 269.7C409.0 268.7 412.2 266.0 413.4 266.0C414.5 266.0 420.0 268.8 420.8 269.7C421.6 270.6 421.4 275.2 422.1 275.9C422.8 276.7 426.9 277.6 428.3 277.8C429.7 278.0 436.1 277.1 437.0 277.8C437.9 278.5 438.0 284.8 438.3 285.9C438.5 287.0 440.6 288.8 440.0 289.6C439.4 290.4 433.2 293.7 432.0 294.6C430.9 295.5 427.6 298.6 427.1 299.6C426.5 300.6 426.4 305.2 425.8 305.8C425.2 306.4 421.3 305.8 420.8 305.8"/>
<path class="trk" stroke="#1f77b4" stroke-width="5" d="M415.2 303.3 L415.4 303.4"/>
<path class="trk" stroke="#1f77b4" stroke-width="6" d="M292.1 299.9C293.0 299.8 300.9 298.2 302.1 298.6C303.2 299.1 304.8 304.2 304.6 304.9C304.3 305.5 300.0 306.0 299.6 306.1"/>
<path class="trk" stroke="#1f77b4" d="M299.6 319.8C300.3 319.7 306.6 318.2 307.1 318.5C307.5 318.9 305.0 322.8 304.6 323.5C304.1 324.2 301.9 325.6 302.1 326.0C302.3 326.5 305.8 328.1 307.1 328.5C308.3 329.0 315.3 330.3 315.8 331.0C316.2 331.7 312.6 335.2 312.0 336.0C311.5 336.8 309.1 339.1 309.5 339.7C310.0 340.3 316.1 342.2 317.0 342.2C318.0 342.2 319.7 339.9 320.0 339.7"/>
<path class="trk" stroke="#1f77b4" stroke-width="5" d="M320.0 334.7C320.7 334.8 326.0 335.9 327.5 336.0C329.0 336.1 334.8 336.1 336.2 336.0C337.6 335.8 341.7 333.7 342.4 334.1C343.1 334.6 344.6 340.4 344.3 341.0C343.9 341.5 339.8 340.1 338.7 339.7C337.6 339.4 333.7 336.8 332.4 337.2C331.2 337.7 326.1 343.9 325.0 344.7C323.8 345.5 320.5 345.8 320.0 345.9"/>
<path class="trk" stroke="#1f77b4" stroke-width="8" d="M322.5 339.7C323.4 339.7 330.9 339.9 332.4 339.7C334.0 339.5 339.2 338.0 339.9 337.8"/>
<path class="trk" stroke="#17becf" d="M284.2 64.5C284.8 65.1 290.1 69.5 290.5 70.7C290.8 72.0 288.0 77.2 288.4 78.0C288.8 78.9 291.6 79.6 294.6 80.1C297.6 80.6 319.6 82.3 321.6 83.2C323.6 84.1 317.1 88.0 316.4 89.4C315.7 90.8 313.8 97.3 314.3 98.8C314.8 100.2 320.3 104.0 321.6 105.0C322.9 105.9 328.3 108.1 328.4 109.1C328.5 110.2 324.1 114.9 322.6 116.4C321.1 117.9 314.0 124.3 312.2 125.7C310.4 127.2 304.6 132.1 302.9 132.0C301.2 131.8 296.0 124.2 293.6 123.7C291.1 123.1 277.7 125.0 275.9 125.7C274.1 126.5 273.7 130.6 273.9 132.0C274.0 133.3 277.2 139.2 278.0 140.2C278.9 141.3 281.7 143.5 283.2 143.4C284.7 143.3 292.1 139.8 294.6 139.2C297.1 138.6 308.1 136.7 310.2 137.1C312.3 137.6 317.2 143.3 317.4 144.4C317.6 145.5 313.6 148.5 312.2 149.2C310.9 149.8 303.9 150.9 302.9 151.7C302.0 152.5 302.1 156.4 301.9 157.9C301.7 159.4 300.4 167.1 300.8 168.3C301.3 169.4 305.2 169.9 307.1 170.3C308.9 170.8 318.4 172.3 320.5 173.4C322.6 174.6 329.6 181.3 329.9 182.8C330.2 184.3 324.4 188.5 323.7 190.0C322.9 191.6 322.1 197.8 321.6 199.4C321.0 201.0 317.8 206.2 317.4 207.7C317.0 209.2 317.0 214.6 317.4 216.0C317.8 217.3 321.2 221.6 321.6 222.2"/>
<path class="trk" stroke="#17becf" d="M293.6 139.2 L302.9 132.0"/>
<path class="trk" stroke="#17becf" d="M260.4 249.2C261.1 248.1 267.2 240.5 268.7 237.8C270.1 235.0 274.6 221.0 275.9 219.1C277.3 217.1 281.2 216.8 283.2 216.6C285.2 216.4 295.2 216.7 297.7 217.0C300.2 217.3 308.1 219.6 310.2 220.1C312.3 220.6 319.6 222.0 320.5 222.2"/>
<path class="trk" stroke="#17becf" d="M320.0 200.0C319.7 200.7 317.2 206.0 317.0 207.5C316.9 209.0 318.0 214.9 318.3 216.2C318.5 217.4 319.8 220.7 320.0 221.2"/>
<path class="trk" stroke="#17becf" d="M269.7 234.9C269.9 235.1 272.0 236.5 271.6 237.3C271.1 238.1 266.0 242.3 264.7 243.6C263.4 244.8 258.6 249.7 257.3 251.0C255.9 252.4 250.9 257.3 249.8 258.5C248.7 259.8 244.8 263.9 244.8 264.7C244.8 265.6 248.2 267.2 249.8 267.8C251.4 268.5 260.9 271.5 262.2 272.2C263.6 272.9 263.6 275.5 264.7 275.9C265.9 276.4 272.6 277.0 274.7 277.2C276.7 277.4 286.2 278.9 287.1 278.4C288.1 278.0 284.4 273.2 284.7 272.2C284.9 271.2 288.3 268.2 289.6 267.8C291.0 267.4 298.3 267.7 299.6 267.8C300.8 268.0 302.4 268.9 303.3 269.1C304.2 269.3 308.5 269.5 309.5 269.7C310.6 269.9 314.6 271.4 315.2 271.6"/>
<path class="trk" stroke="#17becf" d="M299.6 272.2C299.6 272.9 299.1 278.6 299.6 279.7C300.0 280.7 303.6 282.8 304.6 283.4C305.5 284.0 309.7 286.2 310.2 286.5"/>
<path class="trk" stroke="#17becf" d="M279.7 308.3C279.2 308.6 275.6 311.2 274.7 312.0C273.8 312.8 270.2 316.6 269.7 317.0"/>
<path class="trk" stroke="#17becf" d="M328.7 237.3C330.6 238.2 347.9 244.9 349.3 246.7C350.6 248.5 345.9 257.2 343.7 256.6C341.4 256.1 326.3 242.2 325.0 240.5C323.6 238.7 328.4 237.6 328.7 237.3"/>
<path class="trk" stroke="#17becf" d="M415.9 274.7C416.1 275.3 418.9 279.8 418.3 280.9C417.8 282.1 410.0 286.2 409.6 287.1C409.3 288.1 413.5 290.4 414.6 290.9C415.8 291.3 421.1 292.6 422.1 292.1C423.1 291.7 426.2 286.9 425.8 285.9C425.5 284.9 419.0 281.4 418.3 280.9"/>
<path class="trk" stroke="#17becf" d="M389.7 287.1C390.6 287.0 398.1 286.6 399.7 285.9C401.3 285.2 405.8 280.2 407.1 279.7C408.5 279.1 413.9 279.7 414.6 279.7"/>
<path class="trk" stroke="#17becf" d="M382.2 282.2C382.0 282.5 381.0 285.4 379.8 285.9C378.5 286.4 369.2 286.2 368.5 287.1C367.9 288.1 372.4 294.4 372.3 295.9C372.2 297.3 368.4 302.4 367.3 303.3C366.2 304.2 359.8 306.8 359.8 305.8C359.8 304.8 366.6 293.4 367.3 292.1"/>
<path class="trk" stroke="#17becf" d="M337.4 306.1C338.1 306.4 343.9 309.6 344.9 309.8C345.9 310.1 348.3 308.7 348.6 308.6"/>
<path class="trk" stroke="#17becf" d="M279.7 307.3C279.2 307.7 275.6 310.4 274.7 311.1C273.8 311.8 270.1 314.1 269.7 314.8C269.4 315.5 271.5 317.6 271.0 318.5C270.4 319.5 263.9 323.5 263.5 324.8C263.0 326.0 265.8 330.9 266.0 332.2C266.1 333.6 265.5 338.3 265.4 339.7C265.2 341.1 264.6 345.8 264.7 347.2C264.9 348.6 267.1 353.5 267.2 354.7C267.3 355.8 266.8 358.8 266.0 359.6C265.2 360.4 260.0 362.6 258.5 363.4C257.0 364.2 250.9 367.3 249.8 368.3C248.7 369.4 246.9 373.5 246.1 374.6C245.3 375.6 242.2 378.5 241.1 379.5C239.9 380.6 234.9 384.8 233.6 385.8C232.4 386.7 228.0 389.6 227.4 390.0"/>
<path class="trk" stroke="#17becf" d="M260.0 361.6C259.2 362.2 252.0 367.6 250.9 368.8C249.7 370.1 248.9 373.8 247.8 375.1C246.6 376.3 240.4 380.8 238.4 382.3C236.4 383.8 227.9 390.2 226.0 391.7C224.1 393.1 218.9 397.0 217.7 397.9C216.4 398.7 213.3 400.0 212.5 401.0C211.6 401.9 209.7 406.8 208.3 408.3C207.0 409.7 199.4 415.0 198.0 416.6C196.5 418.1 193.9 423.3 192.8 424.9C191.6 426.4 186.5 432.3 185.5 433.2C184.6 434.0 183.1 434.7 182.4 434.2C181.7 433.7 179.0 428.2 178.3 428.0C177.5 427.8 175.3 432.1 174.1 432.1C172.9 432.1 166.3 428.0 164.8 428.0C163.3 428.0 159.1 431.6 157.5 432.1C155.9 432.6 148.1 433.1 147.1 433.2"/>
<path class="trk" stroke="#ff7f0e" d="M280.0 259.8C280.5 259.7 283.9 258.6 285.0 258.2C286.0 257.8 290.1 256.0 291.6 255.7C293.1 255.4 299.8 255.0 301.6 254.9C303.4 254.7 310.6 254.5 311.5 254.4"/>
<path class="trk" stroke="#8c564b" d="M280.0 253.2C280.5 253.1 284.0 252.2 285.0 252.4C286.0 252.5 289.7 254.2 290.8 254.9C291.9 255.5 295.6 259.2 296.6 259.8C297.6 260.4 300.6 261.4 301.6 261.5C302.6 261.6 306.1 260.8 307.4 260.7C308.7 260.5 314.2 259.8 315.7 259.8C317.1 259.8 321.9 260.7 323.2 260.7C324.4 260.7 328.6 259.9 329.8 259.8C331.0 259.8 335.4 259.5 336.4 259.8C337.5 260.1 341.0 262.8 341.4 263.2"/>
<path class="trk" stroke="#7f7f7f" stroke-width="5" d="M280.0 266.5C280.5 266.3 284.1 265.2 285.0 264.8C285.9 264.4 289.2 262.7 290.0 262.3C290.7 261.9 293.0 260.8 293.3 260.7"/>
<path class="trk" stroke="#d62728" stroke-width="6" d="M309.0 264.8C309.4 264.7 312.3 263.2 313.2 263.2C314.1 263.1 318.2 263.5 319.0 264.0C319.8 264.4 321.6 267.4 321.5 268.1C321.4 268.8 318.7 271.4 318.2 271.5C317.6 271.5 315.8 269.4 315.7 269.0C315.5 268.5 316.4 266.7 316.5 266.5"/>
<path class="trk" stroke="#d62728" stroke-width="6" d="M290.8 273.1C291.3 273.3 295.6 274.7 296.6 274.8C297.6 274.8 301.1 274.0 301.6 273.9"/>
<path class="trk" stroke="#d62728" stroke-width="5" d="M319.0 276.4 L321.5 281.4"/>
<path class="trk" stroke="#d62728" stroke-width="7" d="M294.9 286.4 L298.3 290.5"/>
<path class="trk" stroke="#d62728" stroke-width="5" d="M309.9 292.2C310.6 292.3 316.7 292.6 317.3 293.0C318.0 293.4 317.9 296.0 317.3 296.3C316.8 296.7 312.1 297.1 311.5 297.2"/>
<path class="trk" stroke="#bcbd22" stroke-width="8" d="M280.0 283.9C280.8 283.7 286.8 281.8 288.3 281.4C289.8 281.0 295.1 280.1 296.6 279.8C298.1 279.4 303.6 278.4 304.9 278.1C306.2 277.8 310.2 276.6 310.7 276.4"/>
<path class="trk" stroke="#bcbd22" stroke-width="8" d="M280.0 286.4C280.9 286.3 288.1 285.8 290.0 285.6C291.8 285.3 299.0 284.1 299.9 283.9"/>
<path class="trk" stroke="#bcbd22" stroke-width="6" d="M319.8 254.0C320.1 254.4 322.5 257.9 323.2 258.2C323.8 258.4 326.2 256.7 326.5 256.5"/>
<path class="trk" stroke="#bcbd22" stroke-width="7" d="M324.8 266.5C325.6 266.2 331.7 264.0 333.1 264.0C334.5 264.0 339.0 265.6 339.8 266.5C340.5 267.3 341.6 272.1 341.4 273.1C341.3 274.1 339.0 276.9 338.1 277.3C337.2 277.6 332.1 277.8 331.5 277.3C330.8 276.7 330.2 272.1 330.6 271.5C331.1 270.8 335.9 269.9 336.4 269.8"/>
<path class="trk" stroke="#bcbd22" stroke-width="5" d="M338.1 248.2 L344.7 249.0"/>
<path class="trk" stroke="#bcbd22" stroke-width="6" d="M344.7 259.8C345.3 259.8 349.1 258.9 350.5 259.0C351.9 259.2 359.1 261.3 360.0 261.5"/>
<path class="trk" stroke="#2ca02c" stroke-width="5" d="M324.0 274.8C324.4 274.7 327.8 273.7 328.1 273.9C328.5 274.2 328.1 277.0 328.1 277.3"/>
<path class="trk" stroke="#2ca02c" stroke-width="5" d="M346.4 288.9C346.6 289.3 348.3 292.5 348.9 293.0C349.4 293.6 351.9 294.5 352.2 294.7"/>
<path class="trk" stroke="#ff7f0e" stroke-width="5" d="M321.5 273.1C322.0 272.7 325.4 269.6 326.5 269.0C327.5 268.4 331.9 266.9 333.1 266.5C334.3 266.1 338.4 265.0 339.8 264.8C341.1 264.7 346.7 264.7 348.0 264.8C349.4 265.0 353.6 266.4 354.7 266.5C355.8 266.5 359.5 265.7 360.0 265.6"/>
<path class="trk" stroke="#ff7f0e" stroke-width="6" d="M321.5 273.1C321.8 273.6 323.9 277.5 324.8 278.1C325.7 278.7 330.2 279.6 331.5 279.8C332.7 279.9 336.9 279.9 338.1 279.8C339.3 279.6 343.5 278.4 344.7 278.1C345.9 277.8 350.0 276.4 351.4 276.4C352.8 276.4 359.2 277.9 360.0 278.1"/>
<path class="trk" stroke="#ff7f0e" stroke-width="6" d="M323.2 283.1C323.8 283.1 328.6 283.4 329.8 283.9C331.0 284.4 335.4 287.4 336.4 288.0C337.5 288.7 340.5 290.7 341.4 290.5C342.3 290.4 345.5 287.1 346.4 286.4C347.3 285.7 351.4 283.3 351.4 283.1C351.4 282.8 346.8 283.8 346.4 283.9"/>
<path class="trk" stroke="#e377c2" stroke-width="5" d="M343.1 269.8C343.4 270.1 345.6 273.0 346.4 273.1C347.2 273.2 350.3 270.9 351.4 270.6C352.4 270.3 357.4 269.9 358.0 269.8"/>
<path class="trk" stroke="#e377c2" stroke-width="5" d="M333.1 288.9C333.3 288.5 334.2 285.3 334.8 284.7C335.4 284.1 338.8 283.0 339.8 282.2C340.7 281.5 344.1 277.3 344.7 276.4C345.3 275.6 346.2 273.4 346.4 273.1"/>
<path class="trk" stroke="#9467bd" stroke-width="5" d="M288.3 298.0C289.1 297.7 295.5 295.4 296.6 294.7C297.7 294.0 300.3 291.1 300.7 290.5C301.2 289.9 301.5 288.3 301.6 288.0"/>
<path class="trk" stroke="#17becf" stroke-width="4.5" d="M280.0 277.3C280.5 277.3 284.4 278.8 285.0 278.1C285.6 277.4 286.0 270.7 286.6 269.8C287.2 268.9 290.2 268.2 291.6 268.1C293.0 268.1 299.8 268.7 301.6 269.0C303.4 269.2 310.3 270.2 311.5 270.6C312.8 271.0 315.5 273.0 314.9 273.1C314.2 273.3 306.3 272.3 304.9 272.3C303.5 272.3 300.4 272.4 299.9 273.1C299.5 273.8 299.5 278.8 299.9 279.8C300.4 280.7 303.9 282.5 304.9 283.1C305.9 283.7 310.2 286.1 310.7 286.4"/>
<path class="trk" stroke="#1f77b4" stroke-width="5.5" d="M300.7 223.3C301.2 223.4 305.3 223.7 305.7 224.1C306.1 224.6 306.0 227.8 304.9 228.3C303.8 228.8 294.4 228.8 293.3 229.1C292.1 229.4 291.5 231.3 292.4 231.6C293.4 231.9 303.4 231.6 304.1 232.4C304.8 233.3 300.4 239.7 299.9 240.7C299.4 241.8 298.7 243.4 298.3 244.1C297.8 244.8 295.3 247.6 294.9 248.2C294.6 248.8 292.6 250.6 294.1 250.7C295.6 250.9 310.5 250.4 311.5 249.9C312.6 249.3 306.4 245.7 305.7 244.9C305.0 244.1 304.4 241.6 304.1 241.6C303.7 241.6 301.7 244.1 301.6 244.9C301.4 245.7 302.3 249.4 302.4 249.9"/>
<path class="trk" stroke="#1f77b4" stroke-width="7" d="M296.6 247.4 L307.4 248.2"/>
<path class="trk" stroke="#7f7f7f" stroke-width="7.3" d="M332.3 227.5C331.6 227.5 326.0 227.8 324.8 228.3C323.7 228.8 320.4 231.5 319.8 232.4C319.2 233.4 318.0 237.2 318.2 238.3C318.3 239.3 321.4 243.2 321.5 244.1C321.6 245.0 319.5 247.4 319.0 248.2C318.5 249.1 316.2 252.1 315.7 253.2C315.2 254.3 313.4 258.6 313.2 259.8C313.0 261.1 313.1 265.3 313.2 266.5C313.3 267.7 313.8 271.9 314.0 273.1C314.3 274.3 315.2 278.6 315.7 279.8C316.2 280.9 318.8 284.6 319.8 285.6C320.8 286.5 325.3 289.7 326.5 290.5C327.7 291.4 331.7 294.0 333.1 294.7C334.5 295.4 340.0 297.5 341.4 298.0C342.9 298.5 348.2 299.8 348.9 300.0"/>
<path class="trk" stroke="#bcbd22" stroke-width="10" d="M280.0 282.5C281.4 282.5 293.6 282.0 294.9 282.5C296.3 282.9 296.3 287.0 294.9 287.5C293.6 287.9 281.4 287.5 280.0 287.5"/>
<path class="trk" stroke="#2ca02c" stroke-width="5" d="M280.0 294.1C280.6 294.0 285.5 292.5 286.6 292.4C287.8 292.4 291.9 293.2 292.4 293.3"/>
<path class="trk" stroke="#2ca02c" stroke-width="5" d="M346.4 289.1C346.6 289.5 348.3 292.7 348.9 293.3C349.5 293.8 352.6 294.8 353.0 294.9"/>
<path class="trk" stroke="#ff7f0e" stroke-width="7" d="M323.2 281.7C323.8 282.1 328.4 285.9 329.8 286.6C331.2 287.4 336.7 289.9 338.1 290.0C339.5 290.0 343.5 288.0 344.7 287.5C345.9 286.9 350.2 284.2 351.4 284.1C352.6 284.1 357.2 286.6 358.0 286.6C358.8 286.7 359.8 285.1 360.0 285.0"/>
<path class="trk" stroke="#ff7f0e" stroke-width="5" d="M353.0 294.9 L360.0 293.3"/>
<path class="trk" stroke="#ff7f0e" stroke-width="6" d="M301.6 308.2C302.2 308.6 307.0 311.6 308.2 312.4C309.4 313.1 313.5 315.9 314.9 316.5C316.2 317.1 321.8 319.0 323.2 319.0C324.5 319.0 328.9 317.2 329.8 316.5C330.7 315.8 332.8 312.6 333.1 311.5C333.4 310.5 333.1 305.5 333.1 304.9"/>
<path class="trk" stroke="#ff7f0e" stroke-width="5" d="M323.2 319.0C322.8 319.4 319.7 322.4 319.0 323.2C318.3 323.9 316.0 326.9 315.7 327.3"/>
<path class="trk" stroke="#ff7f0e" stroke-width="5" d="M280.0 334.8C280.5 334.9 283.8 336.2 285.0 336.4C286.1 336.7 291.8 337.2 292.4 337.3"/>
<path class="trk" stroke="#ff7f0e" stroke-width="5" d="M300.7 333.1 L304.9 333.9"/>
<path class="trk" stroke="#d62728" stroke-width="7" d="M294.1 287.5 L299.1 289.1"/>
<path class="trk" stroke="#d62728" stroke-width="5" d="M295.8 335.6C296.3 335.8 300.5 337.0 301.6 337.3C302.6 337.5 306.9 338.0 307.4 338.1"/>
<path class="trk" stroke="#d62728" d="M310.7 358.8C311.1 358.6 313.9 356.8 314.9 356.3C315.8 355.9 320.4 354.3 321.5 353.9C322.6 353.4 325.9 352.0 326.5 351.4C327.1 350.8 328.1 347.8 328.1 347.2C328.2 346.6 327.4 345.0 327.3 344.7"/>
<path class="trk" stroke="#9467bd" stroke-width="5" d="M280.0 305.7C280.5 305.5 284.1 303.8 285.0 303.2C285.9 302.6 289.0 299.8 290.0 299.1C290.9 298.4 293.9 296.4 294.9 295.8C295.9 295.2 300.1 293.1 300.7 292.4C301.4 291.8 302.3 289.4 302.4 289.1"/>
<path class="trk" stroke="#9467bd" stroke-width="5" d="M280.0 326.5 L285.0 324.8"/>
<path class="trk" stroke="#9467bd" d="M294.1 323.2C294.6 323.5 298.4 325.8 299.1 326.5C299.8 327.2 300.7 330.0 301.6 330.6C302.4 331.2 307.2 332.4 308.2 333.1C309.3 333.8 312.6 337.5 313.2 338.1C313.8 338.7 314.7 339.6 314.9 339.8"/>
<path class="trk" stroke="#9467bd" d="M305.7 345.6C306.0 345.3 307.8 343.5 308.2 343.1C308.6 342.7 309.7 341.6 309.9 341.4"/>
<path class="trk" stroke="#9467bd" d="M336.4 309.0C336.7 309.4 338.9 312.6 339.8 313.2C340.6 313.8 344.6 315.1 345.6 315.7C346.5 316.3 349.3 319.5 349.7 319.8"/>
<path class="trk" stroke="#9467bd" stroke-width="5" d="M321.5 333.1C322.3 333.0 328.3 331.7 329.8 331.5C331.3 331.2 336.6 330.8 338.1 330.6C339.6 330.5 344.9 330.1 346.4 329.8C347.9 329.5 353.4 327.5 354.7 327.3C355.9 327.1 359.5 327.3 360.0 327.3"/>
<path class="trk" stroke="#9467bd" d="M329.8 342.2C330.6 342.5 336.6 344.3 338.1 344.7C339.6 345.2 344.9 347.1 346.4 347.2C347.9 347.4 353.4 346.5 354.7 346.4C355.9 346.2 359.5 345.6 360.0 345.6"/>
<path class="trk" stroke="#e377c2" stroke-width="5" d="M280.0 329.8C280.5 329.6 284.1 328.7 285.0 328.1C285.8 327.6 288.3 324.1 289.1 324.0C290.0 323.8 293.3 325.9 294.1 326.5C294.9 327.1 298.3 330.0 298.3 330.6C298.3 331.2 294.9 332.7 294.1 333.1C293.3 333.5 290.0 334.8 289.1 334.8C288.3 334.8 285.1 332.9 285.0 333.1C284.9 333.3 288.5 336.8 288.3 337.3C288.1 337.7 284.1 337.9 283.3 338.1C282.6 338.3 280.3 339.6 280.0 339.8"/>
<path class="trk" stroke="#e377c2" stroke-width="5" d="M331.5 286.6C331.9 286.3 335.5 283.8 336.4 283.3C337.3 282.9 341.0 281.8 341.4 281.7"/>
<path class="trk" stroke="#17becf" stroke-width="5" d="M299.1 281.7C299.6 281.9 303.8 283.8 304.9 284.1C306.0 284.5 310.2 285.7 310.7 285.8"/>
<path class="trk" stroke="#17becf" stroke-width="5" d="M338.1 304.9C338.5 305.1 342.2 307.0 343.1 307.4C344.0 307.8 347.6 308.9 348.0 309.0"/>
<path class="trk" stroke="#1f77b4" stroke-width="7" d="M291.6 299.9C292.2 299.8 297.1 299.0 298.3 299.1C299.4 299.2 303.6 300.2 304.1 300.7C304.5 301.3 303.7 304.6 303.2 304.9C302.8 305.2 299.5 304.1 299.1 304.1"/>
<path class="trk" stroke="#1f77b4" stroke-width="6" d="M307.4 317.3C306.8 317.6 301.3 320.0 300.7 320.7C300.2 321.3 301.3 324.1 301.6 324.8C301.9 325.5 303.3 327.7 304.1 328.1C304.8 328.6 308.8 329.6 309.9 329.8C310.9 330.0 315.2 330.2 315.7 330.6C316.2 331.0 316.1 333.4 315.7 333.9C315.3 334.5 312.1 335.9 311.5 336.4C311.0 337.0 309.7 339.1 309.9 339.8C310.0 340.4 312.6 342.5 313.2 343.1C313.8 343.7 315.6 346.2 316.5 346.4C317.4 346.5 322.4 345.3 323.2 344.7C323.9 344.2 324.2 341.0 324.8 340.6C325.4 340.1 328.7 339.7 329.8 339.8C330.9 339.8 335.2 341.3 336.4 341.4C337.6 341.6 342.4 341.8 343.1 341.4C343.8 341.0 344.1 337.9 343.9 337.3C343.7 336.6 342.1 334.0 341.4 333.9C340.7 333.9 337.5 336.2 336.4 336.4C335.4 336.7 331.0 336.6 329.8 336.4C328.6 336.3 324.2 334.8 323.2 334.8C322.1 334.8 318.9 336.5 318.2 336.4C317.4 336.4 315.2 334.2 314.9 333.9"/>
<path class="trk" stroke="#1f77b4" stroke-width="8" d="M315.7 339.8C316.4 339.6 322.6 337.9 323.2 338.1C323.7 338.3 321.6 341.9 321.5 342.2"/>
<path class="trk" stroke="#d62728" stroke-width="8" d="M333.1 299.9C333.7 300.1 338.5 301.2 339.8 301.6C341.0 302.0 345.2 303.5 346.4 304.1C347.6 304.6 352.1 307.2 353.0 307.4C353.9 307.5 356.2 306.3 356.3 305.7C356.5 305.1 355.1 301.4 354.7 300.7C354.3 300.1 351.7 298.6 352.2 298.3C352.7 297.9 359.3 296.7 360.0 296.6"/>
<path class="trk" stroke="#d62728" stroke-width="6" d="M309.9 292.4C310.5 292.4 315.7 292.1 316.5 292.4C317.4 292.8 319.5 295.4 319.0 295.8C318.5 296.1 312.2 296.5 311.5 296.6"/>
<path class="trk" stroke="#8c564b" stroke-width="11" d="M308.2 292.4C308.3 293.6 308.5 303.2 309.0 304.9C309.6 306.6 312.7 310.1 314.0 310.7C315.3 311.3 321.9 311.9 323.2 311.5C324.4 311.2 327.5 307.5 328.1 306.6C328.7 305.6 330.1 301.4 329.8 300.7C329.5 300.1 326.0 299.4 324.8 299.1C323.6 298.8 317.9 297.8 316.5 297.8C315.1 297.8 310.2 298.4 309.9 299.1C309.6 299.7 312.1 304.2 313.2 304.9C314.3 305.6 320.4 306.7 321.5 306.6C322.6 306.4 325.3 303.7 324.8 303.2C324.4 302.8 317.3 301.7 316.5 301.6"/>
<path class="trk" stroke="#d62728" stroke-width="3" d="M315.7 309.0 L322.3 308.6"/>
<path class="trk" stroke="#7f7f7f" stroke-width="8" d="M280.0 301.6C280.5 301.7 284.1 302.1 285.0 302.4C285.9 302.7 288.9 304.4 290.0 304.9C291.0 305.4 295.8 306.6 296.6 307.4C297.4 308.1 299.1 312.3 299.1 313.2C299.1 314.1 297.4 316.8 296.6 317.3C295.8 317.9 291.2 318.9 290.0 319.0C288.7 319.1 284.2 318.4 283.3 318.2C282.4 317.9 280.3 316.7 280.0 316.5"/>
<path class="trk" stroke="#7f7f7f" stroke-width="8" d="M285.0 309.0C285.4 309.1 289.7 309.3 290.0 309.9C290.3 310.4 288.9 314.6 288.3 314.9C287.7 315.2 283.8 313.3 283.3 313.2"/>
<path class="trk" stroke="#e377c2" stroke-width="4" d="M291.6 313.2C291.8 313.4 294.2 315.4 294.1 315.7C294.0 316.0 291.1 316.4 290.8 316.5"/>
<path class="trk" stroke="#7f7f7f" stroke-width="7" d="M309.9 280.0C310.2 280.5 312.4 284.1 313.2 285.0C314.0 285.8 317.8 288.4 319.0 289.1C320.2 289.9 325.0 292.7 326.5 293.3C327.9 293.9 333.3 295.5 334.8 295.8C336.3 296.1 341.7 296.2 343.1 296.6C344.4 297.0 349.0 299.5 349.7 299.9C350.4 300.4 350.5 301.4 350.5 301.6"/>
<path class="trk" stroke="#7f7f7f" stroke-width="6" d="M318.2 280.0C318.3 280.4 319.1 283.3 319.8 284.1C320.6 285.0 325.3 288.3 326.5 289.1C327.7 290.0 332.5 292.9 333.1 293.3"/>
<path class="trk" stroke="#7f7f7f" stroke-width="5" d="M324.0 315.7C324.4 315.5 327.6 313.7 328.1 313.2C328.7 312.7 329.5 309.6 329.8 309.9C330.1 310.2 331.3 315.4 331.5 316.5C331.6 317.6 331.1 320.7 331.5 321.5C331.8 322.3 333.9 324.4 334.8 324.8C335.7 325.3 340.3 326.6 341.4 326.5C342.5 326.3 345.5 323.7 346.4 323.2C347.3 322.6 350.8 321.1 351.4 320.7C352.0 320.2 352.2 318.5 353.0 318.2C353.8 317.9 359.4 317.4 360.0 317.3"/>
<path class="trk" stroke="#17becf" d="M320.0 222.4C320.7 222.5 326.0 223.0 327.5 223.0C329.0 223.0 334.7 222.6 336.2 222.4C337.7 222.2 342.5 221.1 343.7 220.5C344.8 220.0 347.5 216.9 348.6 216.2C349.8 215.5 354.8 213.4 356.1 213.1C357.4 212.7 361.7 211.8 362.3 212.4C363.0 213.1 362.7 218.5 362.9 219.9C363.2 221.3 364.2 226.5 364.8 227.4C365.4 228.3 368.7 229.6 369.8 229.9C370.9 230.1 375.9 229.6 377.3 229.9C378.6 230.1 383.1 232.2 384.7 232.4C386.3 232.5 392.9 232.0 394.7 231.7C396.5 231.5 403.1 230.4 404.7 229.9C406.2 229.4 410.9 227.2 412.1 226.1C413.3 225.1 417.5 219.8 417.7 218.7C418.0 217.5 415.6 214.4 414.6 213.7C413.6 213.0 407.9 211.9 407.1 211.2C406.3 210.5 405.8 207.3 405.9 206.2C406.0 205.2 408.2 200.7 408.4 200.0C408.5 199.3 407.7 199.1 407.6 199.0"/>
</g>
<g id="tracksB">
<path class="trk" stroke="#bcbd22" d="M304.6 724.4C304.6 724.1 304.6 721.1 304.8 720.5C305.1 719.9 307.4 718.4 307.6 717.8C307.8 717.2 307.3 714.6 307.3 713.9C307.4 713.2 308.0 710.8 308.2 710.1C308.3 709.4 309.1 707.0 309.2 706.3C309.3 705.6 309.0 702.9 309.3 702.4C309.6 701.9 312.3 700.8 312.9 700.9C313.5 701.0 315.3 703.0 315.8 703.5C316.3 704.0 318.3 705.8 318.4 706.4C318.5 707.0 317.6 709.6 317.2 710.1C316.8 710.7 314.6 711.9 314.0 712.3C313.4 712.7 311.3 714.0 310.7 714.4C310.1 714.8 308.1 716.3 307.6 716.8C307.2 717.3 306.4 720.0 305.8 720.3C305.3 720.5 302.7 719.6 302.0 719.7C301.3 719.7 299.0 720.6 298.3 720.8C297.6 720.9 295.1 721.3 294.4 721.4C293.7 721.5 290.9 721.5 290.5 721.9C290.2 722.3 290.3 725.1 290.4 725.8C290.5 726.5 291.4 728.8 291.8 729.4C292.1 730.0 293.8 731.9 294.2 732.5C294.5 733.1 295.3 735.5 295.6 736.1C295.9 736.8 297.0 739.2 297.5 739.5C298.0 739.8 300.8 739.7 301.4 739.4C302.0 739.2 303.8 737.3 304.4 736.9C304.9 736.4 306.9 734.9 307.3 734.3C307.7 733.7 308.5 731.4 308.8 730.7C309.1 730.0 310.1 727.8 310.4 727.1C310.7 726.5 311.7 724.2 312.1 723.6C312.5 723.1 314.7 721.7 315.1 721.2C315.6 720.6 316.3 718.2 316.6 717.6C317.0 717.0 318.1 714.5 318.6 714.2C319.1 714.0 322.2 714.3 322.5 714.7C322.8 715.1 322.1 717.9 321.9 718.6C321.6 719.2 320.5 721.5 320.1 722.0C319.6 722.6 317.7 724.3 317.1 724.5C316.4 724.7 313.4 724.6 313.2 724.2C312.9 723.8 314.0 721.1 314.3 720.5C314.6 719.8 315.9 717.7 316.2 717.0C316.4 716.4 317.1 713.9 317.1 713.3C317.1 712.6 316.1 710.1 316.2 709.5C316.3 708.8 318.5 706.9 318.5 706.3C318.4 705.7 316.5 703.4 315.9 703.3C315.4 703.2 312.9 704.9 312.6 705.4C312.4 706.0 312.9 708.7 312.8 709.3C312.6 710.0 311.1 712.1 310.8 712.7C310.6 713.4 309.8 715.8 309.8 716.5C309.8 717.2 310.2 719.9 310.6 720.3C311.0 720.8 313.6 721.4 314.3 721.4C315.0 721.3 317.2 720.0 317.9 719.9C318.6 719.8 321.5 720.3 321.8 720.0C322.1 719.7 321.4 716.8 321.0 716.2C320.7 715.6 318.6 714.2 318.0 713.7C317.4 713.3 315.3 712.0 314.8 711.6C314.2 711.1 311.9 709.8 311.6 709.2C311.4 708.7 312.3 706.1 312.3 705.4C312.3 704.7 311.8 702.2 311.7 701.5C311.7 700.8 312.3 698.0 311.9 697.6C311.6 697.3 308.7 697.6 308.0 697.7C307.3 697.8 304.9 698.5 304.3 698.8C303.7 699.1 301.5 700.4 301.0 700.9C300.6 701.5 299.4 703.8 299.3 704.4C299.2 705.1 300.1 707.5 300.2 708.2C300.2 708.9 300.0 711.4 299.9 712.1C299.9 712.8 299.1 715.3 299.2 716.0C299.3 716.6 300.8 718.8 301.3 719.3C301.8 719.7 304.2 720.6 304.8 721.0C305.3 721.4 306.8 723.5 307.2 724.0C307.6 724.6 308.7 726.9 309.0 727.5C309.3 728.1 310.6 730.7 310.7 731.0"/>
<path class="trk" stroke="#bcbd22" d="M301.4 722.8C301.5 723.2 302.3 726.0 302.2 726.7C302.1 727.3 301.0 729.6 300.7 730.2C300.5 730.9 299.4 733.3 299.5 734.0C299.6 734.6 301.2 736.7 301.7 737.2C302.2 737.7 304.8 739.2 304.8 739.6C304.7 739.9 301.8 740.8 301.1 740.9C300.4 741.1 297.9 741.1 297.2 741.1C296.5 741.1 294.0 740.8 293.4 740.5C292.7 740.3 290.4 739.1 289.9 738.6C289.5 738.2 288.5 735.7 288.0 735.2C287.5 734.8 284.8 734.5 284.3 734.2C283.7 733.8 281.8 731.6 281.8 731.1C281.9 730.6 284.2 729.0 284.7 728.5C285.3 728.0 287.2 726.4 287.5 725.8C287.8 725.2 288.0 722.6 288.0 721.9C288.1 721.2 287.9 718.7 287.9 718.0C287.8 717.3 287.6 714.8 287.6 714.1C287.6 713.4 287.7 710.8 288.0 710.2C288.3 709.6 290.2 707.6 290.8 707.5C291.4 707.4 293.9 708.4 294.5 708.8C295.1 709.1 297.1 710.8 297.4 711.3C297.8 711.9 298.6 714.4 298.6 715.0C298.6 715.7 297.6 718.1 297.6 718.8C297.5 719.5 298.1 722.0 298.3 722.6C298.6 723.3 300.1 725.2 300.6 725.8C301.1 726.3 303.0 727.9 303.4 728.5C303.7 729.1 304.2 731.6 304.3 732.3C304.5 733.0 305.2 735.6 305.0 736.2C304.7 736.7 302.2 737.9 301.6 738.1C300.9 738.2 298.2 738.2 297.7 737.9C297.1 737.5 295.9 735.2 295.5 734.6C295.1 734.0 293.5 732.1 293.3 731.4C293.1 730.7 292.8 728.0 293.1 727.5C293.4 727.0 296.0 726.1 296.6 725.9C297.3 725.7 300.0 725.7 300.5 725.3C301.0 725.0 301.7 722.3 302.3 721.9C302.8 721.5 305.5 721.3 306.1 721.0C306.6 720.6 308.6 718.7 308.7 718.1C308.8 717.6 307.7 714.9 307.2 714.6C306.7 714.2 303.7 714.9 303.3 714.5C303.0 714.2 303.7 711.1 303.4 710.6C303.0 710.2 300.3 709.7 299.6 709.6C298.9 709.5 296.3 710.0 295.7 709.7C295.1 709.5 293.7 706.9 293.1 706.8C292.6 706.7 290.0 707.9 289.6 708.4C289.2 708.9 288.8 711.6 288.9 712.3C289.0 712.9 290.5 715.1 290.8 715.7C291.2 716.3 293.0 718.1 293.2 718.7C293.5 719.4 293.1 722.0 293.3 722.6C293.4 723.3 294.4 726.0 294.6 726.3"/>
<path class="trk" stroke="#2ca02c" d="M293.0 718.4C293.0 718.7 292.6 721.6 292.8 722.2C292.9 722.9 294.2 725.1 294.5 725.7C294.8 726.4 295.5 729.1 296.0 729.4C296.4 729.6 299.2 728.7 299.7 728.3C300.2 727.9 301.5 725.5 301.6 724.9C301.7 724.2 300.9 721.8 300.8 721.0C300.7 720.3 300.5 717.3 300.8 717.1C301.1 716.9 303.7 719.0 304.3 718.9C304.9 718.8 307.0 717.0 307.3 716.4C307.6 715.8 307.7 713.0 307.4 712.5C307.0 712.0 304.4 711.4 303.7 711.1C303.1 710.8 300.8 709.7 300.3 709.2C299.8 708.8 298.4 706.6 298.2 705.9C298.1 705.3 298.6 702.7 298.8 702.1C299.1 701.4 301.4 699.3 301.3 699.0C301.1 698.7 298.0 698.7 297.4 698.9C296.7 699.1 294.5 700.7 294.2 701.2C293.9 701.8 294.5 704.6 294.2 705.1C293.9 705.7 291.7 707.1 291.0 707.3C290.4 707.6 287.8 707.8 287.2 708.1C286.5 708.4 284.6 709.9 284.0 710.4C283.5 710.9 282.2 713.3 281.7 713.5C281.1 713.7 278.3 712.8 278.0 712.4C277.7 711.9 278.3 709.2 278.5 708.5C278.7 707.8 279.6 705.4 280.1 705.0C280.6 704.6 283.3 704.1 283.9 704.2C284.6 704.2 286.7 705.9 287.4 706.0C288.0 706.1 290.5 705.2 291.2 705.3C291.9 705.4 294.2 706.5 294.8 706.7C295.5 706.8 298.0 706.8 298.7 707.0C299.4 707.1 301.8 708.1 302.5 708.0C303.2 708.0 305.8 706.5 306.1 706.7C306.4 706.9 305.7 709.9 305.8 710.6C305.9 711.2 307.4 713.5 307.3 714.1C307.3 714.8 305.6 716.8 305.2 717.4C304.7 717.9 303.0 719.8 302.4 720.2C301.8 720.6 299.4 722.1 298.9 721.9C298.4 721.7 297.7 718.8 297.2 718.4C296.7 718.0 294.1 717.5 293.5 717.2C292.9 716.9 291.0 715.2 290.4 714.8C289.8 714.5 287.3 713.7 286.8 713.3C286.3 712.8 285.6 710.3 285.1 709.7C284.7 709.2 282.6 707.8 282.1 707.3C281.7 706.7 280.5 703.9 280.2 703.9C279.9 703.9 278.6 707.0 278.5 707.4"/>
<path class="trk" stroke="#2ca02c" d="M308.7 689.4C308.4 689.5 306.0 691.0 305.3 691.3C304.7 691.6 302.0 692.1 301.7 692.6C301.3 693.1 301.5 696.4 301.2 696.5C301.0 696.5 298.9 694.0 298.8 693.4C298.7 692.8 300.6 690.5 300.5 689.9C300.5 689.3 298.5 687.2 298.5 686.6C298.5 686.0 300.3 683.7 300.9 683.5C301.5 683.3 304.1 683.9 304.8 684.0C305.5 684.1 308.0 684.1 308.7 684.3C309.3 684.5 311.6 685.6 312.2 686.0C312.8 686.4 314.5 688.2 314.9 688.7C315.4 689.3 316.9 691.5 316.9 692.1C316.9 692.7 315.4 694.9 314.9 695.5C314.5 696.0 312.6 697.9 312.0 698.0C311.4 698.2 308.9 696.7 308.3 696.8C307.7 696.9 305.9 699.3 305.3 699.3C304.8 699.3 302.9 697.1 302.7 696.5C302.5 695.9 303.3 693.3 303.2 692.6C303.0 691.9 301.6 689.7 301.0 689.3C300.5 688.9 297.4 688.6 297.3 688.3C297.2 687.9 299.5 686.0 300.0 685.4C300.4 684.9 301.9 682.4 302.1 682.1"/>
<path class="trk" stroke="#2ca02c" d="M295.5 773.9C295.9 773.8 298.6 773.0 299.2 772.6C299.8 772.3 301.6 770.5 302.2 770.1C302.8 769.7 304.9 768.4 305.5 768.0C306.1 767.6 308.7 765.9 308.7 765.7C308.6 765.5 305.5 765.8 304.8 765.9C304.1 766.0 301.5 766.5 301.0 767.0C300.5 767.4 299.1 769.8 299.1 770.4C299.1 771.0 301.0 773.0 301.2 773.7C301.4 774.3 301.5 776.9 301.4 777.6C301.3 778.2 300.1 780.5 299.8 781.1C299.5 781.8 298.7 784.2 298.2 784.7C297.7 785.1 295.2 785.8 294.5 786.0C293.9 786.3 291.6 787.8 291.0 787.8C290.4 787.7 288.1 786.1 287.8 785.6C287.5 785.0 287.6 782.3 287.8 781.7C288.0 781.0 289.2 778.6 289.7 778.2C290.2 777.9 292.9 777.9 293.5 777.6C294.2 777.3 295.9 775.4 296.5 775.1C297.2 774.9 299.8 774.5 300.4 774.8C301.0 775.0 302.7 777.0 303.0 777.7C303.3 778.3 303.8 780.8 303.7 781.5C303.6 782.2 302.3 784.3 301.9 785.0C301.6 785.6 300.4 787.7 300.0 788.4C299.7 789.0 298.6 791.6 298.1 791.7C297.6 791.9 295.0 790.7 294.5 790.3C293.9 789.9 292.3 787.9 291.9 787.3C291.6 786.7 290.5 784.0 290.7 783.6C291.0 783.2 293.9 782.9 294.6 782.9C295.3 782.9 297.7 783.7 298.4 783.7C299.1 783.7 301.6 782.8 302.2 783.0C302.9 783.1 304.9 784.7 305.5 785.1C306.2 785.4 308.6 786.7 309.1 786.5C309.7 786.4 311.7 784.3 311.9 783.7C312.0 783.1 310.7 780.6 310.8 780.0C310.9 779.3 312.8 777.1 313.1 776.8"/>
<path class="trk" stroke="#2ca02c" d="M217.2 742.8C216.9 742.9 214.1 743.1 213.3 743.2C212.6 743.3 210.1 743.3 209.5 743.5C208.8 743.7 206.4 744.7 205.9 745.2C205.4 745.6 204.3 747.9 203.9 748.5C203.6 749.1 202.0 751.1 201.8 751.8C201.7 752.5 201.9 755.0 201.9 755.7C201.9 756.4 201.5 759.1 201.8 759.6C202.1 760.1 204.7 761.0 205.2 761.4C205.8 761.9 207.3 764.1 207.9 764.3C208.5 764.5 211.2 764.1 211.8 763.8C212.4 763.4 213.9 761.4 214.5 761.0C215.1 760.6 217.5 759.8 218.1 759.4C218.7 759.1 220.9 757.8 221.4 757.3C221.9 756.9 223.6 754.8 223.7 754.2C223.8 753.6 222.5 751.2 222.1 750.6C221.7 750.1 219.8 748.4 219.3 747.9C218.8 747.4 216.4 746.1 216.2 745.5C216.0 744.9 217.1 742.4 217.0 741.7C217.0 741.0 216.5 738.3 216.0 737.9C215.6 737.5 212.9 737.2 212.2 737.1C211.5 737.0 209.0 737.0 208.3 736.8C207.6 736.7 205.2 735.6 204.6 735.7C204.0 735.8 201.8 737.7 201.7 738.2C201.6 738.8 203.2 741.1 203.6 741.6C204.0 742.2 205.8 743.9 206.3 744.4C206.8 745.0 208.4 746.9 208.8 747.5C209.1 748.1 210.3 750.4 210.3 751.1C210.2 751.7 208.8 753.9 208.6 754.6C208.4 755.3 208.8 758.1 208.4 758.5C208.0 758.9 205.2 758.5 204.5 758.7C203.8 758.8 201.1 759.7 200.9 760.2C200.7 760.7 201.9 763.5 202.4 763.8C202.9 764.1 205.7 764.1 206.3 763.9C206.9 763.6 208.8 761.5 209.4 761.5C210.0 761.4 212.0 763.4 212.6 763.6C213.3 763.8 216.0 764.0 216.5 763.7C217.1 763.4 218.6 761.3 219.1 760.7C219.5 760.2 221.1 758.2 221.4 757.6C221.7 756.9 222.5 754.4 222.4 753.8C222.2 753.2 220.1 751.6 219.6 751.1C219.1 750.6 217.7 748.5 217.2 748.0C216.8 747.4 215.3 745.3 214.8 744.9C214.2 744.5 211.7 744.0 211.1 743.6C210.6 743.2 209.5 740.8 209.0 740.3C208.6 739.8 206.4 738.3 206.1 737.7C205.8 737.1 205.5 734.1 205.8 733.8C206.1 733.6 209.0 734.6 209.5 735.0C210.0 735.5 210.9 737.9 211.4 738.5C211.8 739.0 213.6 740.7 214.2 741.2C214.7 741.7 216.5 743.4 217.1 743.8C217.7 744.2 219.9 745.3 220.6 745.5C221.3 745.6 223.8 745.4 224.5 745.4C225.2 745.5 227.7 746.0 228.3 746.3C228.9 746.7 230.4 748.8 230.7 749.4C231.1 750.0 232.3 752.4 232.2 753.0C232.1 753.6 230.3 755.6 229.7 755.9C229.1 756.3 226.5 756.5 225.9 756.8C225.3 757.2 224.2 759.7 223.6 760.0C223.1 760.2 220.5 759.6 219.8 759.5C219.0 759.4 216.5 759.0 215.9 758.7C215.3 758.4 213.6 756.5 213.1 756.0C212.6 755.5 210.7 753.7 210.5 753.1C210.2 752.5 210.5 749.9 210.3 749.2C210.1 748.6 208.8 746.4 208.4 745.9C208.0 745.3 206.1 743.6 205.8 742.9C205.5 742.3 205.4 739.8 205.2 739.1C205.0 738.4 203.4 736.0 203.6 735.5C203.8 735.1 206.6 734.1 207.2 734.2C207.9 734.2 210.1 735.6 210.7 735.9C211.4 736.2 213.9 737.5 214.2 737.6"/>
<path class="trk" stroke="#e377c2" d="M276.2 701.3C276.2 701.0 276.3 698.1 276.4 697.4C276.6 696.7 277.7 694.5 278.0 693.8C278.2 693.2 278.7 690.7 279.0 690.1C279.2 689.4 280.7 687.0 280.6 686.5C280.4 686.0 278.0 684.3 277.4 684.3C276.8 684.2 274.4 685.6 273.9 686.1C273.5 686.6 272.6 689.0 272.3 689.7C271.9 690.3 270.8 692.5 270.3 693.0C269.8 693.5 267.5 694.6 266.8 694.8C266.2 695.0 263.5 695.0 263.0 695.3C262.5 695.7 261.3 698.3 261.4 698.9C261.5 699.5 263.3 701.4 263.7 702.1C264.1 702.7 265.5 704.8 265.5 705.5C265.6 706.1 264.4 709.1 264.1 709.1C263.8 709.2 262.1 706.5 261.9 705.9C261.8 705.2 262.7 702.8 262.7 702.1C262.7 701.3 261.8 698.7 262.0 698.2C262.3 697.7 265.1 696.7 265.7 696.9C266.3 697.0 268.0 699.2 268.4 699.8C268.7 700.4 269.5 702.7 269.8 703.4C270.1 704.0 271.4 706.2 271.6 706.8C271.8 707.5 272.2 710.0 272.1 710.7C272.1 711.4 271.6 714.3 271.2 714.5C270.7 714.7 268.0 713.4 267.6 713.0C267.2 712.5 267.1 709.8 266.8 709.1C266.5 708.5 265.3 706.2 264.7 705.8C264.2 705.4 261.3 705.3 260.9 704.9C260.6 704.4 260.5 701.7 260.6 701.0C260.8 700.3 262.0 698.0 262.5 697.6C263.0 697.2 265.6 696.8 266.3 696.7C267.0 696.6 269.5 696.6 270.2 696.6C270.9 696.6 273.4 696.7 274.1 696.8C274.8 697.0 277.3 697.6 277.8 698.1C278.3 698.5 278.8 701.1 279.2 701.7C279.6 702.3 281.6 703.8 282.1 704.3C282.5 704.8 283.7 707.1 284.3 707.5C284.8 708.0 287.4 709.1 287.9 709.0C288.4 708.8 290.1 706.5 290.2 705.8C290.3 705.2 288.8 702.7 289.0 702.1C289.1 701.5 291.5 699.8 291.6 699.2C291.7 698.6 290.6 696.1 290.1 695.6C289.6 695.2 287.1 694.3 286.4 694.3C285.7 694.3 283.4 695.3 282.7 695.7C282.1 696.0 280.4 697.9 279.7 698.1C279.1 698.3 276.2 698.0 275.8 698.0"/>
<path class="trk" stroke="#e377c2" d="M323.1 716.8C323.4 717.1 325.5 719.0 326.1 719.4C326.6 719.8 329.1 721.3 329.5 721.2C330.0 721.0 330.8 717.5 330.6 717.4C330.5 717.4 328.7 720.2 328.1 720.4C327.5 720.6 324.8 720.1 324.2 719.7C323.7 719.3 322.8 716.8 322.2 716.4C321.7 715.9 319.3 715.3 318.6 714.9C318.0 714.6 315.9 713.1 315.3 712.9C314.6 712.7 311.7 712.8 311.4 712.4C311.1 712.0 311.8 709.0 312.2 708.5C312.6 708.0 315.1 707.2 315.7 706.8C316.3 706.4 318.1 704.8 318.7 704.4C319.2 703.9 321.1 702.0 321.7 701.9C322.4 701.8 324.8 702.9 325.5 703.1C326.1 703.3 328.9 703.5 329.3 704.0C329.6 704.4 329.5 707.2 329.3 707.9C329.2 708.6 327.8 710.7 327.5 711.4C327.3 712.0 327.3 714.6 327.1 715.2C326.8 715.9 325.6 718.1 325.2 718.7C324.8 719.2 323.0 721.3 322.4 721.4C321.8 721.5 319.3 720.5 318.7 720.1C318.2 719.7 316.9 717.4 316.4 717.0C315.8 716.5 313.3 715.7 312.9 715.2C312.5 714.7 311.8 712.1 311.9 711.4C312.0 710.8 313.6 708.3 313.8 708.0"/>
<path class="trk" stroke="#e377c2" d="M281.6 757.7C281.8 758.0 283.5 760.3 283.9 760.8C284.4 761.4 285.9 763.7 286.5 763.8C287.0 763.9 289.3 762.4 290.0 762.1C290.6 761.7 293.0 760.8 293.4 760.2C293.8 759.7 294.7 757.2 294.6 756.5C294.5 755.9 292.9 753.8 292.4 753.4C291.8 753.0 289.4 752.3 288.7 752.1C288.0 752.0 285.5 751.3 284.8 751.4C284.2 751.5 282.1 753.1 281.4 753.2C280.8 753.4 278.2 752.4 277.6 752.6C277.0 752.8 275.4 754.9 274.8 755.4C274.3 755.8 271.5 756.8 271.4 757.2C271.3 757.7 273.2 759.8 273.8 760.3C274.3 760.8 276.6 761.8 277.1 762.3C277.6 762.8 278.4 765.3 278.9 765.8C279.3 766.3 281.7 767.4 282.3 767.6C283.0 767.7 285.7 767.6 286.2 767.2C286.7 766.9 287.6 764.3 287.9 763.7C288.2 763.1 289.8 761.0 289.9 760.4C290.1 759.7 289.7 757.2 289.7 756.5C289.6 755.8 289.6 753.3 289.4 752.6C289.3 751.9 288.5 749.3 288.0 748.9C287.6 748.5 284.7 748.6 284.2 748.2C283.7 747.8 282.8 744.8 282.4 744.8C282.0 744.7 280.3 747.6 280.1 747.9"/>
<path class="trk" stroke="#e377c2" d="M221.1 705.5C220.8 705.3 218.5 703.3 218.3 702.7C218.2 702.1 219.2 699.6 219.6 699.0C219.9 698.4 222.0 696.7 222.2 696.1C222.4 695.5 221.5 692.6 221.8 692.2C222.2 691.8 225.2 691.7 225.7 692.0C226.3 692.3 227.2 694.8 227.6 695.4C228.0 696.0 229.8 697.7 230.2 698.3C230.5 699.0 231.6 701.8 231.3 702.1C231.1 702.4 228.1 701.5 227.4 701.6C226.8 701.7 224.6 703.5 224.0 703.4C223.4 703.4 221.5 701.4 221.0 700.9C220.5 700.4 219.5 698.1 219.0 697.6C218.5 697.1 216.3 695.5 215.7 695.5C215.1 695.6 213.1 697.6 212.9 698.2C212.6 698.8 213.2 701.6 212.9 702.1C212.6 702.7 209.9 704.0 209.8 704.5C209.7 705.0 211.6 707.1 212.0 707.8C212.3 708.4 212.9 710.8 213.2 711.5C213.5 712.1 214.7 714.3 215.1 714.9C215.6 715.4 217.4 717.1 217.9 717.6C218.4 718.2 219.7 720.8 220.1 720.8C220.5 720.8 221.7 718.0 222.3 717.6C222.8 717.3 225.4 717.2 226.1 717.1C226.8 716.9 229.2 716.1 229.8 715.9C230.5 715.7 232.9 715.1 233.6 715.0C234.3 714.8 237.2 713.8 237.4 714.1C237.6 714.3 236.2 717.4 235.7 717.6C235.2 717.8 232.7 716.4 232.1 716.2C231.4 716.1 228.8 715.9 228.2 715.6C227.6 715.3 225.7 713.6 225.3 713.0C224.9 712.5 224.1 710.1 223.7 709.5C223.3 708.9 221.7 706.9 221.1 706.6C220.5 706.3 218.0 705.9 217.2 705.8C216.5 705.8 214.0 706.1 213.3 705.8C212.7 705.6 210.6 703.7 210.5 703.2C210.4 702.6 211.6 700.1 212.1 699.6C212.6 699.2 215.1 698.6 215.8 698.2C216.4 697.9 218.2 696.2 218.8 695.8C219.4 695.4 221.5 693.9 222.1 693.8C222.8 693.6 225.7 694.0 226.0 694.0"/>
<path class="trk" stroke="#e377c2" d="M346.8 790.1C346.9 789.8 347.9 787.1 348.2 786.5C348.5 785.8 350.0 783.8 350.2 783.1C350.5 782.5 351.2 779.7 351.0 779.3C350.7 778.9 347.6 778.2 347.2 778.4C346.7 778.7 346.3 781.5 346.1 782.2C346.0 782.9 345.5 785.3 345.3 786.0C345.2 786.7 344.4 789.1 344.3 789.8C344.2 790.5 344.2 792.9 344.2 793.7C344.2 794.4 344.2 797.0 344.5 797.6C344.9 798.1 347.2 799.5 347.8 799.6C348.5 799.7 351.2 799.1 351.6 798.6C352.0 798.2 351.8 795.0 352.3 794.8C352.7 794.5 355.3 795.9 356.0 795.9C356.7 795.9 359.6 794.5 359.7 794.7C359.7 794.8 357.5 797.1 356.9 797.4C356.2 797.6 353.7 797.2 353.0 797.3C352.2 797.4 349.9 798.3 349.2 798.3C348.5 798.3 345.8 797.8 345.4 797.4C345.0 796.9 344.8 794.2 344.7 793.5C344.6 792.8 344.2 790.4 344.3 789.7C344.3 789.0 345.1 786.6 345.3 785.9C345.5 785.2 346.6 783.0 346.8 782.3C347.1 781.7 347.9 779.0 348.4 778.8C348.9 778.5 351.6 779.4 352.2 779.7C352.9 779.9 355.2 781.2 355.6 781.7C356.0 782.2 356.6 784.7 356.6 785.4C356.7 786.1 356.0 788.6 356.1 789.3C356.2 790.0 357.5 792.2 357.9 792.7C358.4 793.3 360.9 795.1 361.1 795.0C361.2 794.9 360.0 791.9 359.5 791.4C359.1 790.9 356.9 789.6 356.2 789.4C355.5 789.2 353.0 789.4 352.3 789.6C351.6 789.7 349.0 791.4 348.8 791.2C348.5 791.0 348.9 787.7 349.3 787.3C349.7 786.9 352.7 786.4 353.0 786.3"/>
<path class="trk" stroke="#1f77b4" d="M320.2 723.7C320.0 723.4 318.7 720.9 318.4 720.3C318.1 719.6 317.3 717.3 316.9 716.7C316.6 716.1 314.2 714.2 314.3 713.8C314.4 713.4 317.2 712.1 317.8 712.1C318.5 712.1 320.7 713.8 321.3 713.8C322.0 713.8 324.4 712.6 324.9 712.1C325.4 711.6 326.9 708.8 326.7 708.6C326.5 708.4 323.5 709.3 323.0 709.8C322.5 710.2 321.4 712.6 321.2 713.3C321.0 713.9 320.6 716.4 320.6 717.1C320.6 717.8 321.2 720.2 321.3 721.0C321.4 721.7 321.5 724.1 321.5 724.9C321.5 725.6 321.0 728.0 321.0 728.7C320.9 729.4 321.0 731.9 320.9 732.6C320.9 733.3 320.1 736.2 320.5 736.5C320.8 736.8 323.8 736.3 324.3 736.0C324.9 735.6 326.4 733.5 326.6 732.8C326.9 732.2 327.4 729.5 327.1 729.0C326.9 728.4 324.5 727.0 324.2 726.4C323.8 725.8 323.5 723.3 323.4 722.6C323.4 721.9 323.5 719.4 323.5 718.7C323.6 718.0 323.5 715.4 323.7 714.8C324.0 714.2 325.9 712.4 326.2 711.8C326.6 711.2 327.2 708.1 327.4 708.1C327.6 708.1 328.6 711.2 328.5 711.8C328.4 712.5 326.9 714.6 326.4 715.1C326.0 715.7 324.0 717.2 323.5 717.7C323.0 718.2 321.3 720.0 320.9 720.6C320.5 721.2 319.5 723.5 319.2 724.1C318.8 724.7 317.2 726.6 316.9 727.3C316.6 727.9 316.3 730.9 315.9 731.0C315.5 731.2 312.9 729.3 312.7 728.7C312.6 728.2 313.6 725.5 314.1 725.1C314.5 724.6 317.0 723.7 317.7 723.5C318.4 723.4 321.2 723.4 321.6 723.4"/>
<path class="trk" stroke="#1f77b4" d="M303.8 799.4C303.7 799.0 303.3 796.2 303.1 795.6C302.8 794.9 301.5 792.8 301.2 792.1C300.9 791.5 299.7 789.3 299.5 788.6C299.3 788.0 299.0 785.5 299.0 784.8C299.0 784.1 298.8 781.2 299.2 780.9C299.5 780.6 302.4 781.0 303.1 781.2C303.7 781.5 305.8 782.9 306.3 783.5C306.7 784.0 307.5 786.4 307.8 787.1C308.0 787.7 308.9 790.1 308.9 790.8C308.9 791.5 307.8 794.0 308.0 794.6C308.2 795.2 310.6 796.6 311.0 797.2C311.4 797.7 312.1 800.2 312.4 800.8C312.6 801.5 314.1 803.7 314.0 804.3C314.0 804.9 312.2 807.1 311.6 807.4C311.0 807.7 308.3 807.5 307.7 807.3C307.1 807.0 305.1 805.3 304.8 804.7C304.5 804.1 304.8 801.4 304.5 800.8C304.2 800.2 301.9 798.9 301.5 798.4C301.0 797.8 300.2 795.2 299.6 794.9C299.1 794.6 296.4 794.9 295.7 794.9C295.0 795.0 292.2 794.8 291.8 795.2C291.5 795.5 291.9 798.3 291.8 799.1C291.8 799.8 291.0 802.5 291.3 802.9C291.6 803.4 294.3 804.0 295.0 804.1C295.7 804.3 298.2 804.9 298.9 804.8C299.6 804.7 301.8 803.5 302.5 803.2C303.1 803.0 305.6 802.2 306.1 801.8C306.5 801.3 307.5 798.9 307.5 798.2C307.6 797.5 307.0 795.0 307.0 794.3C307.0 793.6 307.5 791.1 307.4 790.4C307.3 789.7 306.1 787.5 306.0 786.8C305.8 786.1 305.2 783.6 305.4 783.0C305.6 782.3 307.4 780.0 307.9 780.0C308.4 779.9 310.5 781.8 311.0 782.4C311.4 782.9 311.9 785.9 312.3 786.0C312.8 786.2 315.6 784.6 315.7 784.1C315.8 783.6 314.0 781.1 313.5 780.9C313.0 780.7 310.5 782.1 309.9 782.3C309.2 782.6 306.8 783.4 306.2 783.8C305.6 784.1 303.7 785.8 303.3 786.3C302.8 786.8 301.4 788.9 301.2 789.6C301.0 790.3 301.4 792.8 301.4 793.5C301.3 794.2 301.0 796.7 300.8 797.4C300.6 798.0 299.0 800.1 298.9 800.8C298.7 801.4 298.7 803.9 298.7 804.6C298.6 805.4 298.4 808.3 298.7 808.5C299.1 808.8 301.9 807.9 302.5 807.6C303.2 807.3 305.3 806.0 305.8 805.6C306.4 805.1 308.0 803.2 308.5 802.7C309.0 802.3 311.2 801.0 311.7 800.5C312.2 800.0 313.2 797.7 313.6 797.1C313.9 796.5 315.2 794.3 315.6 793.7C315.9 793.1 317.5 791.1 317.6 790.4C317.8 789.8 317.8 787.1 317.4 786.5C317.1 786.0 314.6 785.0 314.0 784.6C313.4 784.2 311.6 782.3 311.0 782.2C310.4 782.0 307.6 782.5 307.2 783.0C306.8 783.4 306.6 786.2 306.7 786.8C306.9 787.5 308.9 789.3 309.1 790.0C309.3 790.6 309.2 793.5 309.2 793.9"/>
<path class="trk" stroke="#1f77b4" d="M325.7 744.0C325.7 743.6 325.3 740.8 325.1 740.1C325.0 739.4 324.1 737.1 323.9 736.4C323.6 735.8 322.3 733.4 322.4 732.8C322.5 732.2 324.2 729.9 324.7 729.7C325.3 729.5 328.0 730.4 328.5 730.8C329.0 731.2 330.2 733.5 330.4 734.2C330.6 734.8 330.6 737.4 330.9 738.0C331.2 738.7 333.3 740.4 333.4 741.0C333.6 741.6 332.6 744.1 332.3 744.7C332.0 745.4 330.3 747.2 329.8 747.7C329.2 748.2 327.2 750.0 326.6 750.0C326.1 750.0 324.2 748.0 323.6 747.6C323.0 747.2 320.6 746.6 320.0 746.2C319.4 745.8 317.6 744.1 317.1 743.5C316.7 743.0 315.7 740.5 315.1 740.2C314.6 739.8 311.6 739.7 311.3 739.3C311.1 738.9 311.9 736.0 312.4 735.6C312.8 735.2 315.6 735.3 316.2 735.2C316.9 735.0 319.3 734.3 320.0 734.0C320.6 733.7 322.6 732.2 323.2 731.7C323.7 731.3 325.3 729.0 325.9 728.9C326.4 728.9 328.5 730.8 328.9 731.4C329.2 732.0 329.6 734.5 329.7 735.2C329.8 735.9 329.9 738.4 329.7 739.1C329.5 739.8 328.0 742.2 327.8 742.5"/>
<path class="trk" stroke="#1f77b4" d="M281.3 720.7C281.6 720.5 283.9 718.3 284.4 718.3C284.9 718.4 286.9 720.7 287.0 721.3C287.0 721.8 285.3 724.0 284.9 724.6C284.5 725.2 282.7 727.0 282.4 727.6C282.2 728.2 281.5 731.3 281.8 731.4C282.0 731.6 284.6 729.9 285.1 729.4C285.7 729.0 287.3 727.1 287.8 726.6C288.2 726.0 290.3 724.3 290.4 723.7C290.5 723.1 289.0 720.7 289.0 720.1C289.1 719.4 290.9 717.2 290.8 716.6C290.7 716.0 288.6 714.2 288.1 713.8C287.5 713.4 285.1 712.5 284.5 712.2C283.9 711.9 281.2 710.2 281.2 710.1C281.3 709.9 284.7 710.3 285.1 710.7C285.5 711.1 285.2 714.0 285.5 714.6C285.8 715.2 288.0 716.5 288.5 717.0C289.0 717.5 291.0 719.7 290.9 720.1C290.8 720.6 288.0 721.6 287.5 722.1C287.0 722.5 285.7 724.7 285.3 725.3C284.9 725.9 283.4 728.3 283.2 728.6"/>
<path class="trk" stroke="#9467bd" d="M246.4 692.3C246.2 692.6 245.0 695.2 244.7 695.8C244.3 696.4 242.6 698.3 242.3 698.9C241.9 699.5 240.6 702.0 240.8 702.5C240.9 703.1 243.3 704.7 243.9 704.8C244.6 705.0 247.1 704.3 247.8 704.2C248.5 704.0 250.9 703.5 251.6 703.2C252.3 703.0 254.5 701.8 255.1 701.7C255.8 701.6 258.3 702.2 259.0 702.1C259.7 702.0 262.1 701.1 262.7 700.7C263.2 700.3 265.0 698.2 265.1 697.6C265.2 697.0 263.6 694.6 263.7 694.0C263.7 693.4 265.8 691.5 266.0 690.9C266.2 690.2 266.5 687.6 266.3 687.0C266.1 686.4 263.9 684.7 263.7 684.1C263.5 683.5 264.6 680.7 264.3 680.2C264.0 679.8 261.3 679.1 260.6 678.9C260.0 678.6 257.6 677.9 256.9 677.7C256.2 677.6 253.7 676.9 253.1 677.1C252.4 677.3 250.6 679.2 250.0 679.5C249.4 679.9 247.1 680.9 246.5 681.2C245.9 681.6 243.9 683.1 243.2 683.3C242.6 683.6 240.0 683.7 239.3 683.9C238.7 684.0 236.3 685.0 235.6 685.1C235.0 685.2 232.1 685.0 231.8 684.6C231.5 684.2 232.2 681.4 232.5 680.8C232.8 680.2 234.9 678.7 235.4 678.3C236.0 677.8 238.1 676.3 238.8 676.2C239.4 676.1 241.9 676.8 242.6 677.2C243.2 677.5 244.9 679.3 245.5 679.8C246.0 680.2 248.6 681.4 248.7 681.9C248.8 682.4 247.0 684.6 246.5 685.1C246.0 685.5 243.8 686.8 243.1 687.0C242.4 687.1 239.8 686.5 239.2 686.8C238.6 687.1 237.1 689.3 236.8 689.9C236.5 690.5 236.1 693.0 236.0 693.7C235.9 694.4 235.3 696.9 235.4 697.6C235.6 698.2 236.9 700.4 237.4 700.9C237.9 701.4 240.1 702.8 240.8 702.9C241.4 703.0 243.9 702.3 244.6 702.1C245.3 702.0 247.8 701.8 248.5 701.6C249.1 701.4 251.6 700.3 252.0 699.8C252.3 699.3 252.2 696.4 252.6 696.0C253.0 695.6 255.7 695.3 256.4 695.1C257.1 695.0 259.9 695.1 260.3 694.7C260.6 694.3 260.4 691.5 260.5 690.8C260.6 690.1 261.3 687.5 261.0 686.9C260.8 686.3 258.4 685.1 257.8 684.7C257.3 684.2 255.7 682.1 255.1 681.9C254.5 681.7 251.9 682.1 251.2 682.0C250.5 682.0 248.1 681.3 247.4 681.2C246.7 681.1 244.2 681.0 243.5 680.9C242.8 680.9 240.3 680.8 239.6 680.6C238.9 680.5 236.2 679.7 235.9 679.3C235.7 678.8 236.7 676.1 237.1 675.5C237.5 675.0 240.1 673.8 240.5 673.6"/>
<path class="trk" stroke="#9467bd" d="M303.2 681.2C303.5 681.0 306.0 679.3 306.6 679.3C307.2 679.3 309.3 680.9 310.0 681.2C310.7 681.5 313.1 682.3 313.8 682.2C314.4 682.1 316.3 680.3 316.9 679.9C317.6 679.6 320.1 678.6 320.4 678.1C320.6 677.5 320.2 674.5 319.8 674.2C319.3 673.9 316.5 674.5 315.9 674.3C315.2 674.1 313.3 672.3 312.8 671.9C312.2 671.5 310.3 669.8 309.7 669.6C309.0 669.3 306.3 668.8 305.8 669.1C305.3 669.4 304.5 672.2 304.0 672.6C303.5 672.9 300.7 672.3 300.1 672.5C299.5 672.8 297.4 674.6 297.3 675.2C297.1 675.8 298.1 678.3 298.2 679.0C298.3 679.7 298.2 682.2 298.2 682.9C298.2 683.6 298.2 686.1 298.3 686.8C298.5 687.5 299.4 690.2 299.9 690.4C300.3 690.6 302.9 689.2 303.5 689.2C304.2 689.1 306.8 689.7 307.3 690.1C307.9 690.5 308.9 693.4 309.3 693.4C309.8 693.5 311.6 691.1 311.9 690.5C312.2 689.9 312.4 687.3 312.6 686.7C312.8 686.0 313.5 683.5 313.9 683.0C314.4 682.5 316.7 681.3 317.4 681.3C318.1 681.2 320.9 681.9 321.2 682.0"/>
<path class="trk" stroke="#9467bd" d="M338.3 696.0C338.1 696.3 336.2 698.5 335.6 698.8C335.0 699.1 332.4 699.0 331.8 699.3C331.2 699.6 329.6 701.7 329.2 702.2C328.7 702.7 326.4 704.7 326.5 705.0C326.6 705.4 329.6 705.9 330.3 705.8C331.0 705.7 333.2 704.5 333.8 704.1C334.4 703.8 336.6 702.4 337.3 702.4C337.9 702.4 340.1 704.2 340.7 704.2C341.3 704.1 343.2 701.9 343.8 701.8C344.4 701.6 347.1 702.7 347.7 702.4C348.2 702.2 349.7 699.6 349.6 699.0C349.5 698.5 347.0 697.1 346.6 696.5C346.2 696.0 345.3 693.6 344.9 693.0C344.6 692.4 343.1 690.4 342.7 689.8C342.4 689.2 340.8 687.0 340.8 686.4C340.8 685.7 342.4 683.6 342.7 682.9C342.9 682.3 343.4 679.6 343.1 679.1C342.9 678.5 340.4 677.0 339.8 677.0C339.2 677.0 336.8 678.4 336.5 679.0C336.2 679.5 336.9 682.1 336.9 682.9C336.9 683.6 336.3 686.0 336.4 686.7C336.4 687.4 337.2 689.8 337.4 690.5C337.5 691.2 338.2 693.6 338.4 694.3C338.6 695.0 339.2 697.4 339.2 698.1C339.2 698.8 338.4 701.2 338.3 701.9C338.1 702.6 338.1 705.3 337.7 705.7C337.2 706.2 334.6 706.7 333.9 706.7C333.2 706.6 330.8 705.7 330.2 705.3C329.6 705.0 327.9 703.2 327.5 702.6C327.0 702.0 325.9 699.4 325.7 699.1"/>
<path class="trk" stroke="#ff7f0e" d="M243.3 706.2C242.9 706.4 240.4 707.7 239.8 708.0C239.2 708.4 237.1 709.8 236.5 710.0C235.8 710.2 233.3 710.1 232.6 710.1C231.8 710.1 229.1 710.6 228.7 710.2C228.2 709.9 227.8 706.9 228.1 706.4C228.3 705.8 230.8 704.6 231.4 704.4C232.1 704.1 234.6 703.6 235.3 703.7C236.0 703.8 238.2 704.9 238.9 705.1C239.6 705.4 241.9 706.1 242.6 706.4C243.2 706.8 245.1 708.4 245.7 708.8C246.3 709.1 248.8 709.8 249.3 710.2C249.9 710.6 251.3 712.8 251.8 713.2C252.4 713.7 254.6 714.8 255.3 715.1C255.9 715.3 258.4 715.9 259.0 716.3C259.6 716.6 261.5 718.2 262.0 718.7C262.5 719.2 264.1 721.7 264.5 721.7C265.0 721.7 266.8 719.3 266.9 718.6C267.0 718.0 265.9 715.6 265.5 715.0C265.1 714.4 263.2 712.5 262.6 712.4C262.0 712.3 259.6 713.6 259.0 713.9C258.4 714.3 256.4 715.8 255.8 716.2C255.2 716.6 253.0 717.7 252.4 718.1C251.8 718.4 249.5 719.8 249.3 720.4C249.0 720.9 249.3 723.7 249.6 724.3C249.9 724.9 252.1 726.3 252.5 726.9C252.8 727.5 253.2 730.1 253.5 730.7C253.8 731.3 256.1 733.5 255.9 733.7C255.8 733.9 252.7 733.4 252.1 733.0C251.6 732.6 250.5 730.1 250.0 729.7C249.4 729.4 246.7 729.8 246.1 729.6C245.4 729.4 243.2 728.1 242.6 727.8C241.9 727.5 239.5 726.4 238.9 726.5C238.3 726.6 236.4 728.7 235.7 728.8C235.1 728.9 232.4 728.2 232.0 727.8C231.6 727.3 231.3 724.7 231.2 724.0C231.1 723.2 230.7 720.8 230.8 720.1C230.9 719.4 232.0 717.0 232.5 716.6C233.0 716.1 235.4 714.9 236.0 714.9C236.7 714.8 239.2 715.7 239.7 716.1C240.3 716.5 241.9 718.5 242.1 719.1C242.3 719.8 242.1 722.3 242.1 723.0C242.0 723.8 241.8 726.2 241.9 726.9C242.0 727.6 242.7 730.0 242.9 730.7C243.1 731.4 243.3 734.3 243.7 734.5C244.2 734.7 246.8 733.5 247.4 733.1C247.9 732.7 249.9 730.9 250.1 730.2C250.3 729.6 249.3 727.0 249.5 726.4C249.8 725.8 251.8 723.9 252.4 723.7C253.0 723.6 255.7 724.5 256.3 724.3C256.9 724.0 258.4 721.9 258.9 721.3C259.4 720.8 261.0 718.9 261.5 718.4C262.0 717.9 264.0 716.5 264.5 715.9C265.0 715.4 266.7 713.5 266.9 712.9C267.0 712.2 266.4 709.6 266.0 709.0C265.6 708.5 263.4 707.1 262.8 706.9C262.1 706.6 259.6 706.5 258.9 706.3C258.3 706.1 256.0 705.0 255.5 704.5C254.9 704.1 253.5 701.9 252.9 701.6C252.3 701.3 249.6 701.7 249.0 701.5C248.3 701.3 246.4 699.6 245.8 699.3C245.1 699.1 242.6 699.1 241.9 699.0C241.2 698.9 238.8 698.3 238.1 698.2C237.4 698.1 234.7 697.4 234.2 697.7C233.7 698.0 232.6 700.5 232.4 701.2C232.3 701.8 232.5 704.5 232.2 705.1C231.9 705.6 229.3 706.7 229.0 707.2C228.6 707.8 228.4 710.5 228.6 711.1C228.8 711.8 230.8 713.6 231.0 714.2C231.2 714.9 231.0 717.4 230.9 718.1C230.8 718.8 229.6 721.2 229.7 721.8C229.8 722.4 231.4 724.6 232.0 725.0C232.5 725.3 235.0 726.0 235.7 726.1C236.4 726.1 238.9 725.5 239.6 725.4C240.3 725.4 242.8 725.4 243.5 725.5C244.2 725.7 246.5 726.6 247.1 726.9C247.8 727.2 249.8 728.6 250.5 728.9C251.1 729.2 253.6 729.9 254.1 730.4C254.6 730.8 256.1 733.5 256.0 733.8C255.8 734.1 252.6 734.1 252.1 733.9C251.5 733.6 249.9 731.1 249.7 730.8"/>
<path class="trk" stroke="#ff7f0e" d="M242.6 745.0C242.8 744.7 244.2 742.2 244.5 741.6C244.7 740.9 245.5 738.4 245.4 737.8C245.2 737.1 243.5 734.8 243.0 734.7C242.5 734.6 240.3 736.5 239.6 736.7C239.0 736.9 236.4 736.4 235.7 736.6C235.1 736.8 233.1 738.4 232.4 738.7C231.8 739.0 229.4 739.7 228.7 739.7C228.0 739.7 225.5 738.3 225.0 738.5C224.4 738.7 223.0 741.2 223.0 741.9C223.0 742.5 224.0 745.0 224.5 745.5C224.9 746.0 227.8 746.6 228.0 747.1C228.3 747.6 227.1 750.2 227.1 750.9C227.1 751.6 227.7 754.0 227.8 754.7C227.9 755.5 227.6 758.2 228.0 758.6C228.3 759.1 231.4 759.2 231.7 759.6C232.1 760.0 231.7 763.2 232.1 763.5C232.5 763.8 235.3 763.1 235.9 762.9C236.6 762.7 239.1 761.9 239.5 761.4C240.0 760.9 241.0 758.5 241.0 757.8C241.0 757.1 239.8 754.8 239.5 754.2C239.1 753.6 237.5 751.7 237.0 751.2C236.6 750.6 235.1 748.6 234.7 748.1C234.2 747.6 232.4 745.9 231.8 745.4C231.3 744.9 229.3 743.4 228.8 742.9C228.4 742.4 226.8 740.1 226.8 739.6C226.8 739.0 228.6 736.8 229.1 736.4C229.7 736.0 232.3 735.8 232.9 735.4C233.5 735.1 235.2 733.0 235.8 732.8C236.4 732.7 239.0 733.4 239.6 733.7C240.2 734.0 242.2 735.6 242.8 736.0C243.3 736.5 245.2 738.1 245.7 738.6C246.2 739.1 247.8 741.0 248.4 741.4C248.9 741.9 251.6 743.4 251.8 743.2C252.0 743.0 251.0 740.0 250.6 739.5C250.2 739.0 247.7 738.1 247.1 737.9C246.4 737.6 243.8 737.3 243.3 736.8C242.8 736.4 242.3 733.6 241.8 733.3C241.3 732.9 238.5 732.9 237.9 733.1C237.2 733.4 235.6 735.4 235.0 735.8C234.4 736.2 232.0 736.9 231.4 737.4C230.9 737.8 229.3 739.9 229.1 740.5C228.9 741.1 229.1 743.7 229.2 744.4C229.3 745.1 230.4 747.4 230.6 748.0C230.8 748.7 231.2 751.2 231.5 751.8C231.9 752.4 233.6 754.3 234.2 754.7C234.8 755.0 237.3 755.4 238.0 755.5C238.7 755.5 241.2 755.0 241.9 755.0C242.6 754.9 245.3 754.7 245.8 755.0C246.3 755.4 247.0 758.4 247.4 758.6C247.9 758.7 250.5 756.9 250.8 756.7"/>
<path class="trk" stroke="#ff7f0e" d="M261.3 741.6C261.0 741.4 258.4 740.3 257.8 740.0C257.1 739.7 254.9 738.6 254.3 738.2C253.7 737.8 252.1 735.6 251.5 735.5C250.9 735.4 248.3 736.3 247.8 736.7C247.3 737.1 246.2 739.4 245.9 740.1C245.5 740.7 244.0 743.0 244.1 743.5C244.2 744.1 246.3 746.0 246.9 746.3C247.5 746.6 250.1 746.9 250.8 746.8C251.4 746.7 253.6 745.3 254.3 745.3C255.0 745.2 257.7 745.5 258.2 745.9C258.6 746.3 259.5 748.9 259.7 749.5C259.8 750.2 259.8 753.2 259.4 753.4C259.0 753.7 256.1 752.9 255.6 752.5C255.1 752.0 254.1 749.1 254.3 748.8C254.6 748.5 257.6 749.2 258.2 749.5C258.8 749.8 260.5 752.0 261.1 752.1C261.6 752.2 264.2 750.7 264.4 750.2C264.7 749.7 263.6 747.1 263.3 746.4C263.1 745.8 262.0 743.5 261.7 742.9C261.4 742.3 260.2 740.1 259.7 739.5C259.3 739.0 257.1 737.6 256.8 737.0C256.4 736.4 255.6 733.8 255.8 733.2C256.0 732.7 258.3 730.9 258.9 730.8C259.5 730.7 261.9 732.0 262.6 732.2C263.3 732.3 265.8 732.4 266.5 732.6C267.1 732.7 269.4 733.7 270.1 734.0C270.7 734.3 273.2 735.4 273.5 735.9C273.8 736.4 274.1 739.3 273.8 739.8C273.5 740.3 270.8 741.0 270.2 741.4C269.6 741.8 267.7 743.4 267.3 744.0C266.9 744.6 266.3 747.0 266.1 747.7C265.9 748.4 266.0 751.1 265.6 751.6C265.2 752.0 262.4 752.5 261.8 752.3C261.2 752.2 258.8 750.6 258.6 750.1C258.4 749.5 259.4 746.9 259.6 746.3C259.9 745.6 261.3 743.6 261.7 743.0C262.1 742.4 263.5 740.1 264.0 739.9C264.6 739.6 267.2 740.2 267.9 740.5C268.5 740.7 271.2 742.2 271.2 742.6C271.1 743.0 268.0 744.2 267.7 744.3"/>
<path class="trk" stroke="#8c564b" d="M266.2 722.8C266.5 723.0 269.0 724.4 269.6 724.8C270.2 725.2 272.5 726.3 272.9 726.8C273.4 727.3 274.5 729.9 274.3 730.4C274.2 731.0 271.5 732.0 271.1 732.5C270.7 733.1 270.5 736.2 270.1 736.3C269.7 736.5 267.4 734.5 266.9 734.0C266.4 733.6 264.2 731.7 264.2 731.2C264.2 730.7 266.6 729.1 267.0 728.5C267.4 727.9 268.1 725.4 268.6 725.0C269.1 724.5 271.6 723.5 272.2 723.5C272.9 723.6 275.0 725.2 275.7 725.4C276.4 725.6 279.5 725.5 279.6 725.7C279.7 726.0 277.2 727.9 276.6 728.3C276.0 728.7 273.7 730.1 273.1 730.0C272.5 729.9 270.7 727.8 270.3 727.3C269.9 726.7 269.1 724.2 268.7 723.7C268.3 723.1 266.3 721.6 265.7 721.2C265.1 720.8 262.7 720.0 262.2 719.6C261.6 719.2 259.7 717.3 259.6 716.7C259.5 716.1 261.3 713.6 261.2 713.1C261.0 712.5 258.6 710.4 258.2 710.5C257.8 710.6 257.2 713.6 257.1 714.3C257.0 715.0 256.7 717.8 257.0 718.2C257.4 718.5 260.3 718.5 260.9 718.2C261.5 718.0 263.1 715.9 263.5 715.3C263.8 714.7 264.3 712.1 264.7 711.6C265.2 711.1 267.5 709.7 268.2 709.7C268.8 709.7 271.1 711.3 271.4 711.9C271.7 712.5 271.4 715.1 271.5 715.8C271.5 716.5 272.1 718.9 272.1 719.6C272.1 720.4 271.2 723.1 271.5 723.5C271.8 723.9 274.7 724.2 275.4 724.3C276.1 724.3 279.0 724.6 279.3 724.3C279.5 723.9 278.4 721.1 278.1 720.5C277.7 720.0 275.9 718.1 275.2 717.8C274.6 717.6 272.1 718.1 271.3 718.1C270.6 718.1 268.2 718.1 267.5 718.0C266.7 717.9 264.3 717.3 263.6 717.2C262.9 717.1 260.4 717.0 259.7 717.0C259.0 717.0 256.2 717.0 255.8 717.0"/>
<path class="trk" stroke="#8c564b" d="M265.4 677.3C265.7 677.3 268.6 677.3 269.3 677.5C269.9 677.6 272.7 679.3 272.8 679.2C272.9 679.1 271.0 676.5 270.5 676.0C270.0 675.6 267.6 674.6 267.0 674.2C266.5 673.8 264.7 672.1 264.2 671.5C263.8 670.9 262.8 668.2 262.3 668.1C261.9 668.0 259.7 670.0 259.2 670.5C258.8 671.0 257.4 673.1 257.0 673.7C256.6 674.3 255.6 676.5 255.2 677.2C254.9 677.8 253.8 680.2 253.3 680.6C252.8 680.9 249.7 681.7 249.5 681.4C249.3 681.1 250.4 678.3 250.7 677.7C251.1 677.1 252.5 674.9 253.1 674.6C253.7 674.3 256.2 674.1 256.9 674.0C257.6 673.8 260.2 673.5 260.8 673.1C261.4 672.8 263.0 670.3 263.5 670.3C263.9 670.4 265.6 672.8 265.9 673.4C266.2 674.0 266.6 676.6 267.0 677.1C267.4 677.6 270.0 678.5 270.4 679.0C270.8 679.5 271.4 682.8 271.5 682.8C271.6 682.7 271.7 679.3 271.3 678.9C271.0 678.5 268.2 678.2 267.5 678.3C266.8 678.4 264.8 680.2 264.1 680.3C263.5 680.3 261.1 679.2 260.4 679.2C259.7 679.2 257.0 680.2 256.6 680.3"/>
<path class="trk" stroke="#8c564b" d="M284.5 740.3C284.5 740.6 284.5 743.4 284.6 744.2C284.6 744.9 284.6 747.3 284.6 748.1C284.7 748.8 285.0 751.2 285.2 751.9C285.4 752.6 286.4 754.9 286.7 755.5C287.0 756.2 287.7 759.0 288.1 759.2C288.6 759.3 291.1 757.7 291.5 757.2C291.9 756.6 292.4 754.0 292.3 753.3C292.1 752.7 290.1 751.0 289.6 750.5C289.1 750.0 287.7 747.8 287.1 747.5C286.6 747.1 283.7 747.1 283.3 746.6C282.9 746.2 283.2 743.2 282.8 742.8C282.4 742.4 279.6 742.8 278.9 742.5C278.3 742.3 275.9 740.8 275.8 740.2C275.6 739.7 277.0 737.0 277.5 736.7C278.0 736.5 280.6 737.7 281.3 737.8C282.0 738.0 284.5 738.1 285.2 737.9C285.8 737.8 288.0 736.4 288.6 736.1C289.3 735.9 291.8 734.8 292.4 735.0C292.9 735.2 294.4 737.5 294.7 738.2C294.9 738.8 295.1 741.3 295.1 742.0C295.2 742.8 294.9 745.5 295.3 745.9C295.7 746.4 298.8 746.8 299.0 747.2C299.2 747.7 298.0 750.4 297.5 750.8C297.0 751.2 294.3 751.4 293.7 751.6C293.0 751.8 290.9 753.3 290.2 753.4C289.5 753.4 287.1 752.2 286.4 752.4C285.8 752.5 283.9 754.5 283.2 754.6C282.6 754.7 280.2 753.6 279.6 753.2C279.0 752.9 277.5 750.8 277.0 750.4C276.4 749.9 274.0 748.4 273.7 748.2"/>
<path class="trk" stroke="#7f7f7f" d="M287.2 742.0C287.5 741.8 289.6 739.6 290.2 739.5C290.8 739.5 293.0 741.1 293.6 741.5C294.2 741.8 296.5 742.8 297.2 743.0C297.9 743.2 300.3 743.7 301.0 744.0C301.6 744.3 303.3 746.6 303.9 746.6C304.4 746.6 306.6 744.6 306.8 744.0C306.9 743.4 305.8 740.9 305.8 740.2C305.8 739.5 307.2 737.2 307.2 736.5C307.1 735.9 305.4 733.9 305.0 733.3C304.5 732.7 302.9 730.9 302.3 730.5C301.7 730.1 299.2 729.0 298.6 729.1C298.0 729.2 295.9 731.1 295.7 731.7C295.5 732.3 296.5 734.8 296.7 735.5C296.9 736.2 297.5 738.7 298.0 739.2C298.4 739.6 300.9 740.7 301.6 740.7C302.2 740.7 304.5 739.4 305.1 739.2C305.8 739.0 308.8 738.3 309.0 738.6C309.2 738.9 308.0 741.7 307.5 742.2C307.1 742.7 304.9 744.0 304.2 744.2C303.6 744.5 301.0 744.9 300.3 744.7C299.7 744.5 298.1 742.5 297.5 742.0C296.9 741.6 294.7 740.3 294.3 739.8C293.9 739.2 293.2 736.7 293.2 736.1C293.1 735.4 293.9 732.9 293.9 732.2C293.9 731.5 293.3 729.1 293.2 728.4C293.2 727.7 293.2 725.2 293.4 724.5C293.5 723.8 294.5 721.0 294.9 720.9C295.3 720.8 297.8 722.5 298.1 723.1C298.4 723.7 298.2 726.3 298.0 727.0C297.9 727.7 296.8 730.0 296.7 730.7C296.5 731.3 296.6 733.8 296.5 734.6C296.5 735.3 296.6 737.7 296.5 738.5C296.5 739.2 296.1 741.6 296.0 742.3C296.0 743.0 296.2 745.6 296.0 746.2C295.8 746.9 294.5 749.2 294.0 749.6C293.4 749.9 290.8 749.7 290.1 749.6C289.3 749.6 286.7 749.6 286.2 749.2C285.7 748.9 285.3 746.1 284.9 745.5C284.5 745.0 282.4 743.6 281.7 743.3C281.1 742.9 278.5 742.0 278.1 741.8"/>
<path class="trk" stroke="#7f7f7f" d="M331.5 774.3C331.6 774.6 332.8 777.2 333.2 777.8C333.5 778.4 335.0 780.4 335.3 781.0C335.6 781.7 336.4 784.5 336.8 784.6C337.2 784.7 339.3 782.6 339.8 782.1C340.3 781.6 342.2 779.8 342.4 779.2C342.7 778.6 342.5 775.8 342.2 775.3C341.8 774.8 339.2 774.2 338.5 773.9C337.9 773.7 335.0 773.0 334.9 772.6C334.7 772.1 336.7 769.9 336.9 769.2C337.0 768.5 337.2 765.6 336.9 765.3C336.5 765.0 333.8 766.2 333.1 766.1C332.4 766.1 330.2 764.5 329.5 764.5C328.9 764.5 326.0 765.3 325.8 765.7C325.6 766.1 327.6 768.7 327.5 769.2C327.3 769.8 324.8 771.0 324.2 771.3C323.5 771.6 320.8 772.0 320.5 772.5C320.1 773.0 319.9 775.7 320.0 776.4C320.2 777.0 321.5 779.5 322.1 779.7C322.6 780.0 325.3 779.6 325.9 779.3C326.5 779.0 328.1 776.8 328.7 776.5C329.3 776.2 331.8 775.9 332.5 775.6C333.2 775.4 335.4 774.4 336.1 774.2C336.8 773.9 339.1 773.3 339.8 773.0C340.5 772.7 343.0 771.1 343.3 771.3C343.6 771.5 343.3 774.6 343.1 775.2C342.8 775.8 340.9 777.5 340.5 778.1C340.1 778.7 339.2 781.0 339.0 781.7C338.7 782.4 338.2 785.0 337.7 785.4C337.2 785.8 334.5 785.9 333.8 785.8C333.2 785.7 331.0 784.2 330.3 784.1C329.7 784.0 327.2 784.9 326.5 784.8C325.8 784.8 323.2 783.9 322.9 783.4C322.5 782.9 323.3 780.0 323.0 779.5C322.7 779.0 319.8 777.5 319.6 777.6C319.4 777.8 321.1 780.8 321.3 781.1"/>
<path class="trk" stroke="#7f7f7f" d="M279.0 788.4C279.3 788.3 282.1 787.7 282.8 787.6C283.5 787.6 286.0 787.6 286.7 787.7C287.4 787.8 289.9 788.4 290.5 788.8C291.0 789.2 292.5 791.4 292.6 792.1C292.6 792.7 291.6 795.4 291.1 795.7C290.6 796.0 287.8 795.7 287.2 795.5C286.5 795.3 284.1 793.9 283.9 793.4C283.7 792.8 284.8 790.3 284.9 789.6C285.0 788.9 285.0 786.4 285.0 785.7C285.0 785.0 284.8 782.0 285.1 781.8C285.5 781.6 288.1 783.3 288.5 783.8C288.9 784.3 289.9 786.9 289.8 787.5C289.6 788.1 287.4 789.7 286.8 790.0C286.2 790.3 283.6 790.5 282.9 790.5C282.2 790.6 279.6 790.2 279.0 790.5C278.5 790.8 276.9 793.1 276.9 793.7C276.8 794.3 278.2 797.0 278.7 797.2C279.2 797.3 281.6 795.0 282.0 795.2C282.5 795.3 283.4 798.0 283.7 798.7C283.9 799.4 284.5 802.3 284.9 802.4C285.2 802.5 287.4 800.3 287.6 799.7C287.9 799.1 287.5 796.5 287.2 795.8C287.0 795.2 285.7 793.0 285.3 792.5C284.8 791.9 282.8 790.3 282.2 790.0C281.6 789.8 278.7 789.6 278.3 789.6"/>
<path class="trk" stroke="#7f7f7f" d="M318.3 703.0C318.1 702.7 315.9 700.8 315.5 700.3C315.1 699.7 314.1 697.3 313.6 696.9C313.1 696.4 310.6 695.1 310.0 695.3C309.5 695.4 307.8 697.8 307.7 698.5C307.6 699.1 308.8 701.5 308.8 702.2C308.8 702.9 307.5 705.3 307.6 705.9C307.8 706.5 309.7 708.5 310.3 708.7C310.9 709.0 313.5 708.8 314.2 708.8C314.9 708.8 317.4 709.0 318.1 709.1C318.8 709.2 321.2 709.8 321.9 709.9C322.6 710.1 325.2 711.1 325.7 710.8C326.2 710.6 326.9 707.9 327.0 707.2C327.1 706.5 326.8 704.0 326.7 703.3C326.7 702.6 326.2 700.1 326.2 699.4C326.3 698.7 327.3 696.0 327.0 695.6C326.7 695.1 323.9 694.6 323.3 694.5C322.6 694.3 320.1 693.9 319.4 694.0C318.7 694.0 316.3 694.8 315.6 695.1C315.0 695.4 312.8 696.8 312.5 697.4C312.2 697.9 312.1 700.9 312.1 701.3"/>
<path class="trk" stroke="#17becf" d="M304.1 749.0C304.3 748.7 305.3 745.9 305.7 745.4C306.2 745.0 308.7 744.2 309.3 743.8C309.8 743.4 311.4 741.4 312.0 741.0C312.6 740.7 315.1 740.1 315.8 740.0C316.5 740.0 319.0 740.1 319.7 740.2C320.4 740.2 322.9 740.2 323.6 740.1C324.3 739.9 326.5 738.7 327.1 738.4C327.8 738.2 330.8 737.6 330.9 737.4C330.9 737.1 328.0 735.8 327.5 735.3C327.1 734.8 326.4 732.1 325.9 731.8C325.4 731.5 322.7 731.8 322.0 731.7C321.3 731.7 318.7 731.0 318.1 731.2C317.5 731.3 315.8 733.4 315.2 733.7C314.6 734.1 312.1 734.4 311.4 734.7C310.8 735.0 308.8 736.5 308.2 736.9C307.6 737.2 305.2 738.2 304.7 738.7C304.2 739.1 303.2 741.5 302.8 742.1C302.4 742.6 300.6 744.4 300.1 744.9C299.6 745.3 297.2 746.5 296.9 747.0C296.5 747.6 296.3 750.2 296.0 750.8C295.8 751.5 294.6 753.8 294.1 754.2C293.6 754.6 290.9 754.7 290.3 754.9C289.6 755.1 287.3 756.4 286.7 756.4C286.0 756.4 283.2 755.7 282.9 755.2C282.6 754.8 283.0 751.9 283.4 751.3C283.8 750.8 286.2 749.9 286.9 749.6C287.5 749.3 290.1 748.9 290.6 748.4C291.1 748.0 292.2 745.7 292.6 745.1C293.0 744.5 294.7 742.4 294.7 741.8C294.7 741.2 293.4 738.8 292.9 738.3C292.4 737.9 289.7 736.9 289.2 737.1C288.7 737.3 287.3 739.9 287.3 740.5C287.3 741.1 289.1 743.2 289.3 743.8C289.5 744.5 289.4 747.0 289.4 747.7C289.4 748.4 289.2 750.9 289.3 751.6C289.4 752.3 290.3 754.7 290.3 755.4C290.3 756.1 289.3 758.4 289.2 759.1C289.1 759.8 288.8 762.4 289.0 763.0C289.1 763.7 290.7 765.7 291.2 766.2C291.8 766.7 294.0 767.7 294.7 768.0C295.4 768.3 297.7 769.0 298.4 769.3C299.0 769.6 301.0 771.1 301.7 771.3C302.4 771.5 304.9 771.3 305.6 771.5C306.3 771.6 308.5 772.9 309.2 773.0C309.8 773.2 312.5 773.4 313.1 773.1C313.6 772.8 314.6 770.2 315.2 769.9C315.7 769.5 318.4 769.5 319.1 769.3C319.7 769.0 322.0 767.8 322.4 767.3C322.9 766.9 323.8 764.2 324.3 763.9C324.9 763.7 327.8 764.6 328.2 764.3C328.7 763.9 329.6 761.0 329.4 760.5C329.2 760.1 326.4 759.3 325.8 759.1C325.1 758.9 322.4 758.0 322.0 758.2C321.5 758.5 321.4 761.4 321.2 762.1C321.1 762.8 320.4 765.2 320.0 765.8C319.6 766.4 317.7 768.0 317.2 768.5C316.6 768.9 314.6 770.4 314.0 770.8C313.5 771.2 311.5 773.2 310.9 773.2C310.4 773.1 309.0 770.5 308.4 770.2C307.9 769.8 305.0 769.3 304.7 769.2"/>
<path class="trk" stroke="#17becf" d="M345.2 722.4C345.5 722.4 348.4 722.4 349.1 722.2C349.7 722.1 352.0 721.0 352.6 720.7C353.3 720.4 355.5 719.2 356.2 719.1C356.9 719.0 359.5 720.0 360.0 719.8C360.6 719.6 362.3 716.9 362.2 716.6C362.0 716.2 358.6 715.8 358.3 716.1C358.0 716.4 359.2 719.2 359.1 719.9C359.1 720.6 358.5 723.1 358.1 723.7C357.8 724.3 356.0 726.1 355.6 726.6C355.1 727.1 353.6 729.1 353.1 729.6C352.5 730.1 350.4 731.3 349.7 731.6C349.1 731.9 346.8 733.0 346.1 733.1C345.4 733.2 342.9 732.6 342.2 732.8C341.6 733.0 339.4 735.2 339.1 735.1C338.7 734.9 338.7 731.8 338.4 731.2C338.0 730.7 335.6 729.6 335.1 729.1C334.6 728.6 333.3 726.4 333.1 725.8C332.9 725.1 332.5 722.5 332.7 721.9C332.9 721.3 334.8 719.5 335.3 718.9C335.8 718.4 337.5 716.6 338.0 716.2C338.6 715.7 341.1 714.9 341.5 714.4C341.9 713.8 342.2 711.2 342.3 710.6C342.5 709.9 343.6 707.0 343.4 706.8C343.2 706.7 340.5 708.4 340.2 708.9C339.9 709.5 339.8 712.2 340.0 712.8C340.2 713.5 342.2 715.1 342.6 715.7C343.0 716.3 344.1 718.5 344.5 719.1C344.9 719.7 346.4 721.8 347.0 722.2C347.5 722.6 350.0 723.2 350.6 723.5C351.3 723.7 353.8 724.5 354.3 724.9C354.8 725.3 355.9 727.9 356.5 728.1C357.0 728.4 359.6 727.7 360.3 727.6C361.0 727.5 363.9 727.4 364.2 727.0C364.5 726.6 363.9 723.8 363.6 723.2C363.3 722.6 361.0 721.3 360.6 720.7C360.2 720.2 359.5 717.7 359.3 717.1C359.1 716.4 358.7 713.7 358.2 713.3C357.8 712.9 355.1 713.0 354.3 712.9C353.6 712.9 351.1 712.4 350.5 712.6C349.8 712.7 347.5 713.8 346.9 714.2C346.4 714.6 344.7 716.5 344.3 717.1C343.8 717.6 342.1 719.5 341.8 720.1C341.5 720.7 340.9 723.2 340.9 723.9C341.0 724.6 342.4 726.9 342.3 727.5C342.2 728.2 340.0 730.1 340.0 730.7C340.0 731.3 341.5 733.5 341.9 734.1C342.4 734.6 344.0 736.7 344.6 736.9C345.2 737.2 347.8 736.7 348.5 736.7C349.2 736.8 351.7 738.0 352.3 737.8C352.8 737.6 354.0 735.1 354.1 734.4C354.2 733.7 353.5 731.3 353.4 730.6C353.3 729.9 352.9 727.4 353.0 726.7C353.1 726.0 354.2 723.7 354.3 723.0C354.5 722.3 354.8 719.9 354.9 719.2C355.0 718.5 355.3 715.6 355.4 715.3"/>
<path class="trk" stroke="#17becf" d="M286.8 782.4C286.5 782.7 284.5 784.7 284.1 785.3C283.7 785.8 282.8 788.2 282.4 788.8C282.0 789.3 280.2 791.1 279.6 791.5C279.0 791.9 276.7 793.4 276.2 793.3C275.6 793.3 273.5 791.4 273.1 790.8C272.8 790.3 272.3 787.7 272.4 787.0C272.4 786.3 273.7 784.0 273.6 783.3C273.5 782.7 271.5 780.7 271.5 780.1C271.5 779.5 273.3 777.4 273.9 777.0C274.5 776.6 277.0 776.2 277.6 775.8C278.1 775.4 279.4 773.2 279.9 772.6C280.4 772.1 282.3 770.4 282.8 770.1C283.4 769.7 285.7 768.4 286.4 768.4C287.0 768.3 289.8 769.1 290.1 769.6C290.3 770.0 289.5 772.7 289.3 773.4C289.1 774.1 288.0 776.3 287.8 777.0C287.7 777.7 287.7 780.2 287.6 780.9C287.5 781.6 286.6 783.9 286.5 784.6C286.4 785.3 286.7 787.9 286.5 788.5C286.3 789.2 285.0 791.4 284.6 791.9C284.1 792.4 282.0 793.8 281.5 794.3C280.9 794.7 279.1 797.0 278.6 797.0C278.1 796.9 276.1 794.7 276.0 794.1C275.9 793.5 277.5 790.9 277.3 790.4C277.1 790.0 274.5 788.9 273.8 788.7C273.2 788.6 270.2 789.0 269.9 788.7C269.7 788.3 270.5 785.5 270.8 784.9C271.0 784.2 272.2 782.0 272.7 781.5C273.1 780.9 275.0 779.0 275.6 778.9C276.2 778.8 278.5 780.1 279.2 780.4C279.8 780.7 281.9 782.1 282.5 782.5C283.1 782.8 285.2 784.2 285.8 784.5C286.4 784.8 288.8 786.2 289.3 786.1C289.9 786.0 291.6 783.9 292.0 783.3C292.4 782.7 293.7 780.2 293.9 779.9"/>
<path class="trk" stroke="#17becf" d="M214.6 749.1C214.3 749.3 212.0 750.9 211.5 751.4C211.1 752.0 210.0 754.2 209.7 754.9C209.3 755.5 208.2 757.7 208.0 758.4C207.8 759.1 207.1 761.7 207.4 762.2C207.6 762.8 210.1 764.2 210.7 764.3C211.4 764.4 214.2 763.8 214.5 763.4C214.8 762.9 214.1 760.2 214.0 759.5C213.8 758.8 212.7 756.5 212.6 755.8C212.5 755.1 213.1 752.7 213.0 752.0C212.9 751.3 211.7 748.9 211.8 748.2C211.9 747.6 213.9 745.9 214.4 745.3C214.9 744.8 216.5 742.9 217.0 742.4C217.5 741.9 219.2 740.2 219.8 739.7C220.3 739.2 222.2 737.6 222.7 737.1C223.2 736.6 225.4 734.5 225.2 734.2C225.1 733.9 222.1 733.9 221.4 733.8C220.6 733.7 218.0 733.0 217.5 733.3C217.0 733.6 216.3 736.3 216.0 736.9C215.7 737.6 214.7 739.8 214.3 740.4C213.9 741.0 212.3 743.2 211.7 743.4C211.2 743.5 208.5 742.4 208.1 741.9C207.8 741.5 208.0 738.8 208.1 738.0C208.1 737.3 208.8 734.9 209.1 734.3C209.3 733.6 210.4 731.1 210.9 730.9C211.5 730.6 214.2 731.1 214.8 731.4C215.4 731.7 217.2 733.6 217.6 734.2C217.9 734.8 218.3 737.3 218.4 738.0C218.5 738.7 218.8 741.2 218.8 741.9C218.7 742.6 218.3 745.1 218.0 745.7C217.8 746.3 216.2 748.3 215.7 748.8C215.2 749.3 213.0 750.5 212.5 751.0C211.9 751.4 210.2 753.3 209.6 753.6C209.0 754.0 206.4 754.5 205.9 755.0C205.5 755.4 204.8 758.1 204.8 758.7C204.9 759.4 206.4 761.9 206.5 762.2"/>
<path class="trk" stroke="#d62728" d="M245.4 738.3C245.4 738.0 246.0 735.0 246.4 734.6C246.8 734.1 249.3 732.9 250.0 733.0C250.6 733.1 252.5 735.2 253.1 735.3C253.7 735.4 256.2 734.5 256.9 734.4C257.6 734.4 260.2 734.6 260.8 734.9C261.3 735.2 262.5 737.7 263.0 738.1C263.6 738.5 265.9 739.5 266.6 739.6C267.3 739.8 270.1 739.0 270.5 739.3C270.8 739.6 270.6 742.6 270.4 743.2C270.2 743.9 268.3 746.0 268.4 746.5C268.4 747.1 271.3 748.6 271.3 749.1C271.3 749.6 269.0 751.4 268.4 751.8C267.8 752.1 265.4 752.8 264.8 753.2C264.2 753.6 262.4 755.3 262.0 755.9C261.5 756.5 260.5 759.1 260.0 759.3C259.5 759.5 256.8 758.5 256.2 758.1C255.7 757.7 254.7 755.3 254.5 754.7C254.2 754.0 253.9 751.5 253.7 750.8C253.5 750.1 253.1 747.6 252.7 747.1C252.3 746.5 249.9 745.2 249.6 744.7C249.3 744.1 249.6 741.3 249.2 740.8C248.9 740.3 246.2 739.5 245.5 739.6C244.9 739.7 242.8 741.3 242.2 741.7C241.7 742.2 240.3 744.3 239.8 744.8C239.3 745.3 237.5 747.0 236.9 747.4C236.4 747.9 234.2 749.7 233.7 749.6C233.3 749.5 232.0 746.8 232.0 746.1C231.9 745.5 232.8 743.0 233.2 742.4C233.6 741.9 235.8 740.1 236.4 740.1C237.0 740.1 238.9 742.1 239.5 742.5C240.0 743.0 241.9 744.6 242.6 744.9C243.2 745.2 245.6 746.0 246.2 746.2C246.9 746.4 249.4 746.5 250.1 746.7C250.8 747.0 252.8 748.4 253.4 748.8C254.0 749.2 256.2 750.4 256.8 750.8C257.4 751.2 259.3 752.8 259.9 753.1C260.6 753.3 263.1 753.4 263.8 753.4C264.5 753.5 267.3 753.8 267.7 753.5C268.2 753.1 268.7 750.4 268.8 749.7C268.8 749.0 268.3 746.5 268.3 745.8C268.2 745.1 268.2 742.6 268.2 741.9C268.2 741.2 268.3 738.7 268.6 738.1C268.9 737.4 271.4 735.8 271.4 735.4C271.4 734.9 269.1 733.1 268.5 732.8C267.8 732.6 264.9 732.5 264.6 732.5"/>
<path class="trk" stroke="#d62728" d="M327.5 758.4C327.8 758.4 330.7 758.8 331.4 758.6C332.0 758.3 334.1 756.6 334.3 756.0C334.5 755.4 333.5 752.7 333.7 752.1C334.0 751.6 336.5 750.5 337.0 750.0C337.5 749.5 338.5 747.2 339.0 746.6C339.4 746.1 341.1 744.1 341.7 743.8C342.3 743.5 345.0 742.8 345.5 743.1C346.0 743.3 347.1 745.9 347.2 746.6C347.3 747.3 346.7 749.8 346.4 750.4C346.2 751.1 344.4 753.0 344.2 753.6C344.1 754.3 344.7 756.9 345.1 757.4C345.5 758.0 347.6 759.4 348.2 759.8C348.7 760.3 350.6 761.9 351.2 762.2C351.8 762.6 354.7 763.3 354.8 763.8C355.0 764.2 353.2 766.6 352.7 767.0C352.1 767.4 349.3 767.6 348.9 768.0C348.5 768.5 348.5 771.2 348.2 771.8C347.8 772.5 346.1 774.4 345.5 774.7C344.9 774.9 342.1 773.8 341.6 774.1C341.1 774.4 340.0 777.4 340.3 777.7C340.5 778.1 343.7 777.8 344.2 777.4C344.6 777.0 345.1 774.3 345.2 773.6C345.3 772.9 345.4 770.4 345.7 769.8C346.0 769.1 347.6 767.2 348.1 766.7C348.6 766.1 350.4 764.3 351.0 764.1C351.7 763.9 354.7 764.6 354.9 764.2C355.2 763.9 354.3 761.0 353.9 760.5C353.4 760.0 351.0 758.9 350.3 758.8C349.7 758.6 347.1 759.1 346.4 759.0C345.8 758.9 343.5 757.9 342.8 757.6C342.1 757.4 339.5 756.7 339.2 756.2C338.8 755.7 339.2 752.9 338.9 752.3C338.6 751.8 336.3 750.3 335.7 750.1C335.0 749.9 332.5 749.8 331.8 749.7C331.1 749.6 328.8 748.6 328.1 748.6C327.4 748.5 324.9 749.3 324.2 749.2C323.5 749.2 321.1 748.7 320.4 748.5C319.8 748.2 317.1 746.8 317.1 746.5C317.1 746.1 319.9 744.9 320.5 744.6C321.2 744.4 323.6 743.9 324.3 743.7C325.0 743.5 327.3 742.4 328.0 742.4C328.7 742.4 331.1 743.4 331.8 743.4C332.4 743.3 334.7 741.7 335.3 741.7C335.9 741.8 338.2 743.4 338.5 744.0C338.8 744.5 338.9 747.5 338.9 747.9"/>
<path class="trk" stroke="#d62728" d="M284.5 803.3C284.6 803.0 285.7 800.3 285.8 799.6C285.8 798.9 285.3 796.4 285.5 795.7C285.7 795.1 287.7 793.4 288.1 792.8C288.5 792.2 289.6 789.7 290.1 789.5C290.7 789.3 293.2 790.2 293.9 790.4C294.6 790.7 297.1 791.4 297.5 791.9C297.9 792.4 298.0 795.1 298.2 795.8C298.4 796.5 299.3 798.9 299.7 799.4C300.2 799.9 302.7 800.8 303.1 801.3C303.5 801.8 304.2 804.3 304.4 805.0C304.5 805.7 305.2 808.1 305.1 808.8C305.0 809.5 303.8 811.7 303.5 812.4C303.1 813.0 301.8 815.5 301.3 815.6C300.8 815.8 298.2 814.5 297.8 814.0C297.4 813.5 297.3 810.8 297.2 810.1C297.2 809.4 297.1 806.9 297.0 806.2C296.9 805.5 296.4 803.1 296.3 802.4C296.2 801.7 296.1 799.2 296.0 798.5C295.9 797.8 295.6 795.3 295.4 794.6C295.2 793.9 294.6 791.4 294.1 791.0C293.6 790.6 290.9 790.2 290.3 790.2C289.6 790.3 287.1 791.0 286.5 791.4C285.9 791.7 284.3 793.7 283.8 794.1C283.2 794.5 280.9 795.6 280.3 795.9C279.7 796.2 277.2 797.1 276.8 797.6C276.4 798.1 275.6 800.6 275.5 801.3C275.5 802.0 276.3 804.4 276.6 805.1C276.9 805.7 278.9 807.7 278.9 808.2C278.9 808.8 277.1 811.5 276.7 811.5C276.4 811.5 274.9 808.8 274.7 808.2C274.5 807.5 274.2 804.9 274.4 804.3C274.6 803.7 276.2 801.5 276.8 801.2C277.3 800.9 279.9 801.2 280.7 801.1C281.4 801.1 283.9 800.9 284.5 800.6C285.2 800.3 287.4 798.5 287.7 798.3"/>
<path class="trk" stroke="#d62728" d="M305.5 774.6C305.7 774.8 307.8 776.8 308.5 777.1C309.1 777.4 311.6 777.6 312.3 777.7C313.0 777.8 315.6 778.6 316.2 778.4C316.7 778.2 318.5 776.1 318.7 775.4C318.9 774.8 318.3 772.3 318.0 771.6C317.8 770.9 316.5 768.8 316.1 768.2C315.8 767.6 314.5 765.4 314.0 765.0C313.4 764.5 310.9 763.7 310.3 763.7C309.6 763.7 307.3 764.8 306.7 765.2C306.1 765.6 303.9 767.1 303.6 767.7C303.4 768.2 303.9 770.9 304.2 771.5C304.5 772.2 306.4 773.9 306.6 774.6C306.9 775.2 307.0 777.7 307.1 778.4C307.2 779.1 308.0 782.0 307.7 782.3C307.5 782.5 304.7 781.4 304.0 781.1C303.4 780.8 301.1 779.6 300.7 779.1C300.3 778.6 299.6 776.1 299.5 775.4C299.4 774.7 299.4 772.0 299.1 771.5C298.7 771.0 295.7 770.4 295.5 769.9C295.2 769.5 295.9 766.7 296.2 766.1C296.5 765.5 298.3 763.7 298.8 763.2C299.2 762.6 300.6 760.5 301.1 760.1C301.7 759.6 304.2 759.0 304.7 758.6C305.3 758.1 306.6 755.6 307.1 755.5C307.6 755.3 310.0 756.7 310.6 757.1C311.2 757.5 312.8 759.5 313.4 759.8C314.0 760.2 316.6 760.5 317.2 760.9C317.8 761.2 319.7 763.1 319.8 763.7C320.0 764.3 319.1 766.8 318.9 767.5C318.7 768.2 318.1 771.0 318.1 771.3"/>
<path class="trk" stroke="#d62728" d="M112.4 552.0C112.3 553.0 110.8 561.1 110.7 562.8C110.7 564.6 112.0 569.8 111.8 571.1C111.6 572.4 108.2 576.5 108.7 576.9C109.1 577.3 115.3 575.1 117.0 575.3C118.7 575.4 125.7 577.7 127.3 578.4C129.0 579.0 133.2 582.3 134.6 582.5C136.0 582.8 141.4 581.1 142.9 581.1C144.4 581.1 150.1 582.2 151.2 582.5C152.3 582.9 155.0 584.4 155.4 584.6"/>
<path class="trk" stroke="#d62728" d="M134.6 582.5C133.8 582.7 126.5 584.0 126.3 584.6C126.1 585.2 131.9 587.5 132.5 588.8C133.2 590.0 134.2 597.0 133.6 598.1C132.9 599.2 126.9 600.5 125.3 601.2C123.7 601.9 116.9 604.3 115.9 605.4C114.9 606.4 114.3 611.2 114.5 612.6C114.7 614.0 117.2 619.4 118.0 620.9C118.8 622.4 122.5 627.9 123.2 629.2C123.9 630.5 125.2 634.1 125.3 635.4C125.4 636.8 123.9 642.5 124.2 643.7C124.5 645.0 127.0 648.1 128.4 648.9C129.8 649.8 137.8 652.6 139.8 653.1C141.8 653.5 148.3 653.5 150.2 654.1C152.1 654.7 158.4 658.2 160.5 659.3C162.6 660.3 170.9 664.3 173.0 665.5C175.1 666.8 181.6 671.5 183.4 672.8C185.1 674.0 190.7 677.5 191.7 679.0C192.6 680.5 193.0 687.5 193.7 689.4C194.5 691.3 198.8 698.2 200.0 699.8C201.1 701.3 205.2 704.5 206.2 706.0C207.1 707.5 209.4 714.8 210.3 716.3C211.3 717.9 215.4 721.4 216.6 722.6C217.7 723.7 221.6 727.7 222.8 728.8C223.9 729.9 227.9 734.0 229.0 735.0C230.1 736.0 234.7 739.5 235.2 740.0"/>
<path class="trk" stroke="#d62728" d="M233.2 714.3C232.2 714.5 224.5 715.6 222.8 716.3C221.1 717.1 215.5 721.2 214.5 722.6C213.4 723.9 211.4 729.3 211.4 730.9C211.4 732.5 214.2 739.2 214.5 740.0"/>
<path class="trk" stroke="#d62728" stroke-width="4.2" d="M190.0 676.2C190.3 677.0 192.8 683.4 193.7 684.9C194.6 686.4 198.8 691.1 200.0 692.4C201.1 693.6 205.4 697.3 206.2 698.6C207.0 699.8 208.0 704.7 208.7 706.1C209.4 707.4 212.6 712.3 213.7 713.5C214.7 714.8 218.8 718.5 219.9 719.8C220.9 721.0 223.7 726.0 224.9 727.2C226.0 728.5 231.0 732.4 232.3 733.4C233.7 734.5 238.3 737.7 239.8 738.4C241.3 739.1 246.9 740.6 248.5 740.9C250.1 741.3 255.9 741.4 257.2 742.2C258.6 743.0 262.2 748.4 263.4 749.6C264.7 750.9 269.7 754.8 270.9 755.9C272.2 756.9 276.6 760.4 277.1 760.8"/>
<path class="trk" stroke="#d62728" d="M236.1 713.5C235.3 713.6 228.9 714.4 227.3 714.8C225.7 715.1 219.9 716.6 218.6 717.3C217.4 717.9 214.3 721.1 213.7 722.2C213.0 723.4 211.9 728.3 211.8 729.7C211.7 731.1 212.4 736.5 212.4 737.2"/>
<path class="trk" stroke="#d62728" stroke-width="5" d="M243.5 734.7C244.3 734.7 250.6 734.6 252.2 734.7C253.8 734.8 259.8 735.5 261.0 735.9C262.1 736.4 263.2 738.9 264.7 739.7C266.2 740.5 275.1 744.3 277.1 744.7C279.2 745.0 286.2 743.5 287.1 743.4"/>
<path class="trk" stroke="#d62728" d="M228.6 769.5 L227.3 780.0"/>
<path class="trk" stroke="#d62728" stroke-width="4.5" d="M364.7 735.9C365.6 735.5 372.9 732.2 374.7 731.0C376.5 729.7 383.2 723.4 384.7 722.2C386.1 721.1 389.7 718.9 390.9 718.5C392.0 718.2 396.4 718.2 397.1 718.5C397.8 718.9 398.7 721.4 398.3 722.2C398.0 723.0 393.7 726.1 393.4 727.2C393.0 728.4 394.7 733.4 394.6 734.7C394.5 735.9 392.1 739.5 392.1 740.9C392.1 742.3 394.6 748.0 394.6 749.6C394.6 751.2 392.6 756.9 392.1 758.3C391.7 759.8 390.1 764.8 389.6 765.8C389.2 766.8 388.1 769.5 387.1 769.5C386.2 769.5 381.3 766.7 379.7 765.8C378.1 764.9 371.5 760.6 369.7 759.6C367.9 758.6 361.6 755.3 359.8 754.6C357.9 753.9 351.6 752.3 349.8 752.1C348.0 751.9 340.6 751.7 339.8 752.1C339.0 752.6 339.9 756.8 341.1 757.1C342.2 757.4 350.3 755.6 352.3 755.9C354.2 756.1 361.3 759.2 362.2 759.6"/>
<path class="trk" stroke="#d62728" stroke-width="5" d="M339.8 752.1C341.0 751.7 350.0 748.1 352.3 747.1C354.6 746.2 363.6 742.6 364.7 742.2"/>
<path class="trk" stroke="#d62728" stroke-width="5" d="M312.4 765.8C313.1 765.6 318.5 763.9 319.9 763.3C321.3 762.8 326.4 760.3 327.4 759.6C328.4 758.9 330.8 756.2 331.1 755.9"/>
<path class="trk" stroke="#d62728" stroke-width="5" d="M314.9 772.0 L322.4 769.5"/>
<path class="trk" stroke="#d62728" stroke-width="5" d="M342.3 769.5 L347.3 774.5"/>
<path class="trk" stroke="#d62728" d="M162.5 803.3C163.6 803.2 171.8 802.1 173.9 802.2C176.1 802.3 184.1 804.3 186.4 804.3C188.7 804.3 196.9 802.8 198.8 802.2C200.7 801.7 205.4 798.8 207.1 798.1C208.8 797.4 216.0 795.6 217.5 795.0C219.0 794.3 223.4 791.6 223.7 790.8C224.1 790.1 222.3 787.3 221.7 786.7C221.0 786.1 216.8 785.1 216.5 784.6C216.2 784.1 217.5 782.2 218.5 781.5C219.6 780.8 226.8 778.3 227.9 777.3C228.9 776.4 229.8 771.7 230.0 771.1"/>
<path class="trk" stroke="#d62728" d="M186.4 804.3C186.1 805.0 183.4 810.2 183.3 811.6C183.2 813.0 184.7 818.9 185.4 819.9C186.0 820.8 190.2 821.5 190.5 822.0C190.9 822.4 189.3 825.0 189.5 825.1C189.7 825.2 192.3 823.2 192.6 823.0"/>
<path class="trk" stroke="#d62728" stroke-width="5" d="M248.6 795.0C249.0 795.6 251.3 801.2 252.8 802.2C254.3 803.3 262.9 805.6 265.2 806.4C267.5 807.2 275.4 809.8 277.7 810.5C280.0 811.3 288.0 814.9 290.1 814.7C292.2 814.5 299.4 809.6 300.5 808.5C301.6 807.3 302.4 802.8 302.6 802.2"/>
<path class="trk" stroke="#d62728" stroke-width="6" d="M248.7 794.9C248.8 795.2 249.3 797.8 249.9 798.6C250.5 799.4 254.0 802.9 254.9 803.6C255.8 804.3 258.8 805.7 259.9 806.1C260.9 806.4 265.0 807.1 266.1 807.3C267.2 807.5 271.2 808.2 272.3 808.5C273.5 808.9 277.5 810.7 278.5 811.0C279.6 811.4 282.5 811.9 283.5 812.3C284.6 812.6 288.7 815.0 289.8 814.8C290.8 814.5 293.6 810.5 294.7 809.8C295.9 809.1 301.3 808.0 302.2 807.3C303.1 806.6 304.5 802.8 304.7 802.3"/>
<path class="trk" stroke="#d62728" stroke-width="9" d="M304.7 767.5C305.8 767.2 315.1 764.8 317.1 765.0C319.2 765.2 327.1 769.3 327.1 770.0C327.1 770.6 316.7 772.0 317.1 772.4C317.6 772.9 329.8 774.9 332.1 774.9C334.4 774.9 341.1 772.7 342.0 772.4"/>
<path class="trk" stroke="#d62728" d="M392.0 740.0C392.2 740.8 394.2 746.6 394.1 748.3C394.0 750.0 391.2 757.1 391.0 758.7C390.8 760.3 392.5 765.0 392.0 765.9C391.6 766.9 387.1 769.0 385.8 769.0C384.5 769.0 379.2 766.3 377.5 765.9C375.8 765.6 368.1 765.0 367.1 764.9"/>
<path class="trk" stroke="#d62728" stroke-width="5" d="M280.0 800.2C280.6 801.1 285.1 809.4 286.2 810.5C287.4 811.7 291.1 813.0 292.4 812.6C293.8 812.2 299.8 807.5 300.7 806.4C301.7 805.2 302.6 800.7 302.8 800.2"/>
<path class="trk" stroke="#d62728" stroke-width="5" d="M336.0 752.4C337.3 752.3 348.4 750.9 350.5 750.4C352.6 749.8 357.7 747.0 358.8 746.2C360.0 745.5 362.6 742.5 363.0 742.1"/>
<path class="trk" stroke="#d62728" d="M367.1 736.1C367.9 735.6 373.9 732.0 375.4 730.9C377.0 729.7 382.4 724.8 383.7 723.6C385.1 722.5 388.7 718.8 390.0 718.4C391.2 718.0 396.6 718.7 397.2 719.5C397.8 720.2 396.6 725.4 396.2 726.7C395.8 728.1 393.1 732.9 393.1 734.0C393.1 735.0 395.9 737.8 396.2 738.1"/>
<path class="trk" stroke="#8c564b" d="M292.4 562.8C293.1 563.0 299.3 563.9 299.7 564.9C300.1 565.8 296.5 572.0 296.6 573.2C296.7 574.4 299.6 577.9 300.7 578.4C301.9 578.9 307.3 578.9 309.0 578.4C310.8 577.9 317.3 574.2 319.4 573.2C321.5 572.2 330.7 567.9 331.9 567.4"/>
<path class="trk" stroke="#8c564b" d="M309.0 578.4C309.6 579.0 313.9 584.6 315.3 585.6C316.6 586.7 321.9 589.2 323.6 589.8C325.3 590.4 332.4 592.0 333.9 591.9C335.5 591.8 340.0 588.0 340.2 588.8C340.4 589.5 336.5 598.5 336.0 600.2C335.5 601.8 334.5 605.8 334.4 606.4"/>
<path class="trk" stroke="#8c564b" d="M292.4 562.8C292.7 564.0 294.8 573.2 295.6 575.3C296.3 577.4 299.7 583.7 300.7 585.6C301.8 587.5 305.8 594.1 307.0 596.0C308.1 597.9 312.4 604.3 313.2 606.4C314.0 608.5 314.9 616.7 315.3 618.8C315.7 620.9 317.0 627.3 317.3 629.2C317.7 631.1 318.9 637.7 319.4 639.6C319.9 641.5 322.2 648.1 322.5 650.0C322.9 651.9 323.8 658.7 323.6 660.3C323.4 661.9 321.6 667.2 320.5 667.6C319.3 668.0 312.9 664.0 311.1 664.5C309.3 665.0 302.6 671.3 300.7 672.8C298.8 674.3 291.9 679.2 290.4 681.1C288.9 683.0 284.9 691.2 284.1 693.5C283.4 695.8 282.5 704.3 282.1 706.0C281.7 707.7 280.2 711.6 280.0 712.2"/>
<path class="trk" stroke="#8c564b" d="M262.2 664.5C262.6 663.9 265.4 659.3 266.3 658.3C267.3 657.2 271.4 653.3 272.6 653.1C273.7 652.9 277.8 655.3 278.8 656.2C279.7 657.0 283.1 661.6 282.9 662.4C282.8 663.2 277.7 663.9 276.7 664.5C275.8 665.1 273.3 668.8 272.6 668.6C271.8 668.4 268.8 663.0 268.4 662.4"/>
<path class="trk" stroke="#8c564b" d="M258.0 668.6C257.9 669.4 255.6 675.8 256.0 676.9C256.4 678.1 261.2 680.3 262.2 681.1C263.2 681.8 266.0 684.8 266.3 685.2"/>
<path class="trk" stroke="#8c564b" d="M239.4 699.8C240.5 699.6 250.3 697.1 251.8 697.7C253.3 698.2 254.5 705.4 256.0 706.0C257.5 706.5 266.5 703.3 268.4 703.9C270.3 704.5 277.1 710.9 276.7 712.2C276.3 713.5 266.2 717.5 264.3 718.4C262.4 719.4 256.0 721.8 256.0 722.6C256.0 723.3 263.1 726.0 264.3 726.7C265.4 727.5 268.0 730.5 268.4 730.9"/>
<path class="trk" stroke="#8c564b" d="M264.7 662.5C265.4 662.6 271.0 663.2 272.2 663.7C273.3 664.3 276.0 668.7 277.1 668.7C278.3 668.7 283.2 664.5 284.6 663.7C286.0 662.9 291.4 660.3 292.1 660.0"/>
<path class="trk" stroke="#8c564b" stroke-width="5" d="M259.7 667.5C259.4 668.2 255.7 673.9 256.0 674.9C256.2 676.0 261.4 677.8 262.2 678.7C263.0 679.6 264.2 684.1 264.7 684.9C265.1 685.7 267.0 687.2 267.2 687.4"/>
<path class="trk" stroke="#8c564b" d="M241.0 699.8C241.8 699.6 248.0 697.7 249.8 697.3C251.5 697.0 258.3 696.0 259.7 696.1C261.1 696.2 263.8 697.7 264.7 698.6C265.6 699.5 268.8 704.9 269.7 706.1C270.6 707.2 274.2 710.6 274.7 711.0"/>
<path class="trk" stroke="#8c564b" stroke-width="4.5" d="M279.6 689.9C279.5 690.6 277.9 695.9 278.4 697.3C278.8 698.8 284.5 704.7 284.6 706.1C284.7 707.4 280.5 711.3 279.6 712.3C278.7 713.3 276.0 716.7 274.7 717.3C273.3 717.8 266.3 718.3 264.7 718.5C263.1 718.7 258.1 719.2 257.2 719.8C256.3 720.3 254.5 723.8 254.7 724.7C255.0 725.6 258.8 729.1 259.7 729.7C260.6 730.3 264.2 730.0 264.7 731.0C265.1 731.9 264.5 738.2 264.7 739.7C264.9 741.2 266.3 746.2 267.2 747.1C268.1 748.1 274.0 749.4 274.7 749.6"/>
<path class="trk" stroke="#8c564b" d="M294.6 679.9C295.3 679.2 300.8 673.8 302.0 672.4C303.3 671.1 307.7 665.7 308.3 665.0"/>
<path class="trk" stroke="#8c564b" d="M262.2 755.9C262.0 756.4 260.6 761.4 259.7 762.1C258.8 762.8 253.7 763.2 252.2 763.3C250.8 763.4 245.0 763.4 243.5 763.3C242.0 763.2 236.7 762.2 236.1 762.1"/>
<path class="trk" stroke="#8c564b" d="M300.0 671.8C300.6 671.4 305.1 668.1 306.2 667.5C307.4 666.8 311.2 664.9 312.4 665.0C313.7 665.1 318.8 668.8 319.9 668.7C321.1 668.6 324.3 664.5 324.9 663.7C325.5 662.9 326.0 660.3 326.1 660.0"/>
<path class="trk" stroke="#8c564b" d="M224.8 869.7C225.8 869.4 234.2 866.8 236.2 866.6C238.2 866.3 244.8 866.6 246.6 867.0C248.3 867.3 254.1 870.0 254.9 870.3"/>
<path class="trk" stroke="#8c564b" d="M236.2 866.6C236.6 865.8 239.6 859.8 240.3 858.3C241.1 856.7 243.8 851.1 244.5 850.0C245.1 848.8 247.6 847.0 247.6 845.8C247.6 844.7 245.0 839.0 244.5 837.5C244.0 836.0 242.7 830.4 242.4 829.2C242.1 828.1 240.4 825.2 241.4 825.1C242.3 825.0 251.0 827.8 252.8 828.2C254.6 828.6 260.1 828.4 261.1 829.2C262.0 830.1 262.8 837.1 263.2 837.5C263.5 837.9 264.7 833.9 265.2 833.4C265.8 832.8 269.0 831.5 269.4 831.3"/>
<path class="trk" stroke="#8c564b" d="M261.1 829.2C261.3 830.2 262.4 838.3 263.2 839.6C263.9 840.9 268.0 843.0 269.4 843.7C270.7 844.5 276.3 847.1 277.7 847.9C279.0 848.6 283.7 851.1 283.9 852.0C284.1 853.0 280.2 856.9 279.8 858.3C279.3 859.6 279.3 865.2 278.7 866.6C278.1 867.9 274.4 872.1 273.5 872.8C272.7 873.4 269.2 874.6 269.4 873.8C269.6 873.1 275.2 865.9 275.6 864.5C276.0 863.1 274.1 859.4 273.5 858.3C273.0 857.1 270.1 853.0 269.4 852.0C268.6 851.1 265.6 848.3 265.2 847.9"/>
<path class="trk" stroke="#8c564b" d="M252.8 764.9C253.5 764.5 259.9 761.7 261.1 760.7C262.2 759.8 264.5 755.7 265.2 754.5C266.0 753.4 269.0 748.9 269.4 748.3"/>
<path class="trk" stroke="#8c564b" d="M265.2 806.4C265.6 806.6 269.0 807.5 269.4 808.5C269.8 809.4 269.2 815.2 269.4 816.8C269.6 818.3 271.3 824.3 271.5 825.1"/>
<path class="trk" stroke="#8c564b" d="M280.0 850.0C280.2 850.5 282.1 854.9 282.1 856.2C282.1 857.5 280.2 863.7 280.0 864.5"/>
<path class="trk" stroke="#bcbd22" d="M219.7 618.8C219.8 618.0 220.1 610.7 220.7 609.5C221.3 608.3 225.7 605.0 225.9 605.4C226.1 605.7 222.6 613.4 222.8 613.7C223.0 613.9 226.9 609.0 228.0 608.5C229.0 607.9 233.7 606.9 234.2 607.4C234.7 608.0 233.1 613.3 233.2 614.7C233.2 616.1 235.1 621.8 235.2 623.0C235.3 624.1 233.4 627.0 234.2 627.1C235.0 627.2 241.9 624.2 243.5 624.0C245.1 623.8 250.1 624.5 251.8 625.1C253.5 625.6 260.3 630.2 262.2 630.2C264.1 630.3 270.7 626.9 272.6 626.1C274.5 625.3 281.3 622.5 282.9 622.0C284.5 621.4 289.4 620.1 290.0 619.9"/>
<path class="trk" stroke="#bcbd22" d="M280.0 623.0C280.8 622.7 286.9 619.8 288.3 619.9C289.7 620.0 294.6 623.2 295.6 624.0C296.5 624.9 298.2 628.0 298.7 629.2C299.1 630.4 301.0 636.0 300.7 637.5C300.5 639.0 296.6 644.7 295.6 645.8C294.5 647.0 289.7 648.8 289.3 650.0C289.0 651.1 291.5 656.5 291.4 658.3C291.3 660.0 289.2 666.5 288.3 668.6C287.4 670.7 282.8 679.6 282.1 681.1C281.3 682.6 280.2 684.8 280.0 685.2"/>
<path class="trk" stroke="#bcbd22" stroke-width="4.5" d="M289.6 660.0C289.4 660.7 287.8 666.1 287.1 667.5C286.4 668.8 283.1 673.6 282.1 674.9C281.1 676.3 276.6 681.2 275.9 682.4C275.2 683.7 274.3 688.4 274.7 688.6C275.0 688.9 278.3 685.1 279.6 684.9C281.0 684.7 288.1 685.5 289.6 686.1C291.1 686.8 295.0 691.0 295.8 692.4C296.6 693.7 297.7 699.3 298.3 701.1C298.9 702.9 301.5 710.3 302.0 712.3C302.6 714.2 304.5 720.4 304.5 722.2C304.5 724.1 302.7 730.6 302.0 732.2C301.4 733.8 298.2 738.4 297.1 739.7C295.9 740.9 290.7 745.2 289.6 745.9C288.4 746.6 285.1 747.0 284.6 747.1"/>
<path class="trk" stroke="#bcbd22" stroke-width="4.5" d="M284.6 714.8C285.1 714.1 288.4 708.6 289.6 707.3C290.7 706.0 295.7 702.0 297.1 701.1C298.4 700.2 303.3 697.8 304.5 697.3C305.7 696.9 309.5 696.2 310.0 696.1"/>
<path class="trk" stroke="#bcbd22" d="M282.1 719.8 L283.4 711.0"/>
<path class="trk" stroke="#bcbd22" stroke-width="5" d="M277.1 729.7C277.6 729.5 281.4 727.3 282.1 727.2C282.8 727.1 284.4 728.4 284.6 728.5"/>
<path class="trk" stroke="#bcbd22" d="M202.4 765.8C202.9 766.2 206.5 769.3 207.4 769.5C208.3 769.8 212.0 768.4 212.4 768.3"/>
<path class="trk" stroke="#bcbd22" d="M232.3 765.8C233.2 765.7 240.5 765.4 242.3 764.6C244.1 763.8 250.6 758.2 252.2 757.1C253.8 756.0 259.0 752.6 259.7 752.1"/>
<path class="trk" stroke="#bcbd22" d="M338.6 694.9C339.0 694.6 343.0 692.1 343.6 692.4C344.1 692.6 344.9 696.3 344.8 697.3C344.7 698.4 342.4 702.4 342.3 703.6C342.2 704.7 342.9 709.3 343.6 709.8C344.3 710.3 349.0 709.1 349.8 708.5C350.6 708.0 351.8 703.5 352.3 703.6C352.7 703.7 355.0 708.9 354.8 709.8C354.5 710.7 350.3 713.2 349.8 713.5"/>
<path class="trk" stroke="#bcbd22" stroke-width="4.5" d="M300.0 698.6C300.7 698.4 306.3 696.2 307.5 696.1C308.6 696.0 312.1 696.3 312.4 697.3C312.8 698.4 311.2 705.4 311.2 707.3C311.2 709.2 312.2 716.7 312.4 718.5C312.7 720.3 313.9 725.9 313.7 727.2C313.5 728.6 310.8 733.3 310.0 733.4C309.2 733.6 305.2 729.7 305.0 728.5C304.8 727.2 307.7 721.2 307.5 719.8C307.2 718.3 303.2 712.3 302.5 712.3C301.8 712.3 300.2 719.1 300.0 719.8"/>
<path class="trk" stroke="#bcbd22" d="M300.0 703.6 L305.0 712.3"/>
<path class="trk" stroke="#bcbd22" d="M367.2 747.1C367.9 747.1 373.3 747.0 374.7 747.1C376.1 747.3 381.1 747.8 382.2 748.4C383.2 749.0 385.7 752.3 385.9 753.4C386.1 754.4 384.8 759.0 384.7 759.6"/>
<path class="trk" stroke="#bcbd22" d="M367.2 769.5C367.5 770.0 368.8 774.0 369.7 774.5C370.6 775.1 376.0 775.9 377.2 775.8C378.3 775.7 381.7 773.5 382.2 773.3"/>
<path class="trk" stroke="#bcbd22" d="M369.7 729.7 L374.7 727.2"/>
<path class="trk" stroke="#bcbd22" d="M202.0 767.0C201.9 767.9 200.7 775.8 200.9 777.3C201.1 778.9 203.5 782.0 204.0 783.6C204.5 785.1 205.6 792.2 206.1 793.9C206.6 795.7 208.4 800.7 209.2 802.2C210.1 803.8 214.3 809.1 215.4 810.5C216.6 812.0 220.3 817.0 221.7 817.8C223.0 818.6 228.5 818.6 230.0 818.8C231.4 819.0 236.4 818.9 237.2 819.9C238.1 820.8 239.0 827.4 239.3 829.2C239.6 831.0 240.0 837.9 240.3 839.6C240.6 841.3 242.5 846.6 242.4 847.9C242.3 849.2 240.1 853.2 239.3 854.1C238.5 855.1 235.2 857.7 234.1 858.3C233.1 858.8 229.0 859.6 227.9 860.3C226.7 861.1 222.7 865.2 221.7 866.6C220.6 867.9 217.8 873.7 216.5 874.9C215.1 876.0 208.8 878.3 207.1 879.0C205.5 879.7 200.4 881.6 198.8 882.1C197.3 882.6 192.1 883.5 190.5 884.2C189.0 884.9 183.3 889.3 182.2 889.4C181.2 889.5 179.9 885.2 179.1 885.2C178.4 885.2 175.2 888.9 173.9 889.4C172.7 889.9 166.8 890.0 165.6 890.4C164.5 890.8 161.2 893.0 161.5 893.5C161.8 894.1 167.8 895.9 168.8 896.6C169.7 897.4 171.2 901.1 171.9 901.8C172.5 902.6 175.2 904.3 176.0 904.9C176.9 905.6 180.3 909.2 181.2 909.1C182.2 909.0 186.3 904.9 186.4 903.9C186.5 902.9 183.1 899.5 182.2 898.7C181.4 898.0 177.3 896.5 177.1 895.6C176.8 894.7 178.7 889.2 179.1 889.4C179.6 889.6 181.2 896.6 182.2 897.7C183.3 898.7 189.0 900.4 190.5 900.8C192.1 901.2 197.8 901.4 198.8 901.8C199.9 902.2 202.3 904.6 202.0 904.9C201.6 905.3 195.7 905.4 194.7 906.0C193.6 906.5 190.9 910.7 190.5 911.2"/>
<path class="trk" stroke="#bcbd22" d="M298.4 833.4C298.8 833.0 301.6 830.0 302.6 829.2C303.5 828.5 307.9 826.0 308.8 825.1C309.7 824.1 311.3 820.2 311.9 818.8C312.5 817.5 314.5 812.1 315.0 810.5C315.5 809.0 316.9 803.0 317.1 802.2"/>
<path class="trk" stroke="#bcbd22" d="M371.3 749.3C372.2 749.2 380.3 747.8 381.7 748.3C383.0 748.8 385.5 753.4 385.8 754.5C386.1 755.7 384.9 760.2 384.8 760.7"/>
<path class="trk" stroke="#bcbd22" d="M371.3 771.1C371.4 771.6 371.6 776.0 372.3 776.3C373.1 776.6 378.9 774.4 379.6 774.2"/>
<path class="trk" stroke="#bcbd22" d="M297.6 832.3C298.0 832.5 300.9 834.9 301.8 834.4C302.6 833.9 305.9 828.2 307.0 827.1C308.0 826.1 312.2 823.6 313.2 823.0C314.1 822.4 317.5 821.5 317.3 820.9C317.2 820.3 311.5 817.7 311.1 816.8C310.7 815.8 312.7 811.7 313.2 810.5C313.7 809.4 316.0 804.9 316.3 804.3"/>
<path class="trk" stroke="#bcbd22" d="M330.8 818.8C331.1 818.3 333.3 813.7 333.9 812.6C334.6 811.6 336.8 808.0 338.1 807.4C339.4 806.9 346.2 806.5 348.5 806.4C350.7 806.3 360.9 806.4 363.0 806.4C365.1 806.4 369.9 806.4 371.3 806.4C372.7 806.4 377.8 806.1 378.5 806.4C379.3 806.7 380.3 809.0 379.6 809.5C378.9 810.0 372.4 811.0 371.3 811.6C370.1 812.1 367.5 815.3 367.1 815.7"/>
<path class="trk" stroke="#bcbd22" d="M358.8 812.6C358.9 813.4 359.3 819.8 359.9 820.9C360.4 822.1 364.4 824.2 365.1 825.1C365.7 825.9 366.6 829.3 367.1 830.2C367.7 831.2 370.3 834.6 370.7 835.0"/>
<path class="trk" stroke="#bcbd22" d="M327.1 792.4C327.7 792.8 332.4 797.0 333.3 797.3C334.2 797.7 336.7 796.2 337.1 796.1"/>
<path class="trk" stroke="#ff7f0e" d="M198.9 631.3C199.3 632.2 203.2 640.1 203.1 641.7C203.0 643.2 198.7 646.2 197.9 647.9C197.0 649.6 194.5 658.6 193.7 660.3C193.0 662.0 189.4 666.4 189.6 666.6C189.8 666.7 194.9 664.3 195.8 662.4C196.8 660.5 200.1 647.9 200.0 645.8C199.9 643.7 194.9 640.9 194.8 639.6C194.7 638.3 198.5 632.0 198.9 631.3"/>
<path class="trk" stroke="#ff7f0e" d="M187.5 658.3C186.9 658.1 182.0 655.8 181.3 656.2C180.5 656.6 178.6 661.3 179.2 662.4C179.8 663.5 186.2 667.5 187.5 668.6C188.8 669.8 192.7 674.5 193.7 674.9C194.8 675.2 198.2 673.7 198.9 672.8C199.7 671.8 201.0 665.4 202.0 664.5C203.1 663.5 208.4 662.5 210.3 662.4C212.2 662.3 220.9 663.4 222.8 663.4C224.7 663.4 229.9 662.1 231.1 662.4C232.2 662.7 234.5 665.6 235.2 666.6C236.0 667.5 238.2 672.5 239.4 672.8C240.5 673.1 246.2 670.6 247.7 669.7C249.2 668.7 254.5 663.5 256.0 662.4C257.5 661.4 262.9 659.4 264.3 658.3C265.6 657.1 270.7 650.9 270.5 650.0C270.3 649.0 263.5 648.2 262.2 647.9C260.9 647.6 256.5 646.9 256.0 646.8"/>
<path class="trk" stroke="#ff7f0e" d="M270.5 650.0C270.9 648.8 274.0 637.9 274.6 637.5C275.3 637.1 276.8 644.5 277.8 645.8C278.7 647.1 283.9 651.5 285.0 652.0C286.1 652.6 289.5 652.0 290.0 652.0"/>
<path class="trk" stroke="#ff7f0e" d="M282.9 641.7 L290.0 640.6"/>
<path class="trk" stroke="#ff7f0e" d="M198.9 672.8C199.6 673.5 204.4 679.9 206.2 681.1C208.0 682.2 216.7 684.5 218.6 685.2C220.5 686.0 225.8 688.2 226.9 689.4C228.1 690.5 230.3 696.2 231.1 697.7C231.8 699.2 234.1 704.8 235.2 706.0C236.4 707.1 241.8 709.2 243.5 710.1C245.2 711.1 252.2 715.4 253.9 716.3C255.6 717.3 261.4 720.1 262.2 720.5"/>
<path class="trk" stroke="#ff7f0e" d="M283.1 642.7C284.0 642.6 290.6 641.9 292.4 641.7C294.3 641.4 301.1 640.0 302.8 639.6C304.5 639.2 309.4 638.3 311.1 637.5C312.8 636.7 320.0 632.1 321.5 631.3C323.0 630.4 326.3 628.4 327.7 628.2C329.1 628.0 336.2 629.1 337.1 629.2"/>
<path class="trk" stroke="#ff7f0e" d="M321.5 631.3C320.9 632.2 316.5 639.9 315.3 641.7C314.0 643.4 308.9 648.2 308.0 650.0C307.2 651.7 305.5 659.2 305.9 660.3C306.4 661.5 312.9 663.1 313.2 662.4C313.5 661.7 309.4 653.9 309.0 653.1"/>
<path class="trk" stroke="#ff7f0e" d="M280.0 653.1C280.8 653.1 286.9 652.9 288.3 653.1C289.7 653.3 294.9 655.0 295.6 655.1"/>
<path class="trk" stroke="#ff7f0e" d="M302.8 672.8 L304.9 681.1"/>
<path class="trk" stroke="#ff7f0e" d="M280.0 672.8C281.0 673.2 288.5 676.0 290.4 676.9C292.3 677.9 299.8 682.6 300.7 683.2"/>
<path class="trk" stroke="#ff7f0e" stroke-width="5" d="M233.6 701.1C234.1 701.3 238.8 703.0 239.8 703.6C240.8 704.1 244.5 706.5 244.8 707.3C245.0 708.1 243.0 711.6 242.3 712.3C241.6 713.0 238.0 714.0 237.3 714.8C236.6 715.6 235.4 719.7 234.8 721.0C234.2 722.3 231.0 728.1 231.1 728.5C231.2 728.8 234.9 724.8 236.1 724.7C237.2 724.6 242.3 727.2 243.5 727.2C244.8 727.2 248.7 724.6 249.8 724.7C250.8 724.8 254.3 728.1 254.7 728.5"/>
<path class="trk" stroke="#ff7f0e" d="M259.7 662.5C260.2 663.1 263.3 667.8 264.7 668.7C266.1 669.6 272.6 671.9 274.7 672.4C276.7 673.0 285.0 674.1 287.1 674.9C289.2 675.7 295.6 680.1 297.1 681.2C298.5 682.2 302.7 685.7 303.3 686.1"/>
<path class="trk" stroke="#ff7f0e" stroke-width="4.5" d="M228.6 739.7C228.8 740.4 231.3 745.8 231.1 747.1C230.9 748.5 226.8 753.5 226.1 754.6C225.4 755.8 223.2 759.2 223.6 759.6C224.1 759.9 229.6 758.8 231.1 758.3C232.6 757.9 238.7 755.6 239.8 754.6C240.9 753.6 242.7 748.1 243.5 747.1C244.3 746.2 248.1 744.9 248.5 744.7"/>
<path class="trk" stroke="#ff7f0e" stroke-width="5" d="M237.3 769.5C238.0 769.4 243.7 768.6 244.8 768.3C245.8 768.0 248.2 766.0 248.5 765.8"/>
<path class="trk" stroke="#ff7f0e" d="M200.0 777.0C200.8 776.4 206.6 771.5 208.7 770.8C210.7 770.1 221.1 769.7 222.4 769.5"/>
<path class="trk" stroke="#ff7f0e" stroke-width="5" d="M198.8 776.3C199.6 776.7 205.4 780.9 207.1 780.5C208.8 780.0 215.6 771.8 217.5 771.1C219.4 770.5 225.8 772.8 227.9 773.2C230.0 773.6 239.4 775.7 240.3 775.3C241.3 774.9 239.4 769.8 238.3 769.0C237.1 768.3 228.8 767.2 227.9 767.0"/>
<path class="trk" stroke="#ff7f0e" stroke-width="5" d="M223.7 756.6C224.5 756.2 230.1 752.4 232.0 752.4C233.9 752.4 243.0 755.5 244.5 756.6C246.0 757.7 248.3 764.1 248.6 764.9"/>
<path class="trk" stroke="#ff7f0e" stroke-width="7" d="M230.0 772.4C230.7 772.2 236.3 769.8 237.5 770.0C238.6 770.1 242.4 772.9 242.4 773.7C242.4 774.5 238.6 778.2 237.5 778.7C236.3 779.1 230.7 778.7 230.0 778.7"/>
<path class="trk" stroke="#e377c2" d="M212.4 679.0C212.8 678.8 215.6 676.5 216.6 676.9C217.5 677.3 221.3 683.2 222.8 683.2C224.3 683.1 232.0 676.1 233.2 675.9C234.3 675.7 236.0 680.2 235.2 681.1C234.5 681.9 226.0 684.1 224.9 685.2C223.7 686.4 223.7 692.2 222.8 693.5C221.8 694.9 214.9 698.6 214.5 699.8C214.1 700.9 219.4 705.6 218.6 706.0C217.9 706.4 207.7 704.1 206.2 703.9C204.7 703.7 203.0 703.2 202.0 703.9C201.1 704.6 195.6 709.9 195.8 711.2C196.0 712.4 203.3 716.5 204.1 717.4C205.0 718.2 204.7 720.8 205.1 720.5C205.6 720.2 208.4 715.2 209.3 714.3C210.2 713.3 213.2 710.3 214.5 710.1C215.7 709.9 220.9 712.2 222.8 712.2C224.7 712.2 234.1 710.3 235.2 710.1"/>
<path class="trk" stroke="#e377c2" stroke-width="5" d="M222.4 701.1C221.6 701.0 215.4 699.8 213.7 699.8C211.9 699.8 203.8 700.7 203.7 701.1C203.6 701.4 210.7 703.2 212.4 703.6C214.1 703.9 220.7 704.6 222.4 704.8C224.1 705.0 230.3 705.9 231.1 706.1"/>
<path class="trk" stroke="#e377c2" d="M263.4 696.1C264.0 695.8 268.4 692.8 269.7 692.4C270.9 691.9 277.4 690.4 277.1 691.1C276.9 691.8 267.4 698.7 267.2 699.8C267.0 701.0 273.5 702.9 274.7 703.6C275.8 704.3 279.2 707.0 279.6 707.3"/>
<path class="trk" stroke="#e377c2" stroke-width="5" d="M249.8 709.8C250.4 710.0 255.4 711.9 257.2 712.3C259.0 712.6 268.5 713.4 269.7 713.5"/>
<path class="trk" stroke="#e377c2" stroke-width="5" d="M289.6 724.7C290.2 725.0 294.9 727.2 295.8 727.2C296.7 727.2 299.2 725.0 299.5 724.7"/>
<path class="trk" stroke="#e377c2" d="M277.1 765.8C277.6 765.4 281.2 761.9 282.1 760.8C283.0 759.8 286.1 755.6 287.1 754.6C288.1 753.6 292.0 750.4 293.3 749.6C294.7 748.8 301.2 746.2 302.0 745.9"/>
<path class="trk" stroke="#e377c2" d="M310.1 652.0C310.9 651.8 317.8 650.3 319.4 650.0C321.0 649.6 326.3 648.4 327.7 647.9C329.1 647.4 333.5 645.1 335.0 644.8C336.5 644.5 342.5 644.9 344.3 644.8C346.1 644.7 353.0 643.8 354.7 643.7C356.4 643.6 361.5 643.4 363.0 643.7C364.5 644.1 370.0 646.7 371.3 647.9C372.6 649.0 376.5 655.0 377.5 656.2C378.6 657.3 382.3 659.2 382.7 660.3C383.1 661.5 382.2 667.3 381.7 668.6C381.1 670.0 377.0 673.5 376.5 674.9C375.9 676.2 375.9 681.8 375.4 683.2C375.0 684.5 372.0 688.2 371.3 689.4C370.5 690.5 368.2 694.8 367.1 695.6C366.1 696.4 360.3 697.9 359.9 697.7C359.5 697.5 362.5 694.7 363.0 693.5C363.5 692.4 365.4 685.8 365.1 685.2C364.7 684.7 359.6 687.5 358.8 687.3C358.1 687.1 357.0 683.5 356.8 683.2"/>
<path class="trk" stroke="#e377c2" stroke-width="4.5" d="M312.4 701.1C313.0 701.7 317.9 706.0 318.7 707.3C319.5 708.6 321.5 713.7 321.2 714.8C320.8 715.8 315.1 717.8 314.9 718.5C314.8 719.2 318.8 721.4 319.9 722.2C321.1 723.0 326.0 726.3 327.4 727.2C328.8 728.1 334.1 730.9 334.9 732.2C335.7 733.5 335.9 739.3 336.1 740.9C336.3 742.5 337.1 747.9 337.3 749.6C337.6 751.3 338.2 758.1 338.6 759.6C338.9 761.1 340.6 764.7 341.1 765.8C341.5 767.0 343.2 770.9 343.6 772.0C343.9 773.2 344.7 777.7 344.8 778.3"/>
<path class="trk" stroke="#e377c2" d="M341.2 789.8C341.5 789.3 343.6 785.6 344.3 784.6C345.1 783.7 348.4 780.0 349.5 779.4C350.6 778.8 355.8 777.6 356.8 778.4C357.7 779.1 359.1 785.7 359.9 787.7C360.6 789.7 365.2 798.9 365.1 800.2C365.0 801.4 360.2 801.2 358.8 801.2C357.5 801.2 352.1 800.5 350.5 800.2C349.0 799.9 343.1 799.0 342.2 798.1C341.4 797.1 341.3 790.6 341.2 789.8"/>
<path class="trk" stroke="#e377c2" stroke-width="5" d="M348.5 781.5C348.8 782.4 351.7 790.5 352.6 791.9C353.6 793.2 359.4 796.0 358.8 796.0C358.3 796.0 346.8 792.8 346.4 791.9C346.0 790.9 353.9 786.2 354.7 785.6"/>
<path class="trk" stroke="#e377c2" d="M344.3 798.1C345.3 798.7 353.0 803.1 354.7 804.3C356.4 805.6 362.0 810.7 363.0 811.6C363.9 812.4 364.9 813.5 365.1 813.7"/>
<path class="trk" stroke="#e377c2" d="M336.0 746.2C336.1 747.2 336.5 754.9 337.1 756.6C337.6 758.3 341.6 763.2 342.2 764.9C342.9 766.6 343.9 773.9 344.3 775.3C344.7 776.6 346.2 779.0 346.4 779.4"/>
<path class="trk" stroke="#e377c2" stroke-width="5" d="M277.3 763.7C277.8 764.1 281.6 767.6 282.3 767.5C283.0 767.4 284.5 762.9 284.8 762.5"/>
<path class="trk" stroke="#9467bd" d="M231.1 681.1C231.5 681.5 234.5 685.0 235.2 685.2C236.0 685.4 238.6 682.8 239.4 683.2C240.1 683.5 242.4 688.8 243.5 689.4C244.7 689.9 250.7 689.8 251.8 689.4C253.0 689.0 255.0 685.2 256.0 685.2C256.9 685.2 261.1 689.4 262.2 689.4C263.3 689.4 268.0 684.8 268.4 685.2C268.8 685.6 267.5 692.6 266.3 693.5C265.2 694.5 257.7 695.5 256.0 695.6C254.3 695.7 249.2 694.8 247.7 694.6C246.2 694.4 240.1 693.6 239.4 693.5"/>
<path class="trk" stroke="#9467bd" stroke-width="5" d="M231.1 682.4C231.4 682.2 234.2 679.7 234.8 679.9C235.4 680.1 236.6 684.1 237.3 684.9C238.0 685.7 241.1 688.5 242.3 688.6C243.4 688.8 248.4 687.2 249.8 686.8C251.1 686.3 255.9 683.7 257.2 683.7C258.6 683.6 263.6 686.8 264.7 686.1C265.8 685.5 268.5 676.9 269.7 676.2C270.8 675.5 277.1 678.1 277.1 678.7C277.1 679.2 270.4 682.1 269.7 682.4"/>
<path class="trk" stroke="#9467bd" stroke-width="9" d="M244.8 688.6C246.6 688.5 262.8 686.6 264.7 687.4C266.6 688.2 267.3 696.3 265.9 697.3C264.6 698.4 251.0 699.0 249.8 698.6C248.5 698.1 251.1 692.9 252.2 692.4C253.4 691.8 261.3 692.4 262.2 692.4"/>
<path class="trk" stroke="#9467bd" d="M267.2 696.1 L277.1 699.8"/>
<path class="trk" stroke="#9467bd" stroke-width="5" d="M292.1 677.4C293.0 677.9 300.4 681.7 302.0 682.4C303.7 683.1 309.3 684.7 310.0 684.9"/>
<path class="trk" stroke="#9467bd" stroke-width="4.5" d="M319.9 687.4C320.4 687.0 324.1 683.8 324.9 683.7C325.7 683.5 328.2 685.3 328.6 686.1C329.1 686.9 329.2 691.9 329.9 692.4C330.6 692.8 335.3 691.8 336.1 691.1C336.9 690.4 337.9 685.6 338.6 684.9C339.3 684.2 342.8 683.5 343.6 683.7C344.4 683.8 346.8 686.6 347.3 686.1C347.8 685.7 348.0 679.8 348.5 678.7C349.1 677.5 352.4 674.3 353.5 673.7C354.7 673.1 360.3 672.0 361.0 672.4C361.7 672.9 361.2 677.8 361.0 678.7C360.8 679.6 358.4 681.8 358.5 682.4C358.6 683.0 361.9 684.2 362.2 684.9C362.6 685.6 362.8 689.3 362.2 689.9C361.7 690.4 357.2 690.9 356.0 691.1C354.9 691.3 350.1 692.0 349.8 692.4C349.5 692.7 352.5 694.2 352.3 694.9C352.1 695.5 348.3 699.0 347.3 699.8C346.3 700.6 342.3 703.0 341.1 703.6C339.8 704.1 334.3 705.8 333.6 706.1"/>
<path class="trk" stroke="#9467bd" stroke-width="5" d="M300.0 682.4 L306.2 684.9"/>
<path class="trk" stroke="#9467bd" d="M358.5 748.4C358.2 748.8 355.1 752.3 354.8 753.4C354.4 754.4 354.3 758.7 354.8 759.6C355.2 760.5 358.6 763.1 359.8 763.3C360.9 763.6 366.1 762.5 367.2 762.1C368.4 761.6 371.9 759.5 372.2 758.3C372.5 757.2 371.4 751.1 371.0 749.6C370.5 748.1 367.9 743.0 367.2 742.2C366.5 741.4 363.8 741.0 363.5 740.9"/>
<path class="trk" stroke="#9467bd" d="M372.2 762.1C372.1 762.8 371.4 768.2 371.0 769.5C370.5 770.9 367.8 776.1 367.2 777.0C366.7 778.0 365.0 779.7 364.7 780.0"/>
<path class="trk" stroke="#9467bd" d="M367.1 742.1C367.4 742.8 369.9 748.7 370.2 750.4C370.6 752.1 371.4 758.8 371.3 760.7C371.2 762.6 369.8 769.4 369.2 771.1C368.6 772.8 365.1 778.2 365.1 779.4C365.1 780.7 367.9 783.9 369.2 784.6C370.5 785.3 377.5 786.5 379.6 786.7C381.7 786.9 390.2 786.8 392.0 786.7C393.8 786.6 398.5 786.3 399.3 785.6C400.1 785.0 399.9 780.2 400.3 779.4C400.8 778.7 403.9 777.2 404.5 777.3C405.1 777.4 405.6 780.4 406.6 780.5C407.5 780.6 414.0 778.1 414.9 778.4C415.7 778.7 416.4 782.6 415.9 783.6C415.4 784.5 410.7 787.6 409.7 788.8C408.6 789.9 405.4 794.8 404.5 796.0C403.5 797.3 400.4 800.9 399.3 802.2C398.2 803.6 393.3 809.2 392.0 810.5C390.8 811.9 386.8 815.7 385.8 816.8C384.9 817.8 382.5 821.6 381.7 822.0C380.8 822.3 377.4 821.5 376.5 820.9C375.5 820.3 371.8 816.2 371.3 815.7"/>
<path class="trk" stroke="#9467bd" d="M381.7 822.0C382.2 822.4 386.6 826.0 387.9 827.1C389.2 828.3 394.7 833.1 396.2 834.4C397.7 835.7 403.7 840.5 404.5 841.7C405.2 842.8 404.0 846.2 404.5 846.8C405.0 847.5 408.9 849.3 409.7 848.9C410.4 848.5 412.1 843.7 412.8 842.7C413.4 841.7 416.5 838.9 416.9 837.5C417.4 836.1 418.1 828.8 418.0 827.1C417.9 825.4 416.2 820.2 415.9 818.8C415.6 817.5 414.5 813.8 414.9 812.6C415.2 811.5 419.3 807.7 420.0 806.4C420.8 805.1 422.7 799.3 423.2 798.1C423.6 796.9 425.2 793.3 425.2 792.9C425.2 792.5 422.9 793.4 423.2 793.5C423.4 793.7 427.3 794.3 427.7 794.4"/>
<path class="trk" stroke="#9467bd" d="M367.1 742.1C366.4 742.6 360.0 747.0 358.8 748.3C357.7 749.6 354.7 755.5 354.7 756.6C354.7 757.7 357.7 760.2 358.8 760.7C360.0 761.3 366.0 762.8 367.1 762.8C368.3 762.8 370.9 760.9 371.3 760.7"/>
<path class="trk" stroke="#2ca02c" d="M207.2 692.5C207.9 692.2 213.1 689.4 214.5 689.4C215.9 689.4 221.6 692.6 222.8 692.5C223.9 692.4 226.5 688.7 226.9 688.3"/>
<path class="trk" stroke="#2ca02c" d="M197.9 739.2C198.4 738.8 201.5 735.2 203.1 735.0C204.6 734.8 212.7 737.2 214.5 737.1C216.3 737.0 221.3 734.0 222.8 734.0C224.3 734.0 229.6 737.0 231.1 737.1C232.6 737.2 238.6 735.2 239.4 735.0"/>
<path class="trk" stroke="#2ca02c" stroke-width="5" d="M206.8 691.7C207.3 691.6 211.6 689.5 212.4 689.9C213.3 690.3 215.9 696.0 216.1 696.1C216.4 696.2 214.3 691.8 214.9 691.1C215.5 690.4 221.2 689.0 222.4 688.6C223.5 688.2 226.9 686.9 227.3 686.8"/>
<path class="trk" stroke="#2ca02c" d="M231.1 691.1C231.7 691.5 236.2 694.4 237.3 694.9C238.4 695.3 243.0 696.0 243.5 696.1"/>
<path class="trk" stroke="#2ca02c" stroke-width="5" d="M197.5 739.7C197.9 739.2 201.2 735.1 202.4 734.7C203.7 734.2 209.7 734.5 211.2 734.7C212.6 734.9 217.1 737.2 218.6 737.2C220.1 737.2 226.1 734.5 227.3 734.7C228.6 734.9 231.9 738.5 232.3 739.7C232.8 740.8 232.8 746.0 232.3 747.1C231.9 748.3 228.5 751.2 227.3 752.1C226.2 753.0 221.2 756.2 219.9 757.1C218.5 758.0 214.0 761.2 212.4 762.1C210.8 763.0 202.8 766.9 202.4 767.1C202.1 767.2 207.5 764.5 208.7 763.3C209.8 762.2 213.6 756.3 214.9 754.6C216.2 752.9 221.5 746.0 222.4 744.7C223.3 743.3 225.1 740.0 224.9 739.7C224.6 739.3 220.8 740.2 219.9 740.9C219.0 741.6 215.8 745.9 214.9 747.1C214.0 748.4 210.8 754.6 209.9 754.6C209.0 754.6 205.6 748.4 204.9 747.1C204.3 745.9 202.7 741.5 202.4 740.9"/>
<path class="trk" stroke="#2ca02c" stroke-width="5" d="M197.5 739.7C197.7 740.4 200.2 745.8 200.0 747.1C199.7 748.5 195.9 753.5 195.0 754.6C194.1 755.8 189.8 758.4 190.0 759.6C190.2 760.7 195.9 765.7 197.5 767.1C199.1 768.4 205.8 773.5 207.4 774.5C209.0 775.6 213.5 778.5 214.9 778.3C216.3 778.0 220.8 773.1 222.4 772.0C224.0 771.0 231.4 767.5 232.3 767.1"/>
<path class="trk" stroke="#2ca02c" d="M234.8 729.7C235.5 729.9 241.3 732.1 242.3 732.2C243.3 732.3 245.7 731.1 246.0 731.0"/>
<path class="trk" stroke="#2ca02c" d="M284.6 707.3C285.3 707.0 290.5 704.5 292.1 703.6C293.7 702.7 301.1 697.9 302.0 697.3"/>
<path class="trk" stroke="#2ca02c" stroke-width="5" d="M299.5 691.1 L307.0 687.4"/>
<path class="trk" stroke="#2ca02c" stroke-width="6" d="M300.0 691.1C300.6 690.8 305.0 687.7 306.2 687.4C307.5 687.0 312.6 686.9 313.7 687.4C314.8 687.8 317.9 691.7 318.7 692.4C319.5 693.1 322.1 694.6 322.4 694.9"/>
<path class="trk" stroke="#2ca02c" d="M364.7 718.5C365.0 719.0 367.2 722.5 367.2 723.5C367.2 724.5 365.2 728.7 364.7 729.7C364.3 730.7 362.5 734.2 362.2 734.7"/>
<path class="trk" stroke="#2ca02c" d="M338.6 742.2 L343.6 747.1"/>
<path class="trk" stroke="#2ca02c" stroke-width="5" d="M361.0 767.1C361.6 766.9 366.0 765.7 367.2 765.8C368.5 765.9 373.6 767.8 374.7 768.3C375.8 768.8 379.1 771.0 379.7 770.8C380.2 770.6 381.1 767.0 380.9 765.8C380.7 764.7 377.1 759.1 377.2 758.3C377.3 757.5 381.7 757.2 382.2 757.1"/>
<path class="trk" stroke="#2ca02c" stroke-width="7" d="M375.9 759.6C376.4 759.6 380.6 758.9 380.9 759.6C381.3 760.3 380.2 766.5 379.7 767.1C379.1 767.6 375.1 765.9 374.7 765.8"/>
<path class="trk" stroke="#2ca02c" d="M307.5 769.5C307.7 770.1 310.2 774.9 310.0 775.8C309.7 776.7 305.4 779.2 305.0 779.5"/>
<path class="trk" stroke="#2ca02c" d="M300.0 754.6 L307.5 755.9"/>
<path class="trk" stroke="#2ca02c" d="M192.6 756.6C193.2 756.0 197.5 751.3 198.8 750.4C200.2 749.4 206.6 747.2 207.1 746.2C207.7 745.3 205.3 740.6 205.1 740.0"/>
<path class="trk" stroke="#2ca02c" d="M192.6 756.6C193.0 757.5 195.4 765.3 196.8 767.0C198.1 768.7 205.7 774.1 207.1 775.3C208.6 776.4 211.0 779.6 212.3 779.4C213.7 779.2 220.0 774.3 221.7 773.2C223.3 772.1 229.8 767.9 230.0 767.0C230.1 766.0 225.3 763.0 223.7 762.8C222.2 762.6 215.3 764.6 213.4 764.9C211.5 765.2 203.9 765.8 203.0 765.9"/>
<path class="trk" stroke="#2ca02c" d="M273.5 781.5C274.7 781.8 283.7 784.6 286.0 784.6C288.3 784.6 296.5 782.3 298.4 781.5C300.3 780.6 305.4 776.6 306.7 775.3C308.1 773.9 312.6 768.3 312.9 767.0C313.3 765.6 311.1 761.3 310.9 760.7"/>
<path class="trk" stroke="#2ca02c" stroke-width="4.5" d="M282.3 772.4C282.9 772.0 288.1 767.4 288.5 767.5C289.0 767.6 287.6 772.7 287.3 773.7C286.9 774.7 284.7 777.8 284.8 778.7C284.9 779.6 287.5 783.1 288.5 783.7C289.5 784.2 294.6 785.1 296.0 784.9C297.3 784.7 302.2 782.2 303.4 781.2C304.7 780.1 308.9 775.1 309.7 773.7C310.5 772.3 312.0 767.3 312.2 766.2C312.3 765.2 311.0 762.8 310.9 762.5"/>
<path class="trk" stroke="#2ca02c" stroke-width="5" d="M363.0 767.0C363.6 766.8 367.9 764.5 369.2 764.9C370.5 765.3 376.4 770.7 377.5 771.1C378.7 771.5 381.5 770.2 381.7 769.0C381.8 767.9 380.2 759.9 379.6 758.7C379.0 757.4 375.8 755.8 375.4 755.6"/>
<path class="trk" stroke="#2ca02c" stroke-width="6" d="M300.7 693.5C301.3 693.1 305.6 688.8 307.0 688.3C308.3 687.9 313.7 687.8 315.3 688.3C316.8 688.9 322.8 694.0 323.6 694.6"/>
<path class="trk" stroke="#1f77b4" d="M292.4 643.7C292.8 643.2 295.6 638.6 296.6 637.5C297.5 636.5 301.5 632.9 302.8 632.3C304.2 631.8 309.6 631.0 311.1 631.3C312.6 631.6 317.9 634.9 319.4 635.4C320.9 636.0 326.9 637.6 327.7 637.5C328.6 637.4 328.5 633.8 328.8 634.4C329.0 635.0 330.4 642.2 330.8 643.7C331.3 645.3 333.7 650.3 333.9 651.0"/>
<path class="trk" stroke="#1f77b4" d="M264.7 676.2 L269.7 674.9"/>
<path class="trk" stroke="#1f77b4" d="M237.3 734.7C237.5 735.1 239.8 738.5 239.8 739.7C239.8 740.8 237.1 746.7 237.3 747.1C237.5 747.6 241.8 744.9 242.3 744.7"/>
<path class="trk" stroke="#1f77b4" stroke-width="5" d="M287.1 719.8 L294.6 717.3"/>
<path class="trk" stroke="#1f77b4" d="M307.0 709.8 L310.0 712.3"/>
<path class="trk" stroke="#1f77b4" stroke-width="5" d="M331.1 718.5C331.7 718.3 336.1 715.9 337.3 716.0C338.6 716.1 343.4 719.3 344.8 719.8C346.2 720.2 351.6 720.9 352.3 721.0"/>
<path class="trk" stroke="#1f77b4" stroke-width="5" d="M324.9 729.7C325.1 730.2 327.6 733.8 327.4 734.7C327.2 735.6 322.9 739.2 322.4 739.7"/>
<path class="trk" stroke="#1f77b4" stroke-width="5" d="M300.0 709.8C300.5 710.3 304.3 713.6 305.0 714.8C305.7 715.9 307.2 721.6 307.5 722.2"/>
<path class="trk" stroke="#1f77b4" stroke-width="5" d="M344.8 763.3C345.3 763.6 349.1 765.0 349.8 765.8C350.5 766.6 352.3 771.1 352.3 772.0C352.3 773.0 350.0 775.4 349.8 775.8"/>
<path class="trk" stroke="#1f77b4" stroke-width="5" d="M324.9 768.3C325.4 768.6 329.6 771.4 329.9 772.0C330.1 772.7 327.6 775.4 327.4 775.8"/>
<path class="trk" stroke="#1f77b4" stroke-width="5" d="M312.4 777.0 L318.7 778.3"/>
<path class="trk" stroke="#1f77b4" stroke-width="4.5" d="M266.1 796.1C266.6 796.2 270.2 796.7 271.1 797.3C272.0 798.0 275.4 802.4 276.1 803.6C276.7 804.7 278.4 808.7 278.5 809.8C278.7 810.9 277.1 815.1 277.3 816.0C277.5 816.9 280.5 819.9 281.0 819.8C281.6 819.6 283.4 815.9 283.5 814.8C283.6 813.6 281.9 808.3 282.3 807.3C282.6 806.3 286.1 804.1 287.3 803.6C288.4 803.0 293.4 801.4 294.7 801.1C296.1 800.7 300.8 800.2 302.2 799.8C303.6 799.5 308.3 797.6 309.7 797.3C311.0 797.1 316.1 796.9 317.1 797.3C318.2 797.8 320.6 801.5 320.9 802.3C321.1 803.1 319.7 805.7 319.6 806.1"/>
<path class="trk" stroke="#1f77b4" stroke-width="10" d="M292.2 792.4C294.5 792.1 314.6 789.5 317.1 789.9C319.7 790.2 321.9 795.3 319.6 796.1C317.3 796.9 293.6 798.7 292.2 798.6C290.9 798.5 303.6 795.2 304.7 794.9"/>
<path class="trk" stroke="#1f77b4" stroke-width="5" d="M309.7 778.7C310.4 778.6 316.0 776.9 317.1 777.4C318.3 778.0 322.1 783.8 322.1 784.9C322.1 786.0 317.6 789.4 317.1 789.9"/>
<path class="trk" stroke="#1f77b4" stroke-width="5" d="M322.1 813.5C322.7 813.6 327.7 814.3 328.3 814.8C329.0 815.2 330.0 818.1 329.6 818.5C329.1 819.0 323.8 819.3 323.4 819.8C322.9 820.2 323.7 823.1 324.6 823.5C325.5 823.9 332.5 824.1 333.3 824.1"/>
<path class="trk" stroke="#7f7f7f" d="M430.4 653.1C430.9 653.1 434.7 652.4 435.6 653.1C436.5 653.7 439.0 659.5 439.8 660.3C440.5 661.2 443.3 661.6 443.9 662.4C444.5 663.2 444.8 668.3 446.0 668.6C447.1 669.0 454.3 666.3 456.3 666.1C458.4 666.0 467.6 666.6 468.8 667.0C470.0 667.4 470.4 670.2 469.8 670.7C469.3 671.2 464.2 672.6 462.6 672.8C461.0 673.0 454.3 672.7 452.2 672.8C450.1 672.9 441.8 673.9 439.8 673.8C437.7 673.7 431.1 672.0 429.4 671.7C427.7 671.5 422.8 670.8 421.1 670.7C419.4 670.6 412.4 670.0 410.7 670.7C409.0 671.4 403.0 676.6 402.4 678.0C401.8 679.3 403.7 684.2 404.5 685.2C405.2 686.3 410.2 688.5 410.7 689.4C411.2 690.2 410.4 694.1 409.7 694.6C408.9 695.0 403.7 694.6 402.4 694.6C401.1 694.6 396.5 694.1 395.1 694.6C393.8 695.0 389.5 699.6 387.9 699.8C386.3 699.9 377.9 696.3 377.5 696.6C377.1 697.0 382.3 703.0 383.7 703.9C385.2 704.8 392.2 705.2 393.1 706.0C393.9 706.7 393.9 712.0 393.1 712.2C392.2 712.4 385.4 708.2 383.7 708.0C382.1 707.9 376.8 710.3 375.4 710.1C374.1 709.9 370.4 706.2 369.2 706.0C368.0 705.8 363.1 707.1 362.0 708.0C360.8 709.0 357.2 715.6 356.8 716.3"/>
<path class="trk" stroke="#7f7f7f" stroke-width="4.5" d="M399.6 693.6C399.5 694.3 399.0 700.3 398.3 701.1C397.7 701.9 392.6 701.3 392.1 702.3C391.7 703.4 393.8 711.4 393.4 712.3C392.9 713.2 388.4 711.7 387.1 712.3C385.9 712.9 381.0 717.7 379.7 718.5C378.3 719.3 372.9 720.8 372.2 721.0"/>
<path class="trk" stroke="#7f7f7f" stroke-width="4.5" d="M387.1 697.3C387.0 697.9 386.6 703.0 385.9 703.6C385.2 704.1 381.2 703.5 379.7 703.6C378.2 703.7 371.3 704.4 369.7 704.8C368.1 705.3 363.4 707.8 362.2 708.5C361.1 709.3 358.2 712.7 357.3 713.5C356.4 714.3 352.7 716.9 352.3 717.3"/>
<path class="trk" stroke="#7f7f7f" stroke-width="5" d="M322.4 691.1C323.0 691.5 327.3 694.7 328.6 694.9C330.0 695.0 336.0 692.8 337.3 692.4C338.7 691.9 343.0 690.1 343.6 689.9"/>
<path class="trk" stroke="#7f7f7f" stroke-width="5" d="M328.6 694.9C328.7 695.8 329.6 703.1 329.9 704.8C330.1 706.5 331.0 712.7 331.1 713.5"/>
<path class="trk" stroke="#7f7f7f" stroke-width="6" d="M300.0 734.7C300.9 734.8 308.4 736.2 310.0 735.9C311.6 735.7 316.7 732.5 317.4 732.2"/>
<path class="trk" stroke="#7f7f7f" stroke-width="6" d="M331.1 765.8C331.7 766.4 336.9 770.9 337.3 772.0C337.8 773.2 336.2 777.7 336.1 778.3"/>
<path class="trk" stroke="#7f7f7f" d="M274.7 697.3C274.8 697.9 275.9 702.1 275.9 703.6C275.9 705.1 274.8 712.6 274.7 713.5"/>
<path class="trk" stroke="#7f7f7f" stroke-width="5" d="M275.9 724.7C276.6 724.5 282.2 722.2 283.4 722.2C284.5 722.2 287.9 724.5 288.3 724.7"/>
<path class="trk" stroke="#7f7f7f" stroke-width="5" d="M287.1 734.7C287.7 734.5 292.0 732.2 293.3 732.2C294.7 732.2 300.5 734.6 302.0 734.7C303.6 734.8 309.3 733.6 310.0 733.4"/>
<path class="trk" stroke="#7f7f7f" stroke-width="5" d="M269.7 774.5C270.4 774.3 276.0 772.2 277.1 772.0C278.3 771.9 281.9 772.8 282.1 773.3C282.3 773.7 279.9 776.7 279.6 777.0"/>
<path class="trk" stroke="#7f7f7f" stroke-width="4.5" d="M240.0 803.6C240.2 803.8 241.8 806.1 242.4 806.1C243.1 806.1 246.3 804.0 247.4 803.6C248.6 803.1 253.3 801.3 254.9 801.1C256.5 800.9 263.3 801.0 264.9 801.1C266.5 801.2 271.2 802.6 272.3 802.3C273.5 802.1 276.6 799.4 277.3 798.6C278.0 797.8 279.3 794.5 279.8 793.6C280.3 792.7 281.8 789.4 282.3 788.6C282.7 787.8 285.0 785.7 284.8 784.9C284.5 784.1 280.7 780.7 279.8 779.9C278.9 779.1 275.6 776.6 274.8 776.2C274.0 775.7 271.4 775.1 271.1 774.9"/>
<path class="trk" stroke="#7f7f7f" stroke-width="4.5" d="M284.8 784.9C285.5 784.8 290.9 783.5 292.2 783.7C293.6 783.8 298.6 785.7 299.7 786.1C300.9 786.6 304.6 788.1 304.7 788.6C304.8 789.2 301.9 792.1 301.0 792.4C300.0 792.6 295.6 791.6 294.7 791.1C293.8 790.7 291.3 787.7 291.0 787.4"/>
<path class="trk" stroke="#7f7f7f" stroke-width="4.5" d="M261.1 817.9C261.6 818.2 265.3 820.3 266.1 821.0C266.9 821.7 269.5 824.8 269.8 826.0C270.2 827.1 270.1 832.2 269.8 833.4C269.6 834.7 267.9 838.6 267.3 839.7C266.8 840.7 264.0 843.7 263.6 844.7C263.3 845.6 263.4 848.9 263.6 849.6C263.8 850.3 265.8 852.5 266.1 852.1C266.4 851.8 266.9 847.2 267.3 845.9C267.8 844.6 270.2 839.6 271.1 838.4C272.0 837.3 276.0 833.9 277.3 833.4C278.6 833.0 283.4 833.2 284.8 833.4C286.1 833.7 291.3 835.4 292.2 835.9C293.2 836.5 294.7 839.4 294.7 839.7C294.7 839.9 293.2 838.4 292.2 838.4C291.3 838.4 286.1 839.3 284.8 839.7C283.4 840.0 277.5 841.8 277.3 842.2C277.1 842.5 281.1 843.4 282.3 843.4C283.4 843.4 288.6 842.3 289.8 842.2C290.9 842.0 293.7 841.7 294.7 842.2C295.8 842.6 299.9 846.8 301.0 847.1C302.0 847.5 305.0 846.8 305.9 845.9C306.8 845.0 310.0 838.6 310.9 837.2C311.8 835.8 315.2 832.2 315.9 831.0C316.6 829.7 318.0 825.0 318.4 823.5C318.7 822.0 319.5 816.1 319.6 814.8C319.7 813.4 318.9 809.2 319.6 808.5C320.3 807.9 326.2 807.8 327.1 807.3C328.0 806.8 329.7 804.5 329.6 803.6C329.5 802.7 326.3 798.6 325.9 797.3C325.4 796.1 325.0 791.2 324.6 789.9C324.3 788.5 322.0 783.4 322.1 782.4C322.2 781.4 324.8 779.1 325.9 778.7C326.9 778.2 332.2 778.0 333.3 777.4C334.5 776.9 338.1 773.5 338.3 772.4C338.5 771.4 336.4 767.4 335.8 766.2C335.2 765.1 332.4 760.6 332.1 760.0"/>
<path class="trk" stroke="#7f7f7f" stroke-width="5" d="M327.1 784.9C327.7 784.8 332.2 783.9 333.3 783.7C334.5 783.4 339.0 782.5 339.5 782.4"/>
<path class="trk" stroke="#7f7f7f" d="M280.0 843.7C280.6 843.5 285.1 842.0 286.2 841.7C287.4 841.3 291.3 839.2 292.4 839.6C293.6 840.0 297.5 845.1 298.7 845.8C299.8 846.5 303.8 847.4 304.9 846.8C306.0 846.3 310.4 840.8 311.1 839.6C311.9 838.3 312.4 834.5 313.2 833.4C314.0 832.2 318.8 827.7 319.4 827.1"/>
<path class="trk" stroke="#7f7f7f" d="M280.0 833.4C280.8 833.5 287.0 834.0 288.3 834.4C289.6 834.8 294.0 837.2 294.5 837.5"/>
<path class="trk" stroke="#17becf" d="M185.4 737.1C185.5 736.5 185.9 731.6 186.5 730.9C187.0 730.1 190.6 728.6 191.7 728.8C192.7 729.0 196.9 731.9 197.9 732.9C198.8 734.0 201.7 739.4 202.0 740.0"/>
<path class="trk" stroke="#17becf" d="M138.7 760.3C139.4 760.4 145.6 760.4 147.0 760.7C148.3 761.1 151.7 763.9 153.2 763.9C154.7 763.9 163.5 760.6 163.6 760.7C163.7 760.9 154.4 765.2 154.2 765.9C154.0 766.7 159.7 769.0 161.5 769.0C163.3 769.1 172.0 767.4 173.9 767.0C175.8 766.6 181.1 765.5 182.2 764.9C183.4 764.3 186.3 761.7 186.4 760.7C186.5 759.8 183.8 755.6 183.3 754.5C182.7 753.5 180.3 750.1 180.2 749.3C180.1 748.6 181.5 746.6 182.2 746.2C183.0 745.8 187.7 745.6 188.5 745.2C189.2 744.8 190.3 742.4 190.5 742.1"/>
<path class="trk" stroke="#17becf" d="M186.4 760.7C187.2 760.6 192.8 759.1 194.7 758.7C196.6 758.3 206.0 756.8 207.1 756.6"/>
<path class="trk" stroke="#17becf" d="M244.5 769.0C245.6 769.2 254.6 770.8 256.9 771.1C259.2 771.4 267.5 772.3 269.4 772.2C271.3 772.0 276.9 769.3 277.7 769.0"/>
<path class="trk" stroke="#17becf" d="M271.5 783.6C272.6 783.2 282.0 780.0 283.9 779.4C285.8 778.8 291.4 777.5 292.2 777.3"/>
<path class="trk" stroke="#17becf" d="M190.0 728.5C190.5 728.6 194.2 729.3 195.0 729.7C195.8 730.2 198.4 733.1 198.7 733.4"/>
<path class="trk" stroke="#17becf" d="M222.4 729.7C222.8 729.3 226.4 725.4 227.3 724.7C228.3 724.0 231.9 722.5 232.3 722.2"/>
<path class="trk" stroke="#17becf" d="M239.8 727.2 L248.5 727.2"/>
<path class="trk" stroke="#17becf" d="M198.7 759.6C199.4 759.1 204.9 755.4 206.2 754.6C207.4 753.8 211.8 751.2 212.4 750.9"/>
<path class="trk" stroke="#17becf" d="M239.8 768.3C240.6 768.6 246.7 771.6 248.5 772.0C250.3 772.5 257.8 773.3 259.7 773.3C261.7 773.3 268.3 772.5 269.7 772.0C271.0 771.6 274.2 768.6 274.7 768.3"/>
<path class="trk" stroke="#17becf" stroke-width="4.5" d="M277.1 749.6C277.8 749.9 283.7 751.2 284.6 752.1C285.5 753.0 286.3 758.1 287.1 759.6C287.9 761.1 292.2 766.9 293.3 768.3C294.5 769.7 299.9 773.6 299.5 774.5C299.2 775.4 290.5 777.9 289.6 778.3"/>
<path class="trk" stroke="#17becf" d="M244.8 758.3 L254.7 755.9"/>
<path class="trk" stroke="#17becf" d="M267.2 738.4 L274.7 737.2"/>
<path class="trk" stroke="#17becf" stroke-width="4.5" d="M384.7 698.6C384.2 698.7 380.6 699.0 379.7 699.8C378.8 700.6 375.8 706.2 374.7 707.3C373.6 708.4 368.4 711.3 367.2 712.3C366.1 713.3 362.7 717.4 362.2 718.5C361.8 719.6 361.8 723.9 362.2 724.7C362.7 725.5 366.1 727.5 367.2 727.2C368.4 727.0 373.6 723.4 374.7 722.2C375.8 721.1 379.0 716.3 379.7 714.8C380.4 713.3 381.7 707.5 382.2 706.1C382.6 704.6 384.4 699.3 384.7 698.6"/>
<path class="trk" stroke="#17becf" stroke-width="5" d="M357.3 717.3C356.6 717.1 351.2 715.9 349.8 716.0C348.4 716.1 343.7 717.9 342.3 718.5C341.0 719.1 335.9 721.4 334.9 722.2C333.8 723.0 331.3 726.1 331.1 727.2C330.9 728.4 332.5 733.6 332.4 734.7C332.3 735.8 329.5 739.1 329.9 739.7C330.2 740.2 336.0 740.2 336.1 740.9C336.2 741.6 332.4 746.3 331.1 747.1C329.9 747.9 323.9 749.1 322.4 749.6C320.9 750.2 315.9 752.6 314.9 753.4C314.0 754.2 313.1 757.4 312.4 758.3C311.8 759.3 308.4 762.4 307.5 763.3C306.6 764.2 303.2 767.6 302.5 768.3C301.8 769.0 300.2 770.6 300.0 770.8"/>
<path class="trk" stroke="#17becf" stroke-width="5" d="M337.3 729.7C338.0 729.8 343.9 730.3 344.8 731.0C345.7 731.6 347.2 736.2 347.3 737.2C347.4 738.2 345.6 741.5 346.1 742.2C346.5 742.8 351.0 744.9 352.3 744.7C353.5 744.4 358.0 740.2 359.8 739.7C361.5 739.1 369.9 738.5 371.0 738.4"/>
<path class="trk" stroke="#17becf" stroke-width="5" d="M342.3 728.5C343.0 727.9 348.4 722.8 349.8 722.2C351.2 721.7 356.6 722.2 357.3 722.2"/>
<path class="trk" stroke="#17becf" stroke-width="5" d="M312.4 754.6C313.1 754.8 318.4 757.0 319.9 757.1C321.4 757.2 327.8 756.0 328.6 755.9"/>
<path class="trk" stroke="#17becf" d="M243.7 767.5C244.3 767.8 248.4 770.7 249.9 771.2C251.4 771.7 257.9 772.3 259.9 772.4C261.8 772.6 269.5 772.9 271.1 772.4C272.7 772.0 276.8 768.4 277.3 767.5C277.8 766.6 276.2 762.9 276.1 762.5"/>
<path class="trk" stroke="#17becf" stroke-width="4.5" d="M269.8 783.7C270.3 783.4 273.7 781.3 274.8 781.2C276.0 781.0 281.0 782.5 282.3 782.4C283.5 782.3 287.1 780.5 288.5 779.9C289.9 779.3 296.0 776.9 297.2 776.2C298.5 775.5 301.7 772.8 302.2 772.4"/>
<path class="trk" stroke="#17becf" stroke-width="4.5" d="M269.8 783.7C270.5 783.9 275.9 786.0 277.3 786.1C278.7 786.3 284.1 785.0 284.8 784.9"/>
<path class="trk" stroke="#17becf" stroke-width="4.5" d="M289.8 760.0C290.0 760.7 291.6 766.1 292.2 767.5C292.9 768.8 296.8 774.3 297.2 774.9"/>
<path class="trk" stroke="#17becf" d="M319.6 828.5C320.3 828.4 325.8 828.2 327.1 827.8C328.4 827.5 332.3 824.7 333.3 824.7C334.4 824.8 337.6 828.7 338.3 828.5C339.0 828.2 340.7 823.3 340.8 822.2C340.9 821.2 339.3 818.1 339.5 817.3C339.8 816.5 343.2 814.2 343.3 813.5C343.4 812.8 341.5 810.5 340.8 809.8C340.1 809.1 336.6 806.7 335.8 806.1C335.0 805.4 332.4 802.7 332.1 802.3"/>
<path class="trk" stroke="#17becf" d="M334.6 788.6 L337.1 794.9"/>
<path class="trk" stroke="#17becf" d="M383.7 699.8C383.4 700.5 380.3 706.5 379.6 708.0C378.8 709.6 375.2 715.8 375.4 716.3C375.6 716.9 382.0 714.1 381.7 714.3C381.3 714.5 372.8 718.2 371.3 718.4C369.8 718.6 365.8 715.6 365.1 716.3C364.3 717.1 363.6 725.0 363.0 726.7C362.4 728.4 359.2 734.3 358.8 735.0"/>
<path class="trk" stroke="#17becf" d="M331.9 724.6C332.8 724.3 340.3 721.1 342.2 720.5C344.1 719.9 350.7 718.2 352.6 718.4C354.5 718.6 362.0 722.2 363.0 722.6"/>
<path class="trk" stroke="#17becf" d="M329.8 739.2 L333.9 726.7"/>
<path class="trk" stroke="#bcbd22" stroke-width="4.5" d="M289.6 660.0C289.4 660.7 287.8 666.1 287.1 667.5C286.4 668.8 283.1 673.6 282.1 674.9C281.1 676.3 276.6 681.2 275.9 682.4C275.2 683.7 274.3 688.4 274.7 688.6C275.0 688.9 278.3 685.1 279.6 684.9C281.0 684.7 288.1 685.5 289.6 686.1C291.1 686.8 295.0 691.0 295.8 692.4C296.6 693.7 297.7 699.3 298.3 701.1C298.9 702.9 301.5 710.3 302.0 712.3C302.6 714.2 304.5 720.4 304.5 722.2C304.5 724.1 302.7 730.6 302.0 732.2C301.4 733.8 298.2 738.4 297.1 739.7C295.9 740.9 290.7 745.2 289.6 745.9C288.4 746.6 285.1 747.0 284.6 747.1"/>
<path class="trk" stroke="#bcbd22" stroke-width="4.5" d="M284.6 714.8C285.1 714.1 288.4 708.6 289.6 707.3C290.7 706.0 295.7 702.0 297.1 701.1C298.4 700.2 303.3 697.8 304.5 697.3C305.7 696.9 309.5 696.2 310.0 696.1"/>
<path class="trk" stroke="#bcbd22" stroke-width="4.5" d="M300.0 698.6C300.7 698.4 306.3 696.2 307.5 696.1C308.6 696.0 312.1 696.3 312.4 697.3C312.8 698.4 311.2 705.4 311.2 707.3C311.2 709.2 312.2 716.7 312.4 718.5C312.7 720.3 313.9 725.9 313.7 727.2C313.5 728.6 310.8 733.3 310.0 733.4C309.2 733.6 305.2 729.7 305.0 728.5C304.8 727.2 307.7 721.2 307.5 719.8C307.2 718.3 303.2 712.3 302.5 712.3C301.8 712.3 300.2 719.1 300.0 719.8"/>
<path class="trk" stroke="#bcbd22" stroke-width="4.5" d="M298.3 701.1C298.0 702.1 295.6 710.7 294.6 712.3C293.5 713.9 288.2 717.8 287.1 718.5C286.0 719.2 282.6 719.6 282.1 719.8"/>
</g>
<g id="pc">
<clipPath id="clippc"><rect x="666.5" y="55.2" width="349.29999999999995" height="361.40000000000003"/></clipPath>
<rect x="666.5" y="55.2" width="349.3" height="361.4" fill="#fff" stroke="none"/>
<g clip-path="url(#clippc)">
<path d="M662.00 345.16L869.87 39.29" stroke="#000" stroke-width="4.2" fill="none"/>
<path d="M656.50 402.08L1025.80 133.32" stroke="#000" stroke-width="4.2" fill="none"/>
<g fill="#0000ff"><circle cx="703.1" cy="338.0" r="8"/><circle cx="740.1" cy="293.7" r="8"/><circle cx="761.7" cy="268.0" r="8"/><circle cx="777.1" cy="250.3" r="8"/><circle cx="789.0" cy="236.9" r="8"/><circle cx="798.7" cy="226.4" r="8"/><circle cx="806.9" cy="216.4" r="8"/><circle cx="814.0" cy="208.1" r="8"/><circle cx="820.3" cy="201.3" r="8"/><circle cx="825.9" cy="195.1" r="8"/><circle cx="831.0" cy="189.5" r="8"/><circle cx="835.7" cy="185.2" r="8"/><circle cx="839.9" cy="181.4" r="8"/><circle cx="843.9" cy="177.8" r="8"/><circle cx="847.6" cy="174.5" r="8"/><circle cx="851.0" cy="171.4" r="8"/><circle cx="854.2" cy="168.5" r="8"/><circle cx="857.3" cy="165.7" r="8"/><circle cx="860.2" cy="163.2" r="8"/><circle cx="862.9" cy="160.7" r="8"/><circle cx="865.5" cy="158.4" r="8"/><circle cx="868.0" cy="156.2" r="8"/><circle cx="870.4" cy="154.1" r="8"/><circle cx="872.6" cy="152.0" r="8"/><circle cx="874.8" cy="150.2" r="8"/><circle cx="876.9" cy="148.4" r="8"/><circle cx="878.9" cy="146.6" r="8"/><circle cx="880.9" cy="145.0" r="8"/><circle cx="882.7" cy="143.4" r="8"/><circle cx="884.5" cy="141.8" r="8"/><circle cx="886.3" cy="140.3" r="8"/><circle cx="888.0" cy="138.9" r="8"/><circle cx="889.6" cy="137.5" r="8"/><circle cx="891.2" cy="136.1" r="8"/><circle cx="892.8" cy="134.8" r="8"/><circle cx="894.3" cy="133.6" r="8"/><circle cx="895.7" cy="132.6" r="8"/><circle cx="897.1" cy="131.6" r="8"/><circle cx="898.5" cy="130.6" r="8"/><circle cx="899.9" cy="129.7" r="8"/><circle cx="901.2" cy="128.8" r="8"/><circle cx="902.5" cy="127.9" r="8"/><circle cx="903.7" cy="127.0" r="8"/><circle cx="905.0" cy="126.2" r="8"/><circle cx="906.2" cy="125.3" r="8"/><circle cx="907.3" cy="124.5" r="8"/><circle cx="908.5" cy="123.7" r="8"/><circle cx="909.6" cy="122.9" r="8"/><circle cx="910.7" cy="122.1" r="8"/><circle cx="911.8" cy="121.4" r="8"/><circle cx="912.8" cy="120.7" r="8"/><circle cx="913.9" cy="119.9" r="8"/><circle cx="914.9" cy="119.3" r="8"/><circle cx="915.9" cy="118.7" r="8"/><circle cx="916.9" cy="118.2" r="8"/><circle cx="917.8" cy="117.7" r="8"/><circle cx="918.8" cy="117.2" r="8"/><circle cx="919.7" cy="116.6" r="8"/><circle cx="920.6" cy="116.1" r="8"/><circle cx="921.5" cy="115.6" r="8"/><circle cx="922.4" cy="115.2" r="8"/><circle cx="923.2" cy="114.7" r="8"/><circle cx="924.1" cy="114.2" r="8"/><circle cx="924.9" cy="113.7" r="8"/><circle cx="925.8" cy="113.3" r="8"/><circle cx="926.6" cy="112.8" r="8"/><circle cx="927.4" cy="112.4" r="8"/><circle cx="928.2" cy="112.0" r="8"/><circle cx="929.0" cy="111.5" r="8"/><circle cx="929.7" cy="111.1" r="8"/><circle cx="930.5" cy="110.7" r="8"/><circle cx="931.2" cy="110.3" r="8"/><circle cx="932.0" cy="109.9" r="8"/><circle cx="932.7" cy="109.5" r="8"/><circle cx="933.4" cy="109.1" r="8"/><circle cx="934.1" cy="108.7" r="8"/><circle cx="934.8" cy="108.3" r="8"/><circle cx="935.5" cy="108.0" r="8"/><circle cx="936.2" cy="107.7" r="8"/><circle cx="936.8" cy="107.4" r="8"/><circle cx="937.5" cy="107.1" r="8"/><circle cx="938.2" cy="106.8" r="8"/><circle cx="938.8" cy="106.5" r="8"/><circle cx="939.4" cy="106.2" r="8"/><circle cx="940.1" cy="105.9" r="8"/><circle cx="940.7" cy="105.6" r="8"/><circle cx="941.3" cy="105.4" r="8"/><circle cx="941.9" cy="105.1" r="8"/><circle cx="942.5" cy="104.8" r="8"/><circle cx="943.1" cy="104.6" r="8"/><circle cx="943.7" cy="104.3" r="8"/><circle cx="944.3" cy="104.0" r="8"/><circle cx="944.9" cy="103.8" r="8"/><circle cx="945.4" cy="103.5" r="8"/><circle cx="946.0" cy="103.3" r="8"/><circle cx="946.6" cy="103.0" r="8"/><circle cx="947.1" cy="102.8" r="8"/><circle cx="947.7" cy="102.5" r="8"/><circle cx="948.2" cy="102.3" r="8"/><circle cx="948.7" cy="102.0" r="8"/><circle cx="949.3" cy="101.8" r="8"/><circle cx="949.8" cy="101.6" r="8"/><circle cx="950.3" cy="101.3" r="8"/><circle cx="950.8" cy="101.1" r="8"/><circle cx="951.3" cy="100.9" r="8"/><circle cx="951.9" cy="100.7" r="8"/><circle cx="952.4" cy="100.4" r="8"/><circle cx="952.8" cy="100.2" r="8"/><circle cx="953.3" cy="100.0" r="8"/><circle cx="953.8" cy="99.8" r="8"/><circle cx="954.3" cy="99.6" r="8"/><circle cx="954.8" cy="99.3" r="8"/><circle cx="955.3" cy="99.1" r="8"/><circle cx="955.7" cy="98.9" r="8"/><circle cx="956.2" cy="98.8" r="8"/><circle cx="956.7" cy="98.7" r="8"/><circle cx="957.1" cy="98.7" r="8"/><circle cx="957.6" cy="98.6" r="8"/><circle cx="958.0" cy="98.6" r="8"/><circle cx="958.9" cy="98.5" r="8"/><circle cx="959.8" cy="98.4" r="8"/><circle cx="960.6" cy="98.3" r="8"/><circle cx="961.5" cy="98.2" r="8"/><circle cx="962.3" cy="98.1" r="8"/><circle cx="963.1" cy="98.0" r="8"/><circle cx="964.0" cy="97.9" r="8"/><circle cx="964.7" cy="97.8" r="8"/><circle cx="965.5" cy="97.7" r="8"/><circle cx="966.3" cy="97.6" r="8"/><circle cx="967.1" cy="97.4" r="8"/><circle cx="967.8" cy="97.2" r="8"/><circle cx="968.6" cy="96.9" r="8"/><circle cx="969.3" cy="96.7" r="8"/><circle cx="970.0" cy="96.5" r="8"/><circle cx="970.7" cy="96.3" r="8"/><circle cx="971.4" cy="96.1" r="8"/><circle cx="972.1" cy="95.7" r="8"/><circle cx="972.8" cy="95.3" r="8"/><circle cx="973.5" cy="94.9" r="8"/><circle cx="974.1" cy="94.4" r="8"/><circle cx="974.8" cy="94.0" r="8"/><circle cx="975.5" cy="93.6" r="8"/><circle cx="976.1" cy="93.2" r="8"/><circle cx="976.7" cy="92.8" r="8"/><circle cx="977.4" cy="92.3" r="8"/><circle cx="978.0" cy="91.8" r="8"/><circle cx="978.6" cy="91.3" r="8"/><circle cx="979.2" cy="90.8" r="8"/><circle cx="979.8" cy="90.3" r="8"/><circle cx="980.4" cy="89.8" r="8"/><circle cx="981.0" cy="89.3" r="8"/><circle cx="981.6" cy="88.9" r="8"/><circle cx="982.1" cy="88.4" r="8"/><circle cx="982.7" cy="87.8" r="8"/><circle cx="983.3" cy="87.2" r="8"/><circle cx="983.8" cy="86.6" r="8"/><circle cx="984.4" cy="86.0" r="8"/><circle cx="984.9" cy="85.5" r="8"/><circle cx="985.4" cy="84.9" r="8"/><circle cx="986.0" cy="84.4" r="8"/><circle cx="986.5" cy="83.8" r="8"/><circle cx="987.0" cy="83.3" r="8"/><circle cx="987.5" cy="82.8" r="8"/><circle cx="988.1" cy="82.4" r="8"/><circle cx="988.6" cy="82.0" r="8"/><circle cx="989.1" cy="81.6" r="8"/><circle cx="989.6" cy="81.2" r="8"/><circle cx="990.1" cy="80.9" r="8"/><circle cx="990.5" cy="80.8" r="8"/><circle cx="991.0" cy="80.6" r="8"/><circle cx="991.5" cy="80.5" r="8"/><circle cx="992.0" cy="80.4" r="8"/><circle cx="992.5" cy="80.2" r="8"/><circle cx="992.9" cy="80.3" r="8"/><circle cx="993.4" cy="80.3" r="8"/><circle cx="993.9" cy="80.4" r="8"/><circle cx="994.3" cy="80.5" r="8"/><circle cx="994.8" cy="80.5" r="8"/><circle cx="995.2" cy="80.6" r="8"/><circle cx="995.7" cy="80.7" r="8"/><circle cx="996.3" cy="80.8" r="8"/><circle cx="997.0" cy="80.9" r="8"/><circle cx="997.6" cy="81.0" r="8"/><circle cx="998.0" cy="81.2" r="8"/><circle cx="998.5" cy="81.4" r="8"/><circle cx="998.9" cy="81.5" r="8"/><circle cx="999.5" cy="81.8" r="8"/><circle cx="1000.1" cy="82.4" r="8"/><circle cx="1000.3" cy="83.0" r="8"/><circle cx="1000.5" cy="83.7" r="8"/><circle cx="1000.7" cy="84.4" r="8"/><circle cx="1000.9" cy="85.1" r="8"/><circle cx="1001.1" cy="85.7" r="8"/><circle cx="1001.3" cy="87.5" r="8"/><circle cx="1001.5" cy="90.1" r="8"/><circle cx="1001.7" cy="92.7" r="8"/><circle cx="1001.9" cy="95.3" r="8"/><circle cx="1002.1" cy="97.8" r="8"/><circle cx="1002.3" cy="98.2" r="8"/><circle cx="1002.5" cy="96.8" r="8"/><circle cx="1002.7" cy="95.3" r="8"/><circle cx="1002.9" cy="93.9" r="8"/><circle cx="1003.1" cy="92.1" r="8"/><circle cx="1003.3" cy="89.8" r="8"/><circle cx="1003.5" cy="87.5" r="8"/><circle cx="1003.7" cy="85.2" r="8"/><circle cx="1003.8" cy="83.4" r="8"/><circle cx="1004.0" cy="83.0" r="8"/><circle cx="1004.2" cy="82.6" r="8"/><circle cx="1004.4" cy="82.2" r="8"/></g>
</g>
<rect x="666.5" y="55.2" width="349.3" height="361.4" fill="none" stroke="#000" stroke-width="1.8"/>
<path d="M670.28 416.60v4.5M675.90 416.60v7.9M712.87 416.60v4.5M734.49 416.60v4.5M749.83 416.60v4.5M761.73 416.60v4.5M771.46 416.60v4.5M779.68 416.60v4.5M786.80 416.60v4.5M793.08 416.60v4.5M798.70 416.60v7.9M835.67 416.60v4.5M857.29 416.60v4.5M872.63 416.60v4.5M884.53 416.60v4.5M894.26 416.60v4.5M902.48 416.60v4.5M909.60 416.60v4.5M915.88 416.60v4.5M921.50 416.60v7.9M958.47 416.60v4.5M980.09 416.60v4.5M995.43 416.60v4.5M1007.33 416.60v4.5M666.50 416.60h-7.9M666.50 389.40h-4.5M666.50 373.49h-4.5M666.50 362.20h-4.5M666.50 353.45h-4.5M666.50 346.29h-4.5M666.50 340.25h-4.5M666.50 335.01h-4.5M666.50 330.38h-4.5M666.50 326.25h-7.9M666.50 299.05h-4.5M666.50 283.14h-4.5M666.50 271.85h-4.5M666.50 263.10h-4.5M666.50 255.94h-4.5M666.50 249.90h-4.5M666.50 244.66h-4.5M666.50 240.03h-4.5M666.50 235.90h-7.9M666.50 208.70h-4.5M666.50 192.79h-4.5M666.50 181.50h-4.5M666.50 172.75h-4.5M666.50 165.59h-4.5M666.50 159.55h-4.5M666.50 154.31h-4.5M666.50 149.68h-4.5M666.50 145.55h-7.9M666.50 118.35h-4.5M666.50 102.44h-4.5M666.50 91.15h-4.5M666.50 82.40h-4.5M666.50 75.24h-4.5M666.50 69.20h-4.5M666.50 63.96h-4.5M666.50 59.33h-4.5M666.50 55.20h-7.9" stroke="#000" stroke-width="1.8" fill="none"/>
<text class="dj" x="675.9" y="450.4" text-anchor="middle">10<tspan class="sup" dy="-8.8">−1</tspan></text>
<text class="dj" x="798.7" y="450.4" text-anchor="middle">10<tspan class="sup" dy="-8.8">0</tspan></text>
<text class="dj" x="921.5" y="450.4" text-anchor="middle">10<tspan class="sup" dy="-8.8">1</tspan></text>
<text class="dj" x="648.9" y="424.5" text-anchor="end">10<tspan class="sup" dy="-8.8">1</tspan></text>
<text class="dj" x="648.9" y="334.1" text-anchor="end">10<tspan class="sup" dy="-8.8">2</tspan></text>
<text class="dj" x="648.9" y="243.8" text-anchor="end">10<tspan class="sup" dy="-8.8">3</tspan></text>
<text class="dj" x="648.9" y="153.5" text-anchor="end">10<tspan class="sup" dy="-8.8">4</tspan></text>
<text class="dj" x="648.9" y="63.1" text-anchor="end">10<tspan class="sup" dy="-8.8">5</tspan></text>
<text class="dj" x="840.1" y="483.8" text-anchor="middle">time (h)</text>
<text class="dj" transform="translate(591.3 235.9) rotate(-90)" text-anchor="middle">mean square displacement (<tspan font-style="italic">μ</tspan>m<tspan class="sup" dy="-8.8">2</tspan><tspan dy="8.8">)</tspan></text>
<text class="sr" font-size="37.5" transform="translate(700.5 266.3) rotate(-55.6)">ballistic<tspan dx="25">∼</tspan><tspan dx="9" font-style="italic">t</tspan><tspan font-size="26" dx="2" dy="-13.5">2</tspan></text>
<text class="sr" font-size="37.5" transform="translate(761.5 373.5) rotate(-36.2)">diffusive<tspan dx="25">∼</tspan><tspan dx="8.5" font-style="italic">t</tspan></text>
</g>
<g id="pd">
<clipPath id="clippd"><rect x="666.5" y="527.5" width="349.29999999999995" height="361.4000000000001"/></clipPath>
<rect x="666.5" y="527.5" width="349.3" height="361.4" fill="#fff" stroke="none"/>
<g clip-path="url(#clippd)">
<path d="M662.00 817.46L869.87 511.59" stroke="#000" stroke-width="4.2" fill="none"/>
<path d="M656.50 874.38L1025.80 605.62" stroke="#000" stroke-width="4.2" fill="none"/>
<path d="M660.5 847.2L663.5 842.9L666.5 838.7L669.5 834.4L672.5 830.2L675.6 826.0L678.6 821.8L681.6 817.7L684.6 813.5L687.6 809.3L690.6 805.2L693.6 801.1L696.6 797.0L699.6 792.9L702.7 788.8L705.7 784.8L708.7 780.7L711.7 776.7L714.7 772.7L717.7 768.8L720.7 764.8L723.7 760.9L726.7 757.0L729.7 753.2L732.8 749.3L735.8 745.5L738.8 741.7L741.8 738.0L744.8 734.3L747.8 730.6L750.8 726.9L753.8 723.3L756.8 719.7L759.9 716.2L762.9 712.7L765.9 709.2L768.9 705.8L771.9 702.4L774.9 699.1L777.9 695.8L780.9 692.5L783.9 689.3L787.0 686.1L790.0 682.9L793.0 679.8L796.0 676.8L799.0 673.7L802.0 670.8L805.0 667.8L808.0 664.9L811.0 662.0L814.1 659.2L817.1 656.4L820.1 653.7L823.1 650.9L826.1 648.2L829.1 645.5L832.1 642.9L835.1 640.3L838.1 637.7L841.1 635.1L844.2 632.6L847.2 630.0L850.2 627.5L853.2 625.0L856.2 622.6L859.2 620.1L862.2 617.7L865.2 615.2L868.2 612.8L871.3 610.4L874.3 608.0L877.3 605.6L880.3 603.3L883.3 600.9L886.3 598.5L889.3 596.2L892.3 593.8L895.3 591.5L898.4 589.2L901.4 586.9L904.4 584.6L907.4 582.2L910.4 579.9L913.4 577.6L916.4 575.3L919.4 573.1L922.4 570.8L925.5 568.5L928.5 566.2L931.5 563.9L934.5 561.7L937.5 559.4L940.5 557.1L943.5 554.9L946.5 552.6L949.5 550.4L952.6 548.1L955.6 545.9L958.6 543.6L961.6 541.4L964.6 539.1L967.6 536.9L970.6 534.6L973.6 532.4L976.6 530.1L979.6 527.9L982.7 525.7L985.7 523.4L988.7 521.2L991.7 519.0L994.7 516.7L997.7 514.5L1000.7 512.3L1003.7 510.0L1006.7 507.8L1009.8 505.6L1012.8 503.4L1015.8 501.1L1018.8 498.9L1021.8 496.7" stroke="#ff0000" stroke-width="4.6" fill="none"/>
</g>
<rect x="666.5" y="527.5" width="349.3" height="361.4" fill="none" stroke="#000" stroke-width="1.8"/>
<path d="M670.28 888.90v4.5M675.90 888.90v7.9M712.87 888.90v4.5M734.49 888.90v4.5M749.83 888.90v4.5M761.73 888.90v4.5M771.46 888.90v4.5M779.68 888.90v4.5M786.80 888.90v4.5M793.08 888.90v4.5M798.70 888.90v7.9M835.67 888.90v4.5M857.29 888.90v4.5M872.63 888.90v4.5M884.53 888.90v4.5M894.26 888.90v4.5M902.48 888.90v4.5M909.60 888.90v4.5M915.88 888.90v4.5M921.50 888.90v7.9M958.47 888.90v4.5M980.09 888.90v4.5M995.43 888.90v4.5M1007.33 888.90v4.5M666.50 888.90h-7.9M666.50 861.70h-4.5M666.50 845.79h-4.5M666.50 834.50h-4.5M666.50 825.75h-4.5M666.50 818.59h-4.5M666.50 812.55h-4.5M666.50 807.31h-4.5M666.50 802.68h-4.5M666.50 798.55h-7.9M666.50 771.35h-4.5M666.50 755.44h-4.5M666.50 744.15h-4.5M666.50 735.40h-4.5M666.50 728.24h-4.5M666.50 722.20h-4.5M666.50 716.96h-4.5M666.50 712.33h-4.5M666.50 708.20h-7.9M666.50 681.00h-4.5M666.50 665.09h-4.5M666.50 653.80h-4.5M666.50 645.05h-4.5M666.50 637.89h-4.5M666.50 631.85h-4.5M666.50 626.61h-4.5M666.50 621.98h-4.5M666.50 617.85h-7.9M666.50 590.65h-4.5M666.50 574.74h-4.5M666.50 563.45h-4.5M666.50 554.70h-4.5M666.50 547.54h-4.5M666.50 541.50h-4.5M666.50 536.26h-4.5M666.50 531.63h-4.5M666.50 527.50h-7.9" stroke="#000" stroke-width="1.8" fill="none"/>
<text class="dj" x="675.9" y="922.7" text-anchor="middle">10<tspan class="sup" dy="-8.8">−1</tspan></text>
<text class="dj" x="798.7" y="922.7" text-anchor="middle">10<tspan class="sup" dy="-8.8">0</tspan></text>
<text class="dj" x="921.5" y="922.7" text-anchor="middle">10<tspan class="sup" dy="-8.8">1</tspan></text>
<text class="dj" x="648.9" y="896.8" text-anchor="end">10<tspan class="sup" dy="-8.8">1</tspan></text>
<text class="dj" x="648.9" y="806.5" text-anchor="end">10<tspan class="sup" dy="-8.8">2</tspan></text>
<text class="dj" x="648.9" y="716.1" text-anchor="end">10<tspan class="sup" dy="-8.8">3</tspan></text>
<text class="dj" x="648.9" y="625.8" text-anchor="end">10<tspan class="sup" dy="-8.8">4</tspan></text>
<text class="dj" x="648.9" y="535.4" text-anchor="end">10<tspan class="sup" dy="-8.8">5</tspan></text>
<text class="dj" x="840.1" y="956.1" text-anchor="middle">time (h)</text>
<text class="dj" transform="translate(591.3 708.2) rotate(-90)" text-anchor="middle">mean square displacement (<tspan font-style="italic">μ</tspan>m<tspan class="sup" dy="-8.8">2</tspan><tspan dy="8.8">)</tspan></text>
<text class="sr" font-size="37.5" transform="translate(700.5 738.6) rotate(-55.6)">ballistic<tspan dx="25">∼</tspan><tspan dx="9" font-style="italic">t</tspan><tspan font-size="26" dx="2" dy="-13.5">2</tspan></text>
<text class="sr" font-size="37.5" transform="translate(761.5 845.8) rotate(-36.2)">diffusive<tspan dx="25">∼</tspan><tspan dx="8.5" font-style="italic">t</tspan></text>
</g>
</svg></body></html>
